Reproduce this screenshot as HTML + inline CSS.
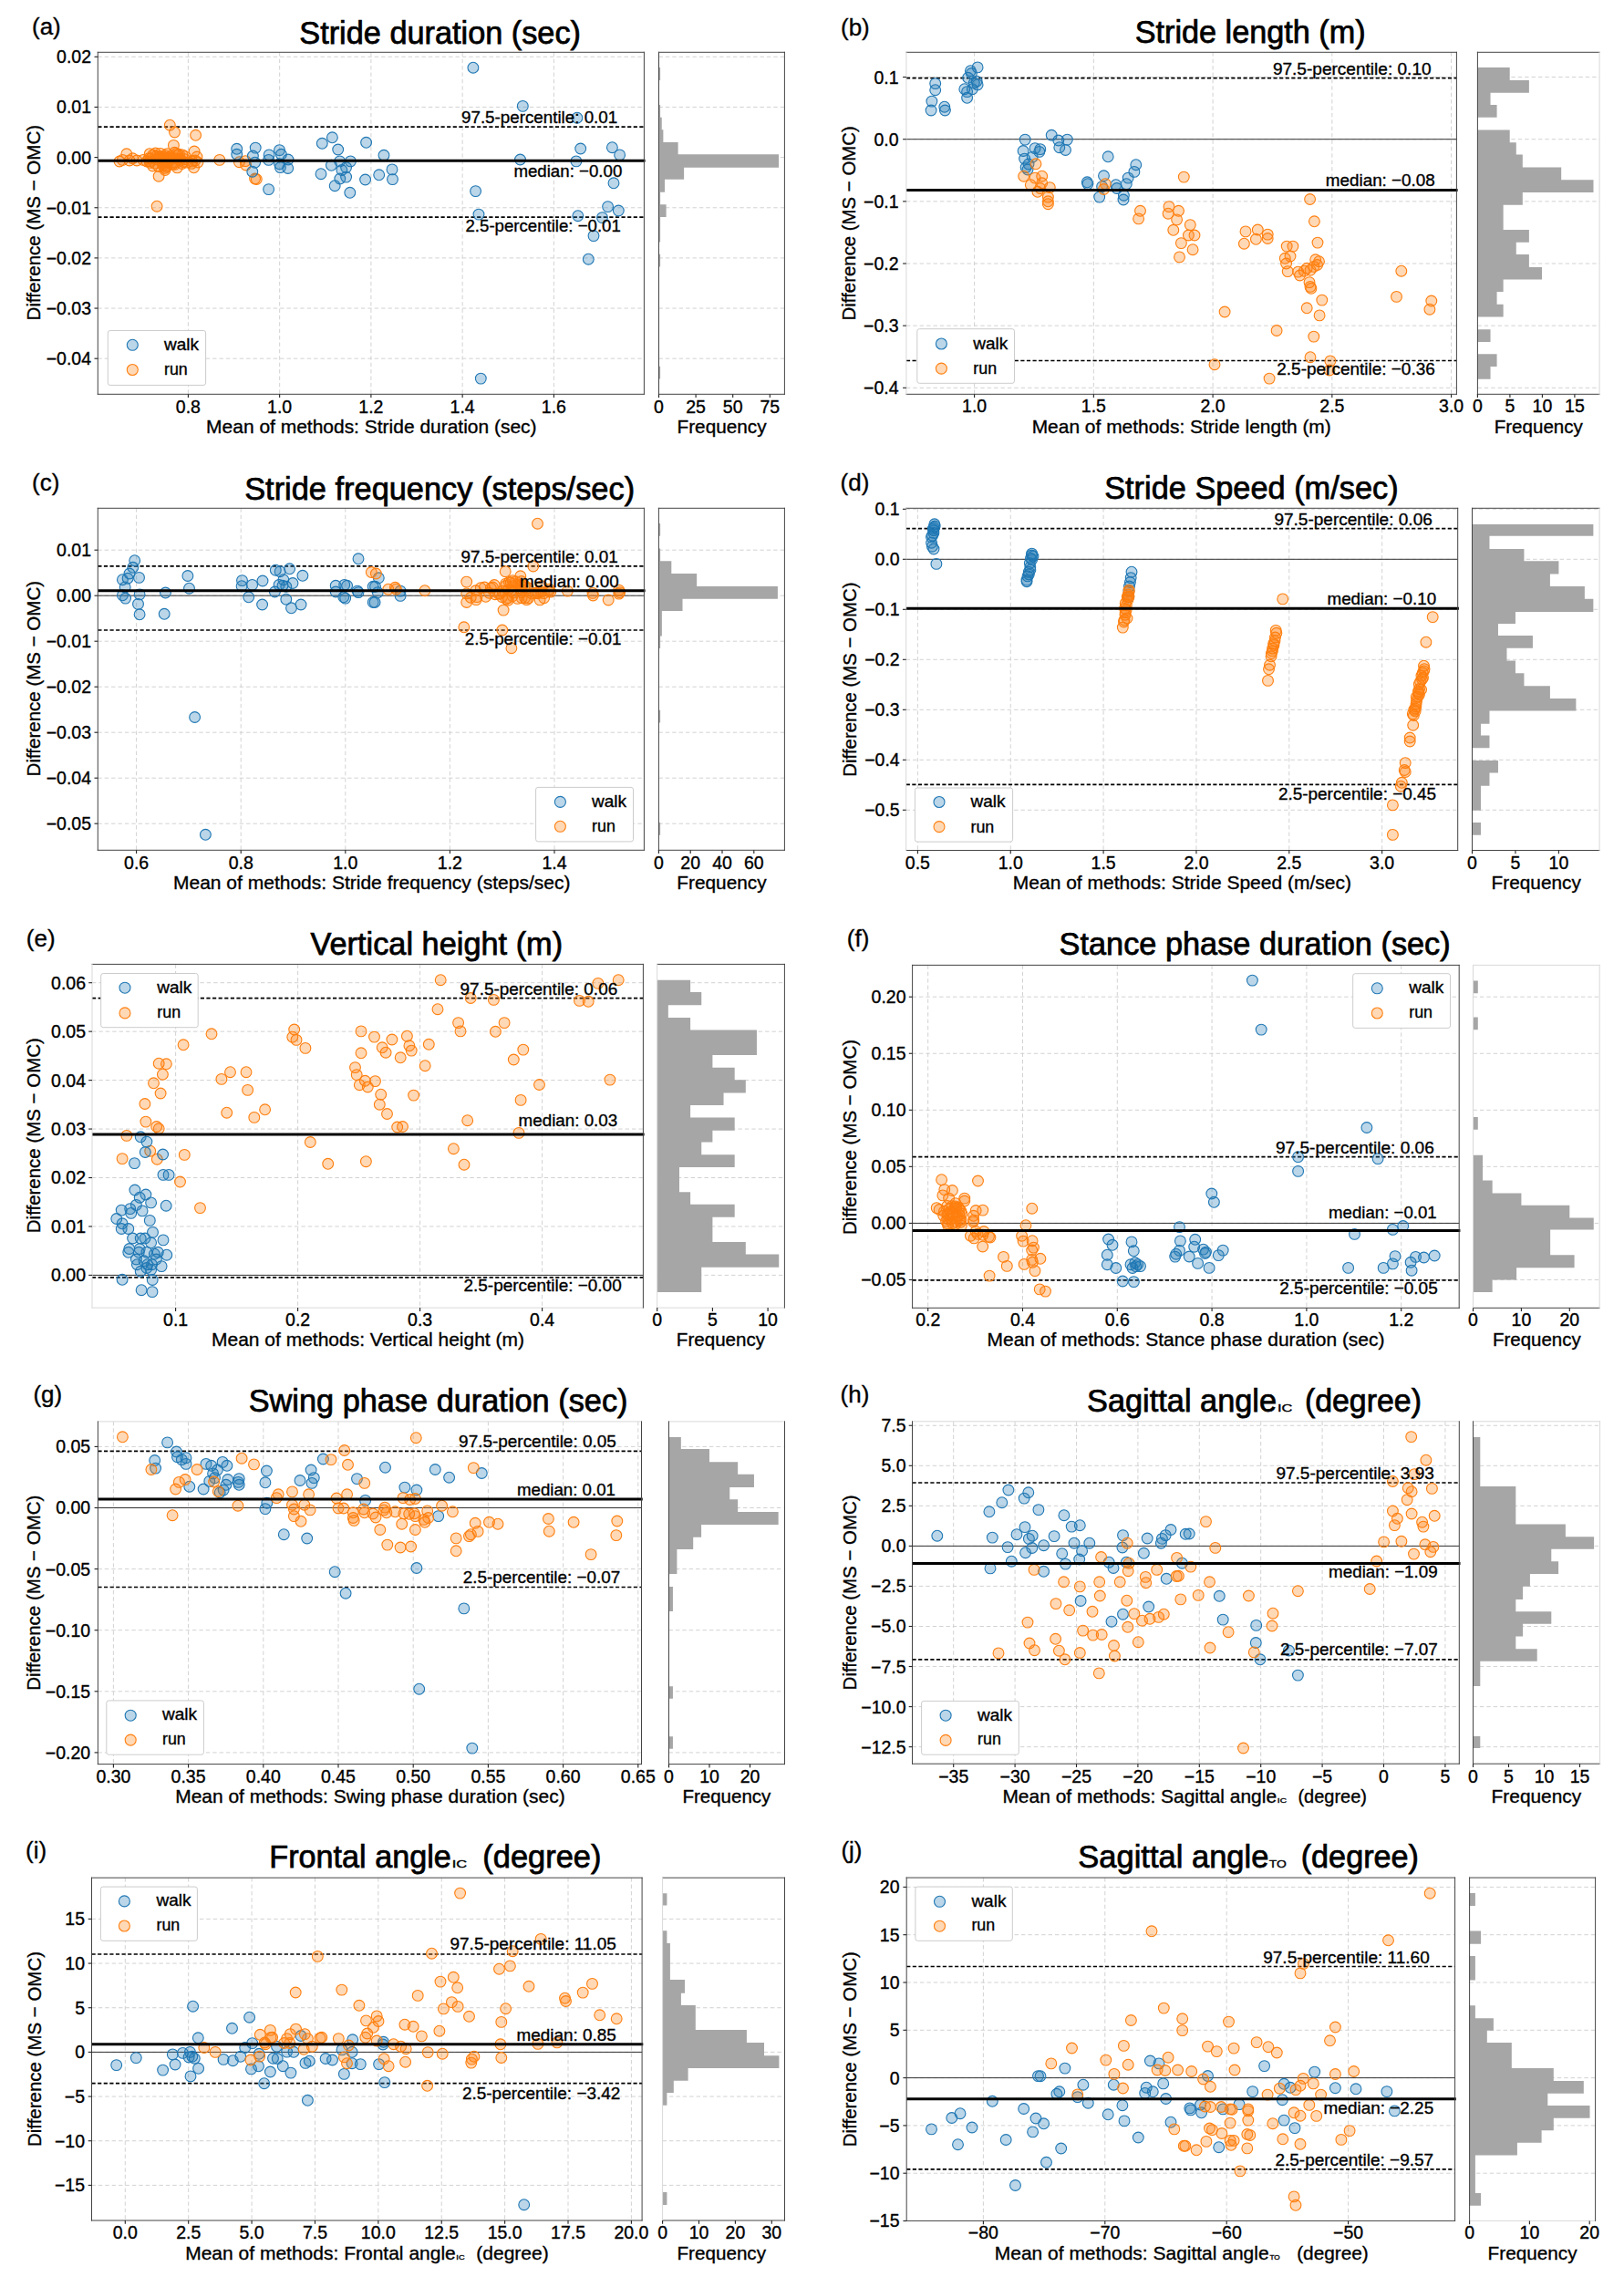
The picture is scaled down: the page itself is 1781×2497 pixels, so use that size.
<!DOCTYPE html>
<html><head><meta charset="utf-8"><title>Bland-Altman plots</title><style>
html,body{margin:0;padding:0;background:#fff;}
svg{display:block;}
text{font-family:'Liberation Sans', Arial, Helvetica, sans-serif;fill:#000;stroke:#000;stroke-width:0.35px;}
.b{fill:#1f77b4;fill-opacity:0.3;stroke:#1f77b4;stroke-width:1.1;}
.o{fill:#ff7f0e;fill-opacity:0.3;stroke:#ff7f0e;stroke-width:1.1;}
</style></head>
<body><svg xmlns="http://www.w3.org/2000/svg" width="1781" height="2497" viewBox="0 0 1781 2497">
<rect width="1781" height="2497" fill="#fff"/>
<line x1="206.4" y1="57.3" x2="206.4" y2="432.3" stroke="#cdcdcd" stroke-width="0.9" stroke-dasharray="4.4,3.0"/>
<line x1="306.65" y1="57.3" x2="306.65" y2="432.3" stroke="#cdcdcd" stroke-width="0.9" stroke-dasharray="4.4,3.0"/>
<line x1="406.9" y1="57.3" x2="406.9" y2="432.3" stroke="#cdcdcd" stroke-width="0.9" stroke-dasharray="4.4,3.0"/>
<line x1="507.15" y1="57.3" x2="507.15" y2="432.3" stroke="#cdcdcd" stroke-width="0.9" stroke-dasharray="4.4,3.0"/>
<line x1="607.4" y1="57.3" x2="607.4" y2="432.3" stroke="#cdcdcd" stroke-width="0.9" stroke-dasharray="4.4,3.0"/>
<line x1="107.3" y1="62.3" x2="706.4" y2="62.3" stroke="#cdcdcd" stroke-width="0.9" stroke-dasharray="4.4,3.0"/>
<line x1="722.5" y1="62.3" x2="860.4" y2="62.3" stroke="#cdcdcd" stroke-width="0.9" stroke-dasharray="4.4,3.0"/>
<line x1="107.3" y1="117.45" x2="706.4" y2="117.45" stroke="#cdcdcd" stroke-width="0.9" stroke-dasharray="4.4,3.0"/>
<line x1="722.5" y1="117.45" x2="860.4" y2="117.45" stroke="#cdcdcd" stroke-width="0.9" stroke-dasharray="4.4,3.0"/>
<line x1="722.5" y1="172.6" x2="860.4" y2="172.6" stroke="#cdcdcd" stroke-width="0.9" stroke-dasharray="4.4,3.0"/>
<line x1="107.3" y1="227.75" x2="706.4" y2="227.75" stroke="#cdcdcd" stroke-width="0.9" stroke-dasharray="4.4,3.0"/>
<line x1="722.5" y1="227.75" x2="860.4" y2="227.75" stroke="#cdcdcd" stroke-width="0.9" stroke-dasharray="4.4,3.0"/>
<line x1="107.3" y1="282.9" x2="706.4" y2="282.9" stroke="#cdcdcd" stroke-width="0.9" stroke-dasharray="4.4,3.0"/>
<line x1="722.5" y1="282.9" x2="860.4" y2="282.9" stroke="#cdcdcd" stroke-width="0.9" stroke-dasharray="4.4,3.0"/>
<line x1="107.3" y1="338.05" x2="706.4" y2="338.05" stroke="#cdcdcd" stroke-width="0.9" stroke-dasharray="4.4,3.0"/>
<line x1="722.5" y1="338.05" x2="860.4" y2="338.05" stroke="#cdcdcd" stroke-width="0.9" stroke-dasharray="4.4,3.0"/>
<line x1="107.3" y1="393.2" x2="706.4" y2="393.2" stroke="#cdcdcd" stroke-width="0.9" stroke-dasharray="4.4,3.0"/>
<line x1="722.5" y1="393.2" x2="860.4" y2="393.2" stroke="#cdcdcd" stroke-width="0.9" stroke-dasharray="4.4,3.0"/>
<path d="M722.5 73.9h1.62V88H722.5ZM722.5 115.1h1.62V128.7H722.5ZM722.5 128.7h3.25V142.2H722.5ZM722.5 142.2h4.87V156H722.5ZM722.5 156h21.11V169.3H722.5ZM722.5 169.3h131.54V183.7H722.5ZM722.5 183.7h27.61V196.8H722.5ZM722.5 196.8h6.5V210.8H722.5ZM722.5 210.8h1.62V224.2H722.5ZM722.5 224.2h8.12V238H722.5ZM722.5 238h1.62V251.8H722.5ZM722.5 251.8h1.62V265.5H722.5ZM722.5 278.8h1.62V292.6H722.5ZM722.5 401.8h1.62V415.6H722.5Z" fill="#a6a6a6"/>
<line x1="107.3" y1="139.2" x2="706.4" y2="139.2" stroke="#000" stroke-width="1.7" stroke-dasharray="4.2,2.4"/>
<line x1="107.3" y1="238.1" x2="706.4" y2="238.1" stroke="#000" stroke-width="1.7" stroke-dasharray="4.2,2.4"/>
<g><circle cx="134.4" cy="175.4" r="5.9" class="o"/><circle cx="138.8" cy="168.8" r="5.9" class="o"/><circle cx="145.5" cy="173.8" r="5.9" class="o"/><circle cx="157.1" cy="175.4" r="5.9" class="o"/><circle cx="167.7" cy="169.9" r="5.9" class="o"/><circle cx="186.3" cy="137.2" r="5.9" class="o"/><circle cx="191.5" cy="145" r="5.9" class="o"/><circle cx="214.6" cy="148.3" r="5.9" class="o"/><circle cx="190.4" cy="159.4" r="5.9" class="o"/><circle cx="213.1" cy="166" r="5.9" class="o"/><circle cx="212.6" cy="183.8" r="5.9" class="o"/><circle cx="174.1" cy="193.2" r="5.9" class="o"/><circle cx="181" cy="186.5" r="5.9" class="o"/><circle cx="172.1" cy="226.2" r="5.9" class="o"/><circle cx="240.8" cy="175.4" r="5.9" class="o"/><circle cx="262.4" cy="177.7" r="5.9" class="o"/><circle cx="269.1" cy="176.6" r="5.9" class="o"/><circle cx="269.6" cy="181" r="5.9" class="o"/><circle cx="279.6" cy="196" r="5.9" class="o"/><circle cx="281.3" cy="196.5" r="5.9" class="o"/><circle cx="131" cy="177" r="5.9" class="o"/><circle cx="142" cy="176" r="5.9" class="o"/><circle cx="150" cy="176" r="5.9" class="o"/><circle cx="161" cy="177" r="5.9" class="o"/><circle cx="165" cy="174" r="5.9" class="o"/><circle cx="216" cy="172" r="5.9" class="o"/><circle cx="217" cy="178" r="5.9" class="o"/><circle cx="214" cy="176" r="5.9" class="o"/><circle cx="169.45" cy="179.12" r="5.9" class="o"/><circle cx="175.24" cy="171.55" r="5.9" class="o"/><circle cx="186.78" cy="171.59" r="5.9" class="o"/><circle cx="200.86" cy="177.45" r="5.9" class="o"/><circle cx="167.51" cy="181.99" r="5.9" class="o"/><circle cx="183.77" cy="177.08" r="5.9" class="o"/><circle cx="199.59" cy="179.47" r="5.9" class="o"/><circle cx="197.63" cy="176.05" r="5.9" class="o"/><circle cx="173.98" cy="182.49" r="5.9" class="o"/><circle cx="164.22" cy="168.68" r="5.9" class="o"/><circle cx="181.3" cy="174.05" r="5.9" class="o"/><circle cx="173.4" cy="175.31" r="5.9" class="o"/><circle cx="184.02" cy="173.67" r="5.9" class="o"/><circle cx="173.5" cy="173.44" r="5.9" class="o"/><circle cx="164.03" cy="176.66" r="5.9" class="o"/><circle cx="203.2" cy="171.7" r="5.9" class="o"/><circle cx="171.92" cy="174.41" r="5.9" class="o"/><circle cx="210.64" cy="177.04" r="5.9" class="o"/><circle cx="178.97" cy="174.75" r="5.9" class="o"/><circle cx="197.63" cy="174.19" r="5.9" class="o"/><circle cx="183.26" cy="168.71" r="5.9" class="o"/><circle cx="202.84" cy="174.69" r="5.9" class="o"/><circle cx="191.2" cy="173.61" r="5.9" class="o"/><circle cx="205.36" cy="178.16" r="5.9" class="o"/><circle cx="182.89" cy="181.71" r="5.9" class="o"/><circle cx="171.3" cy="171.25" r="5.9" class="o"/><circle cx="195.38" cy="174.49" r="5.9" class="o"/><circle cx="180.99" cy="172.46" r="5.9" class="o"/><circle cx="188.01" cy="173.09" r="5.9" class="o"/><circle cx="164.42" cy="178.31" r="5.9" class="o"/><circle cx="191.47" cy="167.24" r="5.9" class="o"/><circle cx="181.89" cy="177.81" r="5.9" class="o"/><circle cx="210.14" cy="179.32" r="5.9" class="o"/><circle cx="199.99" cy="169.85" r="5.9" class="o"/><circle cx="187.66" cy="180.02" r="5.9" class="o"/><circle cx="175.93" cy="168.33" r="5.9" class="o"/><circle cx="163.27" cy="173.61" r="5.9" class="o"/><circle cx="179.61" cy="176.28" r="5.9" class="o"/><circle cx="191.05" cy="177.98" r="5.9" class="o"/><circle cx="178.94" cy="172.21" r="5.9" class="o"/><circle cx="193.56" cy="168.42" r="5.9" class="o"/><circle cx="170.58" cy="168.07" r="5.9" class="o"/><circle cx="196.45" cy="169.25" r="5.9" class="o"/><circle cx="194.91" cy="170.27" r="5.9" class="o"/><circle cx="181.27" cy="170.37" r="5.9" class="o"/><circle cx="178.64" cy="181.32" r="5.9" class="o"/><circle cx="189.36" cy="180.13" r="5.9" class="o"/><circle cx="180.94" cy="184.4" r="5.9" class="o"/><circle cx="191.77" cy="180.25" r="5.9" class="o"/><circle cx="194.35" cy="183.9" r="5.9" class="o"/><circle cx="178.56" cy="179.11" r="5.9" class="o"/><circle cx="182.33" cy="183.23" r="5.9" class="o"/><circle cx="259.7" cy="163.3" r="5.9" class="b"/><circle cx="259.7" cy="169.3" r="5.9" class="b"/><circle cx="280.2" cy="162.1" r="5.9" class="b"/><circle cx="277.4" cy="171" r="5.9" class="b"/><circle cx="279.6" cy="178.2" r="5.9" class="b"/><circle cx="276.8" cy="188.2" r="5.9" class="b"/><circle cx="294.6" cy="207.6" r="5.9" class="b"/><circle cx="295.1" cy="169.9" r="5.9" class="b"/><circle cx="294.6" cy="175.4" r="5.9" class="b"/><circle cx="306.5" cy="164.6" r="5.9" class="b"/><circle cx="308.4" cy="169.3" r="5.9" class="b"/><circle cx="306.5" cy="179.8" r="5.9" class="b"/><circle cx="307.4" cy="183.6" r="5.9" class="b"/><circle cx="316" cy="175" r="5.9" class="b"/><circle cx="315.7" cy="184.5" r="5.9" class="b"/><circle cx="353.3" cy="157.3" r="5.9" class="b"/><circle cx="364.4" cy="150.8" r="5.9" class="b"/><circle cx="370.7" cy="164" r="5.9" class="b"/><circle cx="363.4" cy="181.3" r="5.9" class="b"/><circle cx="372.6" cy="176.9" r="5.9" class="b"/><circle cx="384.4" cy="176.9" r="5.9" class="b"/><circle cx="374.9" cy="186.5" r="5.9" class="b"/><circle cx="379.6" cy="183.6" r="5.9" class="b"/><circle cx="379.6" cy="194.1" r="5.9" class="b"/><circle cx="372.8" cy="196" r="5.9" class="b"/><circle cx="352" cy="190.7" r="5.9" class="b"/><circle cx="367.2" cy="203.7" r="5.9" class="b"/><circle cx="383.8" cy="211.3" r="5.9" class="b"/><circle cx="401.6" cy="156.3" r="5.9" class="b"/><circle cx="400.6" cy="197" r="5.9" class="b"/><circle cx="518.9" cy="74.2" r="5.9" class="b"/><circle cx="573.3" cy="116.4" r="5.9" class="b"/><circle cx="632.9" cy="129.2" r="5.9" class="b"/><circle cx="421" cy="170.3" r="5.9" class="b"/><circle cx="430" cy="185.9" r="5.9" class="b"/><circle cx="415.7" cy="191.8" r="5.9" class="b"/><circle cx="430.5" cy="196.6" r="5.9" class="b"/><circle cx="570.5" cy="175" r="5.9" class="b"/><circle cx="636.7" cy="163" r="5.9" class="b"/><circle cx="631.9" cy="176.9" r="5.9" class="b"/><circle cx="671.4" cy="161.7" r="5.9" class="b"/><circle cx="679.6" cy="169.9" r="5.9" class="b"/><circle cx="673" cy="200.8" r="5.9" class="b"/><circle cx="521.6" cy="209.6" r="5.9" class="b"/><circle cx="525" cy="235.1" r="5.9" class="b"/><circle cx="633.8" cy="236.7" r="5.9" class="b"/><circle cx="660.5" cy="238.6" r="5.9" class="b"/><circle cx="666.6" cy="226.6" r="5.9" class="b"/><circle cx="678.3" cy="231" r="5.9" class="b"/><circle cx="651" cy="258.6" r="5.9" class="b"/><circle cx="645.3" cy="284.2" r="5.9" class="b"/><circle cx="527.3" cy="415.1" r="5.9" class="b"/></g>
<line x1="107.3" y1="176.2" x2="707.6" y2="176.2" stroke="#000" stroke-width="3"/>
<rect x="118.3" y="362.5" width="107.3" height="59.9" rx="2.5" fill="#fff" stroke="#cccccc" stroke-width="1"/>
<circle cx="145.3" cy="378.3" r="6.0" class="b"/>
<text x="180" y="383.8" font-size="18.5" text-anchor="start" textLength="38" lengthAdjust="spacingAndGlyphs">walk</text>
<circle cx="145.3" cy="405.5" r="6.0" class="o"/>
<text x="180" y="411.3" font-size="18.5" text-anchor="start" textLength="25.8" lengthAdjust="spacingAndGlyphs">run</text>
<text x="677.2" y="135.3" font-size="19" text-anchor="end" textLength="171.2" lengthAdjust="spacingAndGlyphs">97.5-percentile: 0.01</text>
<text x="682.3" y="193.8" font-size="19" text-anchor="end" textLength="118.9" lengthAdjust="spacingAndGlyphs">median: −0.00</text>
<text x="680.8" y="254.2" font-size="19" text-anchor="end" textLength="170.3" lengthAdjust="spacingAndGlyphs">2.5-percentile: −0.01</text>
<line x1="107.3" y1="57.3" x2="706.4" y2="57.3" stroke="#444" stroke-width="1" stroke-linecap="square"/>
<line x1="107.3" y1="432.3" x2="706.4" y2="432.3" stroke="#444" stroke-width="1" stroke-linecap="square"/>
<line x1="107.3" y1="57.3" x2="107.3" y2="432.3" stroke="#444" stroke-width="1" stroke-linecap="square"/>
<line x1="706.4" y1="57.3" x2="706.4" y2="432.3" stroke="#444" stroke-width="1" stroke-linecap="square"/>
<line x1="722.5" y1="57.3" x2="860.4" y2="57.3" stroke="#444" stroke-width="1" stroke-linecap="square"/>
<line x1="722.5" y1="432.3" x2="860.4" y2="432.3" stroke="#444" stroke-width="1" stroke-linecap="square"/>
<line x1="722.5" y1="57.3" x2="722.5" y2="432.3" stroke="#444" stroke-width="1" stroke-linecap="square"/>
<line x1="860.4" y1="57.3" x2="860.4" y2="432.3" stroke="#444" stroke-width="1" stroke-linecap="square"/>
<line x1="206.4" y1="432.3" x2="206.4" y2="436.1" stroke="#222" stroke-width="1.1"/>
<text x="206.4" y="452.8" font-size="19.5" text-anchor="middle">0.8</text>
<line x1="306.65" y1="432.3" x2="306.65" y2="436.1" stroke="#222" stroke-width="1.1"/>
<text x="306.65" y="452.8" font-size="19.5" text-anchor="middle">1.0</text>
<line x1="406.9" y1="432.3" x2="406.9" y2="436.1" stroke="#222" stroke-width="1.1"/>
<text x="406.9" y="452.8" font-size="19.5" text-anchor="middle">1.2</text>
<line x1="507.15" y1="432.3" x2="507.15" y2="436.1" stroke="#222" stroke-width="1.1"/>
<text x="507.15" y="452.8" font-size="19.5" text-anchor="middle">1.4</text>
<line x1="607.4" y1="432.3" x2="607.4" y2="436.1" stroke="#222" stroke-width="1.1"/>
<text x="607.4" y="452.8" font-size="19.5" text-anchor="middle">1.6</text>
<line x1="103.5" y1="62.3" x2="107.3" y2="62.3" stroke="#222" stroke-width="1.1"/>
<text x="100" y="69.28" font-size="19.5" text-anchor="end">0.02</text>
<line x1="103.5" y1="117.45" x2="107.3" y2="117.45" stroke="#222" stroke-width="1.1"/>
<text x="100" y="124.43" font-size="19.5" text-anchor="end">0.01</text>
<line x1="103.5" y1="172.6" x2="107.3" y2="172.6" stroke="#222" stroke-width="1.1"/>
<text x="100" y="179.58" font-size="19.5" text-anchor="end">0.00</text>
<line x1="103.5" y1="227.75" x2="107.3" y2="227.75" stroke="#222" stroke-width="1.1"/>
<text x="100" y="234.73" font-size="19.5" text-anchor="end">−0.01</text>
<line x1="103.5" y1="282.9" x2="107.3" y2="282.9" stroke="#222" stroke-width="1.1"/>
<text x="100" y="289.88" font-size="19.5" text-anchor="end">−0.02</text>
<line x1="103.5" y1="338.05" x2="107.3" y2="338.05" stroke="#222" stroke-width="1.1"/>
<text x="100" y="345.03" font-size="19.5" text-anchor="end">−0.03</text>
<line x1="103.5" y1="393.2" x2="107.3" y2="393.2" stroke="#222" stroke-width="1.1"/>
<text x="100" y="400.18" font-size="19.5" text-anchor="end">−0.04</text>
<line x1="722.5" y1="432.3" x2="722.5" y2="436.1" stroke="#222" stroke-width="1.1"/>
<text x="722.5" y="452.8" font-size="19.5" text-anchor="middle">0</text>
<line x1="763.1" y1="432.3" x2="763.1" y2="436.1" stroke="#222" stroke-width="1.1"/>
<text x="763.1" y="452.8" font-size="19.5" text-anchor="middle">25</text>
<line x1="803.7" y1="432.3" x2="803.7" y2="436.1" stroke="#222" stroke-width="1.1"/>
<text x="803.7" y="452.8" font-size="19.5" text-anchor="middle">50</text>
<line x1="844.3" y1="432.3" x2="844.3" y2="436.1" stroke="#222" stroke-width="1.1"/>
<text x="844.3" y="452.8" font-size="19.5" text-anchor="middle">75</text>
<text x="35" y="37.7" font-size="26" text-anchor="start">(a)</text>
<text x="328.3" y="47.6" font-size="34.3" text-anchor="start" textLength="308.7" lengthAdjust="spacingAndGlyphs" style="stroke-width:0.75px">Stride duration (sec)</text>
<text x="226.1" y="474.8" font-size="21" text-anchor="start" textLength="362.5" lengthAdjust="spacingAndGlyphs">Mean of methods: Stride duration (sec)</text>
<text x="742.5" y="474.8" font-size="21" text-anchor="start" textLength="98.1" lengthAdjust="spacingAndGlyphs">Frequency</text>
<text x="0" y="0" font-size="21" text-anchor="middle" transform="translate(43.7,244.2) rotate(-90)" textLength="214.4" lengthAdjust="spacingAndGlyphs">Difference (MS − OMC)</text>
<line x1="1068.6" y1="57.3" x2="1068.6" y2="432.3" stroke="#cdcdcd" stroke-width="0.9" stroke-dasharray="4.4,3.0"/>
<line x1="1199.35" y1="57.3" x2="1199.35" y2="432.3" stroke="#cdcdcd" stroke-width="0.9" stroke-dasharray="4.4,3.0"/>
<line x1="1330.1" y1="57.3" x2="1330.1" y2="432.3" stroke="#cdcdcd" stroke-width="0.9" stroke-dasharray="4.4,3.0"/>
<line x1="1460.85" y1="57.3" x2="1460.85" y2="432.3" stroke="#cdcdcd" stroke-width="0.9" stroke-dasharray="4.4,3.0"/>
<line x1="1591.6" y1="57.3" x2="1591.6" y2="432.3" stroke="#cdcdcd" stroke-width="0.9" stroke-dasharray="4.4,3.0"/>
<line x1="993.9" y1="84.55" x2="1597.4" y2="84.55" stroke="#cdcdcd" stroke-width="0.9" stroke-dasharray="4.4,3.0"/>
<line x1="1620.4" y1="84.55" x2="1754.1" y2="84.55" stroke="#cdcdcd" stroke-width="0.9" stroke-dasharray="4.4,3.0"/>
<line x1="993.9" y1="152.7" x2="1597.4" y2="152.7" stroke="#cdcdcd" stroke-width="0.9" stroke-dasharray="4.4,3.0"/>
<line x1="1620.4" y1="152.7" x2="1754.1" y2="152.7" stroke="#cdcdcd" stroke-width="0.9" stroke-dasharray="4.4,3.0"/>
<line x1="993.9" y1="220.85" x2="1597.4" y2="220.85" stroke="#cdcdcd" stroke-width="0.9" stroke-dasharray="4.4,3.0"/>
<line x1="1620.4" y1="220.85" x2="1754.1" y2="220.85" stroke="#cdcdcd" stroke-width="0.9" stroke-dasharray="4.4,3.0"/>
<line x1="993.9" y1="289" x2="1597.4" y2="289" stroke="#cdcdcd" stroke-width="0.9" stroke-dasharray="4.4,3.0"/>
<line x1="1620.4" y1="289" x2="1754.1" y2="289" stroke="#cdcdcd" stroke-width="0.9" stroke-dasharray="4.4,3.0"/>
<line x1="993.9" y1="357.15" x2="1597.4" y2="357.15" stroke="#cdcdcd" stroke-width="0.9" stroke-dasharray="4.4,3.0"/>
<line x1="1620.4" y1="357.15" x2="1754.1" y2="357.15" stroke="#cdcdcd" stroke-width="0.9" stroke-dasharray="4.4,3.0"/>
<line x1="993.9" y1="425.3" x2="1597.4" y2="425.3" stroke="#cdcdcd" stroke-width="0.9" stroke-dasharray="4.4,3.0"/>
<line x1="1620.4" y1="425.3" x2="1754.1" y2="425.3" stroke="#cdcdcd" stroke-width="0.9" stroke-dasharray="4.4,3.0"/>
<path d="M1620.4 74h35.3V88H1620.4ZM1620.4 88h56.48V101.7H1620.4ZM1620.4 101.7h14.12V115.1H1620.4ZM1620.4 115.1h21.18V128.85H1620.4ZM1620.4 142.5h35.3V156.2H1620.4ZM1620.4 156.2h42.36V169.4H1620.4ZM1620.4 169.4h49.42V183.6H1620.4ZM1620.4 183.6h91.78V197.3H1620.4ZM1620.4 197.3h127.08V211H1620.4ZM1620.4 211h49.42V224.7H1620.4ZM1620.4 224.7h28.24V238.4H1620.4ZM1620.4 238.4h28.24V252.1H1620.4ZM1620.4 252.1h56.48V265.8H1620.4ZM1620.4 265.8h42.36V279H1620.4ZM1620.4 279h56.48V292.9H1620.4ZM1620.4 292.9h70.6V306.6H1620.4ZM1620.4 306.6h28.24V320.1H1620.4ZM1620.4 320.1h21.18V333.8H1620.4ZM1620.4 333.8h28.24V347.55H1620.4ZM1620.4 361.2h14.12V374.95H1620.4ZM1620.4 388.2h21.18V402H1620.4ZM1620.4 402h14.12V415.75H1620.4Z" fill="#a6a6a6"/>
<line x1="993.9" y1="152.7" x2="1597.4" y2="152.7" stroke="#333" stroke-width="1"/>
<line x1="993.9" y1="85.7" x2="1597.4" y2="85.7" stroke="#000" stroke-width="1.7" stroke-dasharray="4.2,2.4"/>
<line x1="993.9" y1="395.5" x2="1597.4" y2="395.5" stroke="#000" stroke-width="1.7" stroke-dasharray="4.2,2.4"/>
<g><circle cx="1025.7" cy="91.6" r="5.9" class="b"/><circle cx="1025.7" cy="98.7" r="5.9" class="b"/><circle cx="1021.9" cy="111.1" r="5.9" class="b"/><circle cx="1021.1" cy="121" r="5.9" class="b"/><circle cx="1035.8" cy="117.2" r="5.9" class="b"/><circle cx="1036.4" cy="121" r="5.9" class="b"/><circle cx="1072.1" cy="73.9" r="5.9" class="b"/><circle cx="1064.4" cy="77.7" r="5.9" class="b"/><circle cx="1061.6" cy="85.3" r="5.9" class="b"/><circle cx="1071.1" cy="89.1" r="5.9" class="b"/><circle cx="1072.1" cy="92.9" r="5.9" class="b"/><circle cx="1057.8" cy="97.7" r="5.9" class="b"/><circle cx="1060.6" cy="100.6" r="5.9" class="b"/><circle cx="1060.6" cy="107.3" r="5.9" class="b"/><circle cx="1066.4" cy="97.7" r="5.9" class="b"/><circle cx="1068.3" cy="91" r="5.9" class="b"/><circle cx="1065.4" cy="80.5" r="5.9" class="b"/><circle cx="1124.2" cy="153.1" r="5.9" class="b"/><circle cx="1122.1" cy="165.5" r="5.9" class="b"/><circle cx="1135.1" cy="162.6" r="5.9" class="b"/><circle cx="1140.8" cy="163.6" r="5.9" class="b"/><circle cx="1139.8" cy="166.4" r="5.9" class="b"/><circle cx="1123.6" cy="174.1" r="5.9" class="b"/><circle cx="1132.2" cy="172.2" r="5.9" class="b"/><circle cx="1125.1" cy="183.6" r="5.9" class="b"/><circle cx="1153.2" cy="148.3" r="5.9" class="b"/><circle cx="1160.8" cy="154" r="5.9" class="b"/><circle cx="1170.4" cy="153.1" r="5.9" class="b"/><circle cx="1161.8" cy="161.7" r="5.9" class="b"/><circle cx="1168.5" cy="164.5" r="5.9" class="b"/><circle cx="1215.2" cy="171.8" r="5.9" class="b"/><circle cx="1245.8" cy="180.7" r="5.9" class="b"/><circle cx="1243.9" cy="188.4" r="5.9" class="b"/><circle cx="1237.2" cy="195.1" r="5.9" class="b"/><circle cx="1235.3" cy="201.7" r="5.9" class="b"/><circle cx="1210.5" cy="192.8" r="5.9" class="b"/><circle cx="1192.3" cy="199.8" r="5.9" class="b"/><circle cx="1192.9" cy="201.7" r="5.9" class="b"/><circle cx="1208.6" cy="204.6" r="5.9" class="b"/><circle cx="1223.8" cy="202.7" r="5.9" class="b"/><circle cx="1224.8" cy="206.5" r="5.9" class="b"/><circle cx="1205.7" cy="216.1" r="5.9" class="b"/><circle cx="1232.4" cy="214.2" r="5.9" class="b"/><circle cx="1232" cy="219" r="5.9" class="b"/><circle cx="1128" cy="180" r="5.9" class="b"/><circle cx="1127" cy="186" r="5.9" class="b"/><circle cx="1136" cy="179.8" r="5.9" class="o"/><circle cx="1122.7" cy="193.2" r="5.9" class="o"/><circle cx="1130.3" cy="202.7" r="5.9" class="o"/><circle cx="1135.1" cy="195.1" r="5.9" class="o"/><circle cx="1142.7" cy="193.2" r="5.9" class="o"/><circle cx="1142.7" cy="200.8" r="5.9" class="o"/><circle cx="1151.3" cy="205.6" r="5.9" class="o"/><circle cx="1137.9" cy="210.3" r="5.9" class="o"/><circle cx="1140.8" cy="206.5" r="5.9" class="o"/><circle cx="1149.4" cy="216.1" r="5.9" class="o"/><circle cx="1149.4" cy="220.8" r="5.9" class="o"/><circle cx="1149.4" cy="223.7" r="5.9" class="o"/><circle cx="1212.4" cy="201.7" r="5.9" class="o"/><circle cx="1210.5" cy="207.5" r="5.9" class="o"/><circle cx="1298.3" cy="194.1" r="5.9" class="o"/><circle cx="1250.5" cy="231.3" r="5.9" class="o"/><circle cx="1248.6" cy="239.9" r="5.9" class="o"/><circle cx="1282" cy="226.6" r="5.9" class="o"/><circle cx="1281.1" cy="234.2" r="5.9" class="o"/><circle cx="1292.5" cy="231.3" r="5.9" class="o"/><circle cx="1290.6" cy="240.9" r="5.9" class="o"/><circle cx="1286.8" cy="252.3" r="5.9" class="o"/><circle cx="1295.4" cy="266.6" r="5.9" class="o"/><circle cx="1293.5" cy="281.9" r="5.9" class="o"/><circle cx="1305.3" cy="246.6" r="5.9" class="o"/><circle cx="1303.4" cy="258" r="5.9" class="o"/><circle cx="1310" cy="258" r="5.9" class="o"/><circle cx="1308.1" cy="273.7" r="5.9" class="o"/><circle cx="1366" cy="253.9" r="5.9" class="o"/><circle cx="1379.3" cy="252" r="5.9" class="o"/><circle cx="1390.2" cy="257.1" r="5.9" class="o"/><circle cx="1390.2" cy="261.5" r="5.9" class="o"/><circle cx="1364.4" cy="267.2" r="5.9" class="o"/><circle cx="1377.4" cy="262.3" r="5.9" class="o"/><circle cx="1436.6" cy="218.5" r="5.9" class="o"/><circle cx="1441.4" cy="242.8" r="5.9" class="o"/><circle cx="1445" cy="266.1" r="5.9" class="o"/><circle cx="1411.2" cy="270.1" r="5.9" class="o"/><circle cx="1417.9" cy="270.1" r="5.9" class="o"/><circle cx="1415" cy="281" r="5.9" class="o"/><circle cx="1409.3" cy="283.3" r="5.9" class="o"/><circle cx="1410.6" cy="289" r="5.9" class="o"/><circle cx="1412.2" cy="297.6" r="5.9" class="o"/><circle cx="1423.6" cy="298.1" r="5.9" class="o"/><circle cx="1425.5" cy="302" r="5.9" class="o"/><circle cx="1430.3" cy="297.2" r="5.9" class="o"/><circle cx="1433.2" cy="294.3" r="5.9" class="o"/><circle cx="1440.8" cy="292.4" r="5.9" class="o"/><circle cx="1442.7" cy="284.8" r="5.9" class="o"/><circle cx="1446.5" cy="286.7" r="5.9" class="o"/><circle cx="1444.6" cy="290.5" r="5.9" class="o"/><circle cx="1437" cy="296.2" r="5.9" class="o"/><circle cx="1436" cy="309.6" r="5.9" class="o"/><circle cx="1437" cy="314.4" r="5.9" class="o"/><circle cx="1437.9" cy="316.3" r="5.9" class="o"/><circle cx="1449.8" cy="329.1" r="5.9" class="o"/><circle cx="1433.2" cy="337.8" r="5.9" class="o"/><circle cx="1447.1" cy="345.9" r="5.9" class="o"/><circle cx="1536.8" cy="297.2" r="5.9" class="o"/><circle cx="1531.5" cy="325.4" r="5.9" class="o"/><circle cx="1569.8" cy="330" r="5.9" class="o"/><circle cx="1567.9" cy="339.2" r="5.9" class="o"/><circle cx="1343.1" cy="342" r="5.9" class="o"/><circle cx="1400.1" cy="362.5" r="5.9" class="o"/><circle cx="1440.8" cy="369.1" r="5.9" class="o"/><circle cx="1437" cy="391.7" r="5.9" class="o"/><circle cx="1458.9" cy="395.9" r="5.9" class="o"/><circle cx="1458" cy="406" r="5.9" class="o"/><circle cx="1332" cy="399.7" r="5.9" class="o"/><circle cx="1392.1" cy="415.1" r="5.9" class="o"/></g>
<line x1="993.9" y1="208.4" x2="1598.6" y2="208.4" stroke="#000" stroke-width="3"/>
<rect x="1005.8" y="360.7" width="106.7" height="59.6" rx="2.5" fill="#fff" stroke="#cccccc" stroke-width="1"/>
<circle cx="1032.4" cy="377" r="6.0" class="b"/>
<text x="1067.3" y="382.6" font-size="18.5" text-anchor="start" textLength="38" lengthAdjust="spacingAndGlyphs">walk</text>
<circle cx="1032.4" cy="404.1" r="6.0" class="o"/>
<text x="1067.3" y="409.7" font-size="18.5" text-anchor="start" textLength="25.8" lengthAdjust="spacingAndGlyphs">run</text>
<text x="1569.6" y="81.5" font-size="19" text-anchor="end" textLength="173.7" lengthAdjust="spacingAndGlyphs">97.5-percentile: 0.10</text>
<text x="1573.8" y="204.2" font-size="19" text-anchor="end" textLength="120" lengthAdjust="spacingAndGlyphs">median: −0.08</text>
<text x="1573.8" y="411.3" font-size="19" text-anchor="end" textLength="173.5" lengthAdjust="spacingAndGlyphs">2.5-percentile: −0.36</text>
<line x1="993.9" y1="57.3" x2="1597.4" y2="57.3" stroke="#444" stroke-width="1" stroke-linecap="square"/>
<line x1="993.9" y1="432.3" x2="1597.4" y2="432.3" stroke="#444" stroke-width="1" stroke-linecap="square"/>
<line x1="993.9" y1="57.3" x2="993.9" y2="432.3" stroke="#d9d9d9" stroke-width="1" stroke-linecap="square"/>
<line x1="1597.4" y1="57.3" x2="1597.4" y2="432.3" stroke="#444" stroke-width="1" stroke-linecap="square"/>
<line x1="1620.4" y1="57.3" x2="1754.1" y2="57.3" stroke="#444" stroke-width="1" stroke-linecap="square"/>
<line x1="1620.4" y1="432.3" x2="1754.1" y2="432.3" stroke="#444" stroke-width="1" stroke-linecap="square"/>
<line x1="1620.4" y1="57.3" x2="1620.4" y2="432.3" stroke="#444" stroke-width="1" stroke-linecap="square"/>
<line x1="1754.1" y1="57.3" x2="1754.1" y2="432.3" stroke="#d9d9d9" stroke-width="1" stroke-linecap="square"/>
<line x1="1068.6" y1="432.3" x2="1068.6" y2="436.1" stroke="#222" stroke-width="1.1"/>
<text x="1068.6" y="452.1" font-size="19.5" text-anchor="middle">1.0</text>
<line x1="1199.35" y1="432.3" x2="1199.35" y2="436.1" stroke="#222" stroke-width="1.1"/>
<text x="1199.35" y="452.1" font-size="19.5" text-anchor="middle">1.5</text>
<line x1="1330.1" y1="432.3" x2="1330.1" y2="436.1" stroke="#222" stroke-width="1.1"/>
<text x="1330.1" y="452.1" font-size="19.5" text-anchor="middle">2.0</text>
<line x1="1460.85" y1="432.3" x2="1460.85" y2="436.1" stroke="#222" stroke-width="1.1"/>
<text x="1460.85" y="452.1" font-size="19.5" text-anchor="middle">2.5</text>
<line x1="1591.6" y1="432.3" x2="1591.6" y2="436.1" stroke="#222" stroke-width="1.1"/>
<text x="1591.6" y="452.1" font-size="19.5" text-anchor="middle">3.0</text>
<line x1="990.1" y1="84.55" x2="993.9" y2="84.55" stroke="#222" stroke-width="1.1"/>
<text x="985.5" y="91.53" font-size="19.5" text-anchor="end">0.1</text>
<line x1="990.1" y1="152.7" x2="993.9" y2="152.7" stroke="#222" stroke-width="1.1"/>
<text x="985.5" y="159.68" font-size="19.5" text-anchor="end">0.0</text>
<line x1="990.1" y1="220.85" x2="993.9" y2="220.85" stroke="#222" stroke-width="1.1"/>
<text x="985.5" y="227.83" font-size="19.5" text-anchor="end">−0.1</text>
<line x1="990.1" y1="289" x2="993.9" y2="289" stroke="#222" stroke-width="1.1"/>
<text x="985.5" y="295.98" font-size="19.5" text-anchor="end">−0.2</text>
<line x1="990.1" y1="357.15" x2="993.9" y2="357.15" stroke="#222" stroke-width="1.1"/>
<text x="985.5" y="364.13" font-size="19.5" text-anchor="end">−0.3</text>
<line x1="990.1" y1="425.3" x2="993.9" y2="425.3" stroke="#222" stroke-width="1.1"/>
<text x="985.5" y="432.28" font-size="19.5" text-anchor="end">−0.4</text>
<line x1="1620.4" y1="432.3" x2="1620.4" y2="436.1" stroke="#222" stroke-width="1.1"/>
<text x="1620.4" y="452.1" font-size="19.5" text-anchor="middle">0</text>
<line x1="1655.9" y1="432.3" x2="1655.9" y2="436.1" stroke="#222" stroke-width="1.1"/>
<text x="1655.9" y="452.1" font-size="19.5" text-anchor="middle">5</text>
<line x1="1691.4" y1="432.3" x2="1691.4" y2="436.1" stroke="#222" stroke-width="1.1"/>
<text x="1691.4" y="452.1" font-size="19.5" text-anchor="middle">10</text>
<line x1="1726.9" y1="432.3" x2="1726.9" y2="436.1" stroke="#222" stroke-width="1.1"/>
<text x="1726.9" y="452.1" font-size="19.5" text-anchor="middle">15</text>
<text x="922" y="38.6" font-size="26" text-anchor="start">(b)</text>
<text x="1244.7" y="47.2" font-size="34.3" text-anchor="start" textLength="253" lengthAdjust="spacingAndGlyphs" style="stroke-width:0.75px">Stride length (m)</text>
<text x="1131.7" y="475.3" font-size="21" text-anchor="start" textLength="328.1" lengthAdjust="spacingAndGlyphs">Mean of methods: Stride length (m)</text>
<text x="1638.7" y="475.3" font-size="21" text-anchor="start" textLength="97.2" lengthAdjust="spacingAndGlyphs">Frequency</text>
<text x="0" y="0" font-size="21" text-anchor="middle" transform="translate(938.4,244.8) rotate(-90)" textLength="213.2" lengthAdjust="spacingAndGlyphs">Difference (MS − OMC)</text>
<line x1="149.6" y1="557.3" x2="149.6" y2="932.3" stroke="#cdcdcd" stroke-width="0.9" stroke-dasharray="4.4,3.0"/>
<line x1="264.2" y1="557.3" x2="264.2" y2="932.3" stroke="#cdcdcd" stroke-width="0.9" stroke-dasharray="4.4,3.0"/>
<line x1="378.8" y1="557.3" x2="378.8" y2="932.3" stroke="#cdcdcd" stroke-width="0.9" stroke-dasharray="4.4,3.0"/>
<line x1="493.4" y1="557.3" x2="493.4" y2="932.3" stroke="#cdcdcd" stroke-width="0.9" stroke-dasharray="4.4,3.0"/>
<line x1="608" y1="557.3" x2="608" y2="932.3" stroke="#cdcdcd" stroke-width="0.9" stroke-dasharray="4.4,3.0"/>
<line x1="107.3" y1="603.2" x2="706.4" y2="603.2" stroke="#cdcdcd" stroke-width="0.9" stroke-dasharray="4.4,3.0"/>
<line x1="722.4" y1="603.2" x2="860.4" y2="603.2" stroke="#cdcdcd" stroke-width="0.9" stroke-dasharray="4.4,3.0"/>
<line x1="107.3" y1="653.2" x2="706.4" y2="653.2" stroke="#cdcdcd" stroke-width="0.9" stroke-dasharray="4.4,3.0"/>
<line x1="722.4" y1="653.2" x2="860.4" y2="653.2" stroke="#cdcdcd" stroke-width="0.9" stroke-dasharray="4.4,3.0"/>
<line x1="107.3" y1="703.2" x2="706.4" y2="703.2" stroke="#cdcdcd" stroke-width="0.9" stroke-dasharray="4.4,3.0"/>
<line x1="722.4" y1="703.2" x2="860.4" y2="703.2" stroke="#cdcdcd" stroke-width="0.9" stroke-dasharray="4.4,3.0"/>
<line x1="107.3" y1="753.2" x2="706.4" y2="753.2" stroke="#cdcdcd" stroke-width="0.9" stroke-dasharray="4.4,3.0"/>
<line x1="722.4" y1="753.2" x2="860.4" y2="753.2" stroke="#cdcdcd" stroke-width="0.9" stroke-dasharray="4.4,3.0"/>
<line x1="107.3" y1="803.2" x2="706.4" y2="803.2" stroke="#cdcdcd" stroke-width="0.9" stroke-dasharray="4.4,3.0"/>
<line x1="722.4" y1="803.2" x2="860.4" y2="803.2" stroke="#cdcdcd" stroke-width="0.9" stroke-dasharray="4.4,3.0"/>
<line x1="107.3" y1="853.2" x2="706.4" y2="853.2" stroke="#cdcdcd" stroke-width="0.9" stroke-dasharray="4.4,3.0"/>
<line x1="722.4" y1="853.2" x2="860.4" y2="853.2" stroke="#cdcdcd" stroke-width="0.9" stroke-dasharray="4.4,3.0"/>
<line x1="107.3" y1="903.2" x2="706.4" y2="903.2" stroke="#cdcdcd" stroke-width="0.9" stroke-dasharray="4.4,3.0"/>
<line x1="722.4" y1="903.2" x2="860.4" y2="903.2" stroke="#cdcdcd" stroke-width="0.9" stroke-dasharray="4.4,3.0"/>
<path d="M722.4 574.1h1.74V587.8H722.4ZM722.4 601.5h1.74V615.2H722.4ZM722.4 615.2h13.92V628.9H722.4ZM722.4 628.9h41.76V643.1H722.4ZM722.4 643.1h130.5V656.8H722.4ZM722.4 656.8h26.1V670H722.4ZM722.4 670h3.48V683.7H722.4ZM722.4 683.7h3.48V697.4H722.4ZM722.4 697.4h1.74V711.1H722.4ZM722.4 778.7h1.74V792.4H722.4ZM722.4 902h1.74V915.7H722.4Z" fill="#a6a6a6"/>
<line x1="107.3" y1="653.2" x2="706.4" y2="653.2" stroke="#333" stroke-width="1"/>
<line x1="107.3" y1="620.8" x2="706.4" y2="620.8" stroke="#000" stroke-width="1.7" stroke-dasharray="4.2,2.4"/>
<line x1="107.3" y1="691" x2="706.4" y2="691" stroke="#000" stroke-width="1.7" stroke-dasharray="4.2,2.4"/>
<g><circle cx="147.7" cy="614.7" r="5.9" class="b"/><circle cx="145.8" cy="622.3" r="5.9" class="b"/><circle cx="142" cy="629" r="5.9" class="b"/><circle cx="140.1" cy="634.3" r="5.9" class="b"/><circle cx="134.4" cy="635.7" r="5.9" class="b"/><circle cx="152.5" cy="633.4" r="5.9" class="b"/><circle cx="137.2" cy="643.9" r="5.9" class="b"/><circle cx="134.4" cy="652.8" r="5.9" class="b"/><circle cx="137.6" cy="656.1" r="5.9" class="b"/><circle cx="153.1" cy="651.9" r="5.9" class="b"/><circle cx="151.5" cy="662.4" r="5.9" class="b"/><circle cx="153.1" cy="673.8" r="5.9" class="b"/><circle cx="181.5" cy="650" r="5.9" class="b"/><circle cx="180.2" cy="673.3" r="5.9" class="b"/><circle cx="205.9" cy="631.5" r="5.9" class="b"/><circle cx="207.5" cy="645.2" r="5.9" class="b"/><circle cx="213.6" cy="786.5" r="5.9" class="b"/><circle cx="225.4" cy="915.3" r="5.9" class="b"/><circle cx="265.5" cy="636.6" r="5.9" class="b"/><circle cx="265.1" cy="642.7" r="5.9" class="b"/><circle cx="276.6" cy="641.4" r="5.9" class="b"/><circle cx="272.7" cy="654.8" r="5.9" class="b"/><circle cx="288" cy="637" r="5.9" class="b"/><circle cx="287.6" cy="663" r="5.9" class="b"/><circle cx="302.3" cy="625.2" r="5.9" class="b"/><circle cx="307.1" cy="626.7" r="5.9" class="b"/><circle cx="317.6" cy="623.8" r="5.9" class="b"/><circle cx="331.9" cy="631.3" r="5.9" class="b"/><circle cx="310.9" cy="635.7" r="5.9" class="b"/><circle cx="306.1" cy="641.4" r="5.9" class="b"/><circle cx="310" cy="642.3" r="5.9" class="b"/><circle cx="313.8" cy="643.3" r="5.9" class="b"/><circle cx="321" cy="639.5" r="5.9" class="b"/><circle cx="301.4" cy="649" r="5.9" class="b"/><circle cx="313.8" cy="657.2" r="5.9" class="b"/><circle cx="319.5" cy="666.8" r="5.9" class="b"/><circle cx="330" cy="663" r="5.9" class="b"/><circle cx="393" cy="612.8" r="5.9" class="b"/><circle cx="368.2" cy="642.3" r="5.9" class="b"/><circle cx="368.2" cy="649" r="5.9" class="b"/><circle cx="377.7" cy="641.4" r="5.9" class="b"/><circle cx="380.6" cy="642.3" r="5.9" class="b"/><circle cx="376.8" cy="654.8" r="5.9" class="b"/><circle cx="378.7" cy="656.1" r="5.9" class="b"/><circle cx="392" cy="648.1" r="5.9" class="b"/><circle cx="393" cy="649.6" r="5.9" class="b"/><circle cx="409.2" cy="643.3" r="5.9" class="b"/><circle cx="409.2" cy="660.5" r="5.9" class="b"/><circle cx="415.3" cy="633.8" r="5.9" class="b"/><circle cx="411.5" cy="643.3" r="5.9" class="b"/><circle cx="414.3" cy="649.6" r="5.9" class="b"/><circle cx="439.1" cy="648.1" r="5.9" class="b"/><circle cx="439.1" cy="653.4" r="5.9" class="b"/><circle cx="411.1" cy="660.5" r="5.9" class="b"/><circle cx="407.3" cy="627.5" r="5.9" class="o"/><circle cx="412.4" cy="629" r="5.9" class="o"/><circle cx="425.8" cy="646.2" r="5.9" class="o"/><circle cx="433.4" cy="644.3" r="5.9" class="o"/><circle cx="434.4" cy="646.2" r="5.9" class="o"/><circle cx="465.9" cy="647.7" r="5.9" class="o"/><circle cx="589.5" cy="574.2" r="5.9" class="o"/><circle cx="584.8" cy="621" r="5.9" class="o"/><circle cx="554.2" cy="626.7" r="5.9" class="o"/><circle cx="511.7" cy="638.1" r="5.9" class="o"/><circle cx="570.8" cy="631.8" r="5.9" class="o"/><circle cx="511.7" cy="650.9" r="5.9" class="o"/><circle cx="511.7" cy="660.5" r="5.9" class="o"/><circle cx="522.2" cy="657.6" r="5.9" class="o"/><circle cx="552.1" cy="669.1" r="5.9" class="o"/><circle cx="508.8" cy="687.8" r="5.9" class="o"/><circle cx="550.8" cy="691" r="5.9" class="o"/><circle cx="560.9" cy="710.7" r="5.9" class="o"/><circle cx="622.4" cy="648.1" r="5.9" class="o"/><circle cx="650" cy="650.4" r="5.9" class="o"/><circle cx="667.2" cy="658" r="5.9" class="o"/><circle cx="678.7" cy="647.1" r="5.9" class="o"/><circle cx="679.6" cy="649.6" r="5.9" class="o"/><circle cx="596.6" cy="655.7" r="5.9" class="o"/><circle cx="575.6" cy="655.7" r="5.9" class="o"/><circle cx="577.5" cy="657.6" r="5.9" class="o"/><circle cx="558.4" cy="638.5" r="5.9" class="o"/><circle cx="562.2" cy="636.6" r="5.9" class="o"/><circle cx="602.3" cy="646.2" r="5.9" class="o"/><circle cx="521.7" cy="647.8" r="5.9" class="o"/><circle cx="531.4" cy="644" r="5.9" class="o"/><circle cx="532.7" cy="654.3" r="5.9" class="o"/><circle cx="540.4" cy="644" r="5.9" class="o"/><circle cx="543" cy="651.7" r="5.9" class="o"/><circle cx="554.7" cy="640.1" r="5.9" class="o"/><circle cx="562.4" cy="642.7" r="5.9" class="o"/><circle cx="557.2" cy="655.6" r="5.9" class="o"/><circle cx="557.2" cy="658.2" r="5.9" class="o"/><circle cx="587" cy="650.4" r="5.9" class="o"/><circle cx="603.8" cy="649.1" r="5.9" class="o"/><circle cx="650.4" cy="653" r="5.9" class="o"/><circle cx="678.8" cy="651.1" r="5.9" class="o"/><circle cx="536.42" cy="650.25" r="5.9" class="o"/><circle cx="548.3" cy="651.27" r="5.9" class="o"/><circle cx="571.31" cy="642.11" r="5.9" class="o"/><circle cx="516.19" cy="655.24" r="5.9" class="o"/><circle cx="538.34" cy="644.98" r="5.9" class="o"/><circle cx="590.28" cy="649.1" r="5.9" class="o"/><circle cx="572.52" cy="643.56" r="5.9" class="o"/><circle cx="572.14" cy="655.76" r="5.9" class="o"/><circle cx="562.09" cy="653.6" r="5.9" class="o"/><circle cx="575.43" cy="642.09" r="5.9" class="o"/><circle cx="583.24" cy="651.05" r="5.9" class="o"/><circle cx="542.11" cy="641.53" r="5.9" class="o"/><circle cx="592.9" cy="649.04" r="5.9" class="o"/><circle cx="579.69" cy="655.94" r="5.9" class="o"/><circle cx="550.55" cy="654.62" r="5.9" class="o"/><circle cx="555.02" cy="656.9" r="5.9" class="o"/><circle cx="594.1" cy="642.66" r="5.9" class="o"/><circle cx="527.24" cy="644.69" r="5.9" class="o"/><circle cx="601.89" cy="648.41" r="5.9" class="o"/><circle cx="571.4" cy="646.12" r="5.9" class="o"/><circle cx="560.65" cy="647.56" r="5.9" class="o"/><circle cx="546.58" cy="650.95" r="5.9" class="o"/><circle cx="567.58" cy="656.37" r="5.9" class="o"/><circle cx="592.08" cy="657.85" r="5.9" class="o"/><circle cx="575.41" cy="643.77" r="5.9" class="o"/><circle cx="596.42" cy="650.67" r="5.9" class="o"/><circle cx="579.24" cy="644.59" r="5.9" class="o"/><circle cx="589.84" cy="650.75" r="5.9" class="o"/><circle cx="522.97" cy="654.61" r="5.9" class="o"/><circle cx="560.26" cy="638.96" r="5.9" class="o"/><circle cx="557.35" cy="646.99" r="5.9" class="o"/><circle cx="571.82" cy="637.57" r="5.9" class="o"/><circle cx="565.36" cy="637.58" r="5.9" class="o"/><circle cx="567.96" cy="641.3" r="5.9" class="o"/><circle cx="572.02" cy="649.75" r="5.9" class="o"/><circle cx="562.64" cy="649.98" r="5.9" class="o"/><circle cx="554.93" cy="642.3" r="5.9" class="o"/><circle cx="551.06" cy="648.28" r="5.9" class="o"/></g>
<line x1="107.3" y1="647.7" x2="707.6" y2="647.7" stroke="#000" stroke-width="3"/>
<rect x="587.6" y="863.4" width="106.9" height="59.5" rx="2.5" fill="#fff" stroke="#cccccc" stroke-width="1"/>
<circle cx="614.4" cy="879.4" r="6.0" class="b"/>
<text x="649.1" y="885.3" font-size="18.5" text-anchor="start" textLength="38" lengthAdjust="spacingAndGlyphs">walk</text>
<circle cx="614.4" cy="906.3" r="6.0" class="o"/>
<text x="649.1" y="912" font-size="18.5" text-anchor="start" textLength="25.8" lengthAdjust="spacingAndGlyphs">run</text>
<text x="677.7" y="617.2" font-size="19" text-anchor="end" textLength="172.1" lengthAdjust="spacingAndGlyphs">97.5-percentile: 0.01</text>
<text x="678.7" y="643.9" font-size="19" text-anchor="end" textLength="108.8" lengthAdjust="spacingAndGlyphs">median: 0.00</text>
<text x="681.5" y="706.9" font-size="19" text-anchor="end" textLength="171.7" lengthAdjust="spacingAndGlyphs">2.5-percentile: −0.01</text>
<line x1="107.3" y1="557.3" x2="706.4" y2="557.3" stroke="#444" stroke-width="1" stroke-linecap="square"/>
<line x1="107.3" y1="932.3" x2="706.4" y2="932.3" stroke="#444" stroke-width="1" stroke-linecap="square"/>
<line x1="107.3" y1="557.3" x2="107.3" y2="932.3" stroke="#444" stroke-width="1" stroke-linecap="square"/>
<line x1="706.4" y1="557.3" x2="706.4" y2="932.3" stroke="#444" stroke-width="1" stroke-linecap="square"/>
<line x1="722.4" y1="557.3" x2="860.4" y2="557.3" stroke="#444" stroke-width="1" stroke-linecap="square"/>
<line x1="722.4" y1="932.3" x2="860.4" y2="932.3" stroke="#444" stroke-width="1" stroke-linecap="square"/>
<line x1="722.4" y1="557.3" x2="722.4" y2="932.3" stroke="#444" stroke-width="1" stroke-linecap="square"/>
<line x1="860.4" y1="557.3" x2="860.4" y2="932.3" stroke="#444" stroke-width="1" stroke-linecap="square"/>
<line x1="149.6" y1="932.3" x2="149.6" y2="936.1" stroke="#222" stroke-width="1.1"/>
<text x="149.6" y="952.8" font-size="19.5" text-anchor="middle">0.6</text>
<line x1="264.2" y1="932.3" x2="264.2" y2="936.1" stroke="#222" stroke-width="1.1"/>
<text x="264.2" y="952.8" font-size="19.5" text-anchor="middle">0.8</text>
<line x1="378.8" y1="932.3" x2="378.8" y2="936.1" stroke="#222" stroke-width="1.1"/>
<text x="378.8" y="952.8" font-size="19.5" text-anchor="middle">1.0</text>
<line x1="493.4" y1="932.3" x2="493.4" y2="936.1" stroke="#222" stroke-width="1.1"/>
<text x="493.4" y="952.8" font-size="19.5" text-anchor="middle">1.2</text>
<line x1="608" y1="932.3" x2="608" y2="936.1" stroke="#222" stroke-width="1.1"/>
<text x="608" y="952.8" font-size="19.5" text-anchor="middle">1.4</text>
<line x1="103.5" y1="603.2" x2="107.3" y2="603.2" stroke="#222" stroke-width="1.1"/>
<text x="100" y="610.18" font-size="19.5" text-anchor="end">0.01</text>
<line x1="103.5" y1="653.2" x2="107.3" y2="653.2" stroke="#222" stroke-width="1.1"/>
<text x="100" y="660.18" font-size="19.5" text-anchor="end">0.00</text>
<line x1="103.5" y1="703.2" x2="107.3" y2="703.2" stroke="#222" stroke-width="1.1"/>
<text x="100" y="710.18" font-size="19.5" text-anchor="end">−0.01</text>
<line x1="103.5" y1="753.2" x2="107.3" y2="753.2" stroke="#222" stroke-width="1.1"/>
<text x="100" y="760.18" font-size="19.5" text-anchor="end">−0.02</text>
<line x1="103.5" y1="803.2" x2="107.3" y2="803.2" stroke="#222" stroke-width="1.1"/>
<text x="100" y="810.18" font-size="19.5" text-anchor="end">−0.03</text>
<line x1="103.5" y1="853.2" x2="107.3" y2="853.2" stroke="#222" stroke-width="1.1"/>
<text x="100" y="860.18" font-size="19.5" text-anchor="end">−0.04</text>
<line x1="103.5" y1="903.2" x2="107.3" y2="903.2" stroke="#222" stroke-width="1.1"/>
<text x="100" y="910.18" font-size="19.5" text-anchor="end">−0.05</text>
<line x1="722.4" y1="932.3" x2="722.4" y2="936.1" stroke="#222" stroke-width="1.1"/>
<text x="722.4" y="952.8" font-size="19.5" text-anchor="middle">0</text>
<line x1="757.2" y1="932.3" x2="757.2" y2="936.1" stroke="#222" stroke-width="1.1"/>
<text x="757.2" y="952.8" font-size="19.5" text-anchor="middle">20</text>
<line x1="792" y1="932.3" x2="792" y2="936.1" stroke="#222" stroke-width="1.1"/>
<text x="792" y="952.8" font-size="19.5" text-anchor="middle">40</text>
<line x1="826.8" y1="932.3" x2="826.8" y2="936.1" stroke="#222" stroke-width="1.1"/>
<text x="826.8" y="952.8" font-size="19.5" text-anchor="middle">60</text>
<text x="35" y="537.7" font-size="26" text-anchor="start">(c)</text>
<text x="268.2" y="547.5" font-size="34.3" text-anchor="start" textLength="427.9" lengthAdjust="spacingAndGlyphs" style="stroke-width:0.75px">Stride frequency (steps/sec)</text>
<text x="190" y="975" font-size="21" text-anchor="start" textLength="435.4" lengthAdjust="spacingAndGlyphs">Mean of methods: Stride frequency (steps/sec)</text>
<text x="742.3" y="975" font-size="21" text-anchor="start" textLength="98.3" lengthAdjust="spacingAndGlyphs">Frequency</text>
<text x="0" y="0" font-size="21" text-anchor="middle" transform="translate(43.7,744.2) rotate(-90)" textLength="214.4" lengthAdjust="spacingAndGlyphs">Difference (MS − OMC)</text>
<line x1="1006.4" y1="557.3" x2="1006.4" y2="932.5" stroke="#cdcdcd" stroke-width="0.9" stroke-dasharray="4.4,3.0"/>
<line x1="1108.25" y1="557.3" x2="1108.25" y2="932.5" stroke="#cdcdcd" stroke-width="0.9" stroke-dasharray="4.4,3.0"/>
<line x1="1210.1" y1="557.3" x2="1210.1" y2="932.5" stroke="#cdcdcd" stroke-width="0.9" stroke-dasharray="4.4,3.0"/>
<line x1="1311.95" y1="557.3" x2="1311.95" y2="932.5" stroke="#cdcdcd" stroke-width="0.9" stroke-dasharray="4.4,3.0"/>
<line x1="1413.8" y1="557.3" x2="1413.8" y2="932.5" stroke="#cdcdcd" stroke-width="0.9" stroke-dasharray="4.4,3.0"/>
<line x1="1515.65" y1="557.3" x2="1515.65" y2="932.5" stroke="#cdcdcd" stroke-width="0.9" stroke-dasharray="4.4,3.0"/>
<line x1="993.7" y1="558.3" x2="1598.7" y2="558.3" stroke="#cdcdcd" stroke-width="0.9" stroke-dasharray="4.4,3.0"/>
<line x1="1614.5" y1="558.3" x2="1754.1" y2="558.3" stroke="#cdcdcd" stroke-width="0.9" stroke-dasharray="4.4,3.0"/>
<line x1="993.7" y1="613.3" x2="1598.7" y2="613.3" stroke="#cdcdcd" stroke-width="0.9" stroke-dasharray="4.4,3.0"/>
<line x1="1614.5" y1="613.3" x2="1754.1" y2="613.3" stroke="#cdcdcd" stroke-width="0.9" stroke-dasharray="4.4,3.0"/>
<line x1="993.7" y1="668.3" x2="1598.7" y2="668.3" stroke="#cdcdcd" stroke-width="0.9" stroke-dasharray="4.4,3.0"/>
<line x1="1614.5" y1="668.3" x2="1754.1" y2="668.3" stroke="#cdcdcd" stroke-width="0.9" stroke-dasharray="4.4,3.0"/>
<line x1="993.7" y1="723.3" x2="1598.7" y2="723.3" stroke="#cdcdcd" stroke-width="0.9" stroke-dasharray="4.4,3.0"/>
<line x1="1614.5" y1="723.3" x2="1754.1" y2="723.3" stroke="#cdcdcd" stroke-width="0.9" stroke-dasharray="4.4,3.0"/>
<line x1="993.7" y1="778.3" x2="1598.7" y2="778.3" stroke="#cdcdcd" stroke-width="0.9" stroke-dasharray="4.4,3.0"/>
<line x1="1614.5" y1="778.3" x2="1754.1" y2="778.3" stroke="#cdcdcd" stroke-width="0.9" stroke-dasharray="4.4,3.0"/>
<line x1="993.7" y1="833.3" x2="1598.7" y2="833.3" stroke="#cdcdcd" stroke-width="0.9" stroke-dasharray="4.4,3.0"/>
<line x1="1614.5" y1="833.3" x2="1754.1" y2="833.3" stroke="#cdcdcd" stroke-width="0.9" stroke-dasharray="4.4,3.0"/>
<line x1="993.7" y1="888.3" x2="1598.7" y2="888.3" stroke="#cdcdcd" stroke-width="0.9" stroke-dasharray="4.4,3.0"/>
<line x1="1614.5" y1="888.3" x2="1754.1" y2="888.3" stroke="#cdcdcd" stroke-width="0.9" stroke-dasharray="4.4,3.0"/>
<path d="M1614.5 575h132.86V587.8H1614.5ZM1614.5 587.8h18.98V602H1614.5ZM1614.5 602h56.94V615.2H1614.5ZM1614.5 615.2h94.9V629.4H1614.5ZM1614.5 629.4h85.41V643.1H1614.5ZM1614.5 643.1h123.37V656.7H1614.5ZM1614.5 656.7h132.86V670.9H1614.5ZM1614.5 670.9h47.45V684.1H1614.5ZM1614.5 684.1h28.47V697.1H1614.5ZM1614.5 697.1h66.43V710.8H1614.5ZM1614.5 710.8h37.96V724.5H1614.5ZM1614.5 724.5h47.45V738.2H1614.5ZM1614.5 738.2h56.94V752.2H1614.5ZM1614.5 752.2h85.41V765.9H1614.5ZM1614.5 765.9h113.88V779.6H1614.5ZM1614.5 779.6h18.98V793.7H1614.5ZM1614.5 793.7h9.49V806.5H1614.5ZM1614.5 806.5h18.98V820.2H1614.5ZM1614.5 834.1h28.47V847.6H1614.5ZM1614.5 847.6h18.98V861.8H1614.5ZM1614.5 861.8h9.49V875.1H1614.5ZM1614.5 875.1h9.49V888.8H1614.5ZM1614.5 902.1h9.49V915.8H1614.5Z" fill="#a6a6a6"/>
<line x1="993.7" y1="613.3" x2="1598.7" y2="613.3" stroke="#333" stroke-width="1"/>
<line x1="993.7" y1="579.7" x2="1598.7" y2="579.7" stroke="#000" stroke-width="1.7" stroke-dasharray="4.2,2.4"/>
<line x1="993.7" y1="860.3" x2="1598.7" y2="860.3" stroke="#000" stroke-width="1.7" stroke-dasharray="4.2,2.4"/>
<g><circle cx="1024.83" cy="574.77" r="5.9" class="b"/><circle cx="1025.17" cy="577.07" r="5.9" class="b"/><circle cx="1024.12" cy="578.51" r="5.9" class="b"/><circle cx="1023.25" cy="580.1" r="5.9" class="b"/><circle cx="1023.87" cy="581.75" r="5.9" class="b"/><circle cx="1023.91" cy="584.37" r="5.9" class="b"/><circle cx="1022.54" cy="587.14" r="5.9" class="b"/><circle cx="1021.46" cy="588.86" r="5.9" class="b"/><circle cx="1021.6" cy="595.2" r="5.9" class="b"/><circle cx="1022.4" cy="599.2" r="5.9" class="b"/><circle cx="1024" cy="602" r="5.9" class="b"/><circle cx="1026.9" cy="618.4" r="5.9" class="b"/><circle cx="1131.6" cy="607.18" r="5.9" class="b"/><circle cx="1131.43" cy="609" r="5.9" class="b"/><circle cx="1132.91" cy="610.04" r="5.9" class="b"/><circle cx="1130.47" cy="612.22" r="5.9" class="b"/><circle cx="1131.66" cy="613.6" r="5.9" class="b"/><circle cx="1129.3" cy="617.6" r="5.9" class="b"/><circle cx="1129.83" cy="621.71" r="5.9" class="b"/><circle cx="1129.88" cy="624.93" r="5.9" class="b"/><circle cx="1128.29" cy="627.32" r="5.9" class="b"/><circle cx="1128.35" cy="629.83" r="5.9" class="b"/><circle cx="1127.03" cy="631.86" r="5.9" class="b"/><circle cx="1126.01" cy="636.1" r="5.9" class="b"/><circle cx="1126.06" cy="637.72" r="5.9" class="b"/><circle cx="1241" cy="627.2" r="5.9" class="b"/><circle cx="1240.2" cy="633.6" r="5.9" class="b"/><circle cx="1239.4" cy="638.5" r="5.9" class="b"/><circle cx="1238.5" cy="643" r="5.9" class="b"/><circle cx="1238" cy="648" r="5.9" class="b"/><circle cx="1237.5" cy="655" r="5.9" class="b"/><circle cx="1238.1" cy="647.09" r="5.9" class="o"/><circle cx="1238.14" cy="648.85" r="5.9" class="o"/><circle cx="1237.27" cy="652.02" r="5.9" class="o"/><circle cx="1238.02" cy="654.3" r="5.9" class="o"/><circle cx="1236.24" cy="654.61" r="5.9" class="o"/><circle cx="1236.89" cy="658.04" r="5.9" class="o"/><circle cx="1234.23" cy="661.66" r="5.9" class="o"/><circle cx="1235.32" cy="663.8" r="5.9" class="o"/><circle cx="1233.56" cy="667.35" r="5.9" class="o"/><circle cx="1235.14" cy="668.77" r="5.9" class="o"/><circle cx="1234.2" cy="671.65" r="5.9" class="o"/><circle cx="1233.97" cy="674.24" r="5.9" class="o"/><circle cx="1231.3" cy="688.1" r="5.9" class="o"/><circle cx="1232.5" cy="682" r="5.9" class="o"/><circle cx="1236" cy="678" r="5.9" class="o"/><circle cx="1233" cy="680" r="5.9" class="o"/><circle cx="1406.7" cy="656.9" r="5.9" class="o"/><circle cx="1399.2" cy="691.39" r="5.9" class="o"/><circle cx="1399.84" cy="694.24" r="5.9" class="o"/><circle cx="1398.49" cy="698.98" r="5.9" class="o"/><circle cx="1398" cy="702.73" r="5.9" class="o"/><circle cx="1396.67" cy="705.82" r="5.9" class="o"/><circle cx="1396.98" cy="707.39" r="5.9" class="o"/><circle cx="1395.72" cy="711.08" r="5.9" class="o"/><circle cx="1395.39" cy="713.92" r="5.9" class="o"/><circle cx="1394.35" cy="716.55" r="5.9" class="o"/><circle cx="1394.05" cy="719.8" r="5.9" class="o"/><circle cx="1392.5" cy="729.2" r="5.9" class="o"/><circle cx="1391.5" cy="733.8" r="5.9" class="o"/><circle cx="1390.5" cy="746.4" r="5.9" class="o"/><circle cx="1571.2" cy="676.6" r="5.9" class="o"/><circle cx="1563.9" cy="704.2" r="5.9" class="o"/><circle cx="1561.5" cy="730.2" r="5.9" class="o"/><circle cx="1562.06" cy="733.64" r="5.9" class="o"/><circle cx="1561.54" cy="735.87" r="5.9" class="o"/><circle cx="1560.2" cy="737.79" r="5.9" class="o"/><circle cx="1558.97" cy="741.14" r="5.9" class="o"/><circle cx="1559.53" cy="744.83" r="5.9" class="o"/><circle cx="1560.5" cy="743.25" r="5.9" class="o"/><circle cx="1557.54" cy="747.57" r="5.9" class="o"/><circle cx="1556.32" cy="750.25" r="5.9" class="o"/><circle cx="1556.54" cy="755.49" r="5.9" class="o"/><circle cx="1558.57" cy="756.24" r="5.9" class="o"/><circle cx="1555.54" cy="758.17" r="5.9" class="o"/><circle cx="1555.73" cy="759.86" r="5.9" class="o"/><circle cx="1556.4" cy="761.61" r="5.9" class="o"/><circle cx="1555.13" cy="763.85" r="5.9" class="o"/><circle cx="1553.34" cy="764.38" r="5.9" class="o"/><circle cx="1553.47" cy="768.9" r="5.9" class="o"/><circle cx="1553.06" cy="771.93" r="5.9" class="o"/><circle cx="1552.87" cy="774.87" r="5.9" class="o"/><circle cx="1552.08" cy="777.01" r="5.9" class="o"/><circle cx="1550.79" cy="778.42" r="5.9" class="o"/><circle cx="1552.18" cy="779.85" r="5.9" class="o"/><circle cx="1549.27" cy="782.89" r="5.9" class="o"/><circle cx="1550.36" cy="784.44" r="5.9" class="o"/><circle cx="1549.7" cy="795.2" r="5.9" class="o"/><circle cx="1546.2" cy="809" r="5.9" class="o"/><circle cx="1546.2" cy="813" r="5.9" class="o"/><circle cx="1541.2" cy="836.6" r="5.9" class="o"/><circle cx="1540.2" cy="844.5" r="5.9" class="o"/><circle cx="1541.2" cy="846.5" r="5.9" class="o"/><circle cx="1537.3" cy="858.3" r="5.9" class="o"/><circle cx="1536.3" cy="862.2" r="5.9" class="o"/><circle cx="1527.4" cy="882.9" r="5.9" class="o"/><circle cx="1527.4" cy="915.4" r="5.9" class="o"/></g>
<line x1="993.7" y1="667.3" x2="1599.9" y2="667.3" stroke="#000" stroke-width="3"/>
<rect x="1003.4" y="864" width="107.2" height="59.1" rx="2.5" fill="#fff" stroke="#cccccc" stroke-width="1"/>
<circle cx="1030" cy="879.5" r="6.0" class="b"/>
<text x="1064.5" y="885.4" font-size="18.5" text-anchor="start" textLength="38" lengthAdjust="spacingAndGlyphs">walk</text>
<circle cx="1030" cy="906.6" r="6.0" class="o"/>
<text x="1064.5" y="912.5" font-size="18.5" text-anchor="start" textLength="25.8" lengthAdjust="spacingAndGlyphs">run</text>
<text x="1570.8" y="575.5" font-size="19" text-anchor="end" textLength="173.4" lengthAdjust="spacingAndGlyphs">97.5-percentile: 0.06</text>
<text x="1575.1" y="663.2" font-size="19" text-anchor="end" textLength="119.6" lengthAdjust="spacingAndGlyphs">median: −0.10</text>
<text x="1575.1" y="877" font-size="19" text-anchor="end" textLength="173.2" lengthAdjust="spacingAndGlyphs">2.5-percentile: −0.45</text>
<line x1="993.7" y1="557.3" x2="1598.7" y2="557.3" stroke="#444" stroke-width="1" stroke-linecap="square"/>
<line x1="993.7" y1="932.5" x2="1598.7" y2="932.5" stroke="#444" stroke-width="1" stroke-linecap="square"/>
<line x1="993.7" y1="557.3" x2="993.7" y2="932.5" stroke="#d9d9d9" stroke-width="1" stroke-linecap="square"/>
<line x1="1598.7" y1="557.3" x2="1598.7" y2="932.5" stroke="#444" stroke-width="1" stroke-linecap="square"/>
<line x1="1614.5" y1="557.3" x2="1754.1" y2="557.3" stroke="#444" stroke-width="1" stroke-linecap="square"/>
<line x1="1614.5" y1="932.5" x2="1754.1" y2="932.5" stroke="#444" stroke-width="1" stroke-linecap="square"/>
<line x1="1614.5" y1="557.3" x2="1614.5" y2="932.5" stroke="#444" stroke-width="1" stroke-linecap="square"/>
<line x1="1754.1" y1="557.3" x2="1754.1" y2="932.5" stroke="#d9d9d9" stroke-width="1" stroke-linecap="square"/>
<line x1="1006.4" y1="932.5" x2="1006.4" y2="936.3" stroke="#222" stroke-width="1.1"/>
<text x="1006.4" y="952.6" font-size="19.5" text-anchor="middle">0.5</text>
<line x1="1108.25" y1="932.5" x2="1108.25" y2="936.3" stroke="#222" stroke-width="1.1"/>
<text x="1108.25" y="952.6" font-size="19.5" text-anchor="middle">1.0</text>
<line x1="1210.1" y1="932.5" x2="1210.1" y2="936.3" stroke="#222" stroke-width="1.1"/>
<text x="1210.1" y="952.6" font-size="19.5" text-anchor="middle">1.5</text>
<line x1="1311.95" y1="932.5" x2="1311.95" y2="936.3" stroke="#222" stroke-width="1.1"/>
<text x="1311.95" y="952.6" font-size="19.5" text-anchor="middle">2.0</text>
<line x1="1413.8" y1="932.5" x2="1413.8" y2="936.3" stroke="#222" stroke-width="1.1"/>
<text x="1413.8" y="952.6" font-size="19.5" text-anchor="middle">2.5</text>
<line x1="1515.65" y1="932.5" x2="1515.65" y2="936.3" stroke="#222" stroke-width="1.1"/>
<text x="1515.65" y="952.6" font-size="19.5" text-anchor="middle">3.0</text>
<line x1="989.9" y1="558.3" x2="993.7" y2="558.3" stroke="#222" stroke-width="1.1"/>
<text x="986.7" y="565.28" font-size="19.5" text-anchor="end">0.1</text>
<line x1="989.9" y1="613.3" x2="993.7" y2="613.3" stroke="#222" stroke-width="1.1"/>
<text x="986.7" y="620.28" font-size="19.5" text-anchor="end">0.0</text>
<line x1="989.9" y1="668.3" x2="993.7" y2="668.3" stroke="#222" stroke-width="1.1"/>
<text x="986.7" y="675.28" font-size="19.5" text-anchor="end">−0.1</text>
<line x1="989.9" y1="723.3" x2="993.7" y2="723.3" stroke="#222" stroke-width="1.1"/>
<text x="986.7" y="730.28" font-size="19.5" text-anchor="end">−0.2</text>
<line x1="989.9" y1="778.3" x2="993.7" y2="778.3" stroke="#222" stroke-width="1.1"/>
<text x="986.7" y="785.28" font-size="19.5" text-anchor="end">−0.3</text>
<line x1="989.9" y1="833.3" x2="993.7" y2="833.3" stroke="#222" stroke-width="1.1"/>
<text x="986.7" y="840.28" font-size="19.5" text-anchor="end">−0.4</text>
<line x1="989.9" y1="888.3" x2="993.7" y2="888.3" stroke="#222" stroke-width="1.1"/>
<text x="986.7" y="895.28" font-size="19.5" text-anchor="end">−0.5</text>
<line x1="1614.5" y1="932.5" x2="1614.5" y2="936.3" stroke="#222" stroke-width="1.1"/>
<text x="1614.5" y="952.6" font-size="19.5" text-anchor="middle">0</text>
<line x1="1661.95" y1="932.5" x2="1661.95" y2="936.3" stroke="#222" stroke-width="1.1"/>
<text x="1661.95" y="952.6" font-size="19.5" text-anchor="middle">5</text>
<line x1="1709.4" y1="932.5" x2="1709.4" y2="936.3" stroke="#222" stroke-width="1.1"/>
<text x="1709.4" y="952.6" font-size="19.5" text-anchor="middle">10</text>
<text x="921.6" y="537.9" font-size="26" text-anchor="start">(d)</text>
<text x="1211.2" y="547.4" font-size="34.3" text-anchor="start" textLength="322.4" lengthAdjust="spacingAndGlyphs" style="stroke-width:0.75px">Stride Speed (m/sec)</text>
<text x="1110.8" y="975.2" font-size="21" text-anchor="start" textLength="371.2" lengthAdjust="spacingAndGlyphs">Mean of methods: Stride Speed (m/sec)</text>
<text x="1635.6" y="975.2" font-size="21" text-anchor="start" textLength="98.2" lengthAdjust="spacingAndGlyphs">Frequency</text>
<text x="0" y="0" font-size="21" text-anchor="middle" transform="translate(938.7,745.1) rotate(-90)" textLength="213.1" lengthAdjust="spacingAndGlyphs">Difference (MS − OMC)</text>
<line x1="192.6" y1="1057.4" x2="192.6" y2="1434.1" stroke="#cdcdcd" stroke-width="0.9" stroke-dasharray="4.4,3.0"/>
<line x1="326.6" y1="1057.4" x2="326.6" y2="1434.1" stroke="#cdcdcd" stroke-width="0.9" stroke-dasharray="4.4,3.0"/>
<line x1="460.6" y1="1057.4" x2="460.6" y2="1434.1" stroke="#cdcdcd" stroke-width="0.9" stroke-dasharray="4.4,3.0"/>
<line x1="594.6" y1="1057.4" x2="594.6" y2="1434.1" stroke="#cdcdcd" stroke-width="0.9" stroke-dasharray="4.4,3.0"/>
<line x1="101" y1="1077.7" x2="705.4" y2="1077.7" stroke="#cdcdcd" stroke-width="0.9" stroke-dasharray="4.4,3.0"/>
<line x1="720.7" y1="1077.7" x2="860.4" y2="1077.7" stroke="#cdcdcd" stroke-width="0.9" stroke-dasharray="4.4,3.0"/>
<line x1="101" y1="1131.15" x2="705.4" y2="1131.15" stroke="#cdcdcd" stroke-width="0.9" stroke-dasharray="4.4,3.0"/>
<line x1="720.7" y1="1131.15" x2="860.4" y2="1131.15" stroke="#cdcdcd" stroke-width="0.9" stroke-dasharray="4.4,3.0"/>
<line x1="101" y1="1184.6" x2="705.4" y2="1184.6" stroke="#cdcdcd" stroke-width="0.9" stroke-dasharray="4.4,3.0"/>
<line x1="720.7" y1="1184.6" x2="860.4" y2="1184.6" stroke="#cdcdcd" stroke-width="0.9" stroke-dasharray="4.4,3.0"/>
<line x1="101" y1="1238.05" x2="705.4" y2="1238.05" stroke="#cdcdcd" stroke-width="0.9" stroke-dasharray="4.4,3.0"/>
<line x1="720.7" y1="1238.05" x2="860.4" y2="1238.05" stroke="#cdcdcd" stroke-width="0.9" stroke-dasharray="4.4,3.0"/>
<line x1="101" y1="1291.5" x2="705.4" y2="1291.5" stroke="#cdcdcd" stroke-width="0.9" stroke-dasharray="4.4,3.0"/>
<line x1="720.7" y1="1291.5" x2="860.4" y2="1291.5" stroke="#cdcdcd" stroke-width="0.9" stroke-dasharray="4.4,3.0"/>
<line x1="101" y1="1344.95" x2="705.4" y2="1344.95" stroke="#cdcdcd" stroke-width="0.9" stroke-dasharray="4.4,3.0"/>
<line x1="720.7" y1="1344.95" x2="860.4" y2="1344.95" stroke="#cdcdcd" stroke-width="0.9" stroke-dasharray="4.4,3.0"/>
<line x1="101" y1="1398.4" x2="705.4" y2="1398.4" stroke="#cdcdcd" stroke-width="0.9" stroke-dasharray="4.4,3.0"/>
<line x1="720.7" y1="1398.4" x2="860.4" y2="1398.4" stroke="#cdcdcd" stroke-width="0.9" stroke-dasharray="4.4,3.0"/>
<path d="M720.7 1074.8h36.42V1088H720.7ZM720.7 1088h48.56V1102.2H720.7ZM720.7 1102.2h12.14V1116.1H720.7ZM720.7 1116.1h36.42V1129.5H720.7ZM720.7 1129.5h109.26V1143.2H720.7ZM720.7 1143.2h109.26V1156.9H720.7ZM720.7 1156.9h60.7V1170.8H720.7ZM720.7 1170.8h84.98V1184.3H720.7ZM720.7 1184.3h97.12V1198.5H720.7ZM720.7 1198.5h72.84V1211.9H720.7ZM720.7 1211.9h36.42V1225.4H720.7ZM720.7 1225.4h84.98V1239.8H720.7ZM720.7 1239.8h60.7V1252.6H720.7ZM720.7 1252.6h48.56V1266.2H720.7ZM720.7 1266.2h84.98V1280H720.7ZM720.7 1280h24.28V1293.6H720.7ZM720.7 1293.6h24.28V1307.3H720.7ZM720.7 1307.3h36.42V1320.8H720.7ZM720.7 1320.8h84.98V1334.7H720.7ZM720.7 1334.7h60.7V1348.4H720.7ZM720.7 1348.4h60.7V1362.1H720.7ZM720.7 1362.1h97.12V1375.4H720.7ZM720.7 1375.4h133.54V1389.8H720.7ZM720.7 1389.8h48.56V1403.2H720.7ZM720.7 1403.2h48.56V1416.9H720.7Z" fill="#a6a6a6"/>
<line x1="101" y1="1398.4" x2="705.4" y2="1398.4" stroke="#333" stroke-width="1"/>
<line x1="101" y1="1094.6" x2="705.4" y2="1094.6" stroke="#000" stroke-width="1.7" stroke-dasharray="4.2,2.4"/>
<line x1="101" y1="1400.9" x2="705.4" y2="1400.9" stroke="#000" stroke-width="1.7" stroke-dasharray="4.2,2.4"/>
<g><circle cx="232" cy="1133.8" r="5.9" class="o"/><circle cx="201.1" cy="1145.8" r="5.9" class="o"/><circle cx="174.2" cy="1166.2" r="5.9" class="o"/><circle cx="182.4" cy="1166.8" r="5.9" class="o"/><circle cx="178.4" cy="1178.2" r="5.9" class="o"/><circle cx="168.5" cy="1187.8" r="5.9" class="o"/><circle cx="176.1" cy="1199" r="5.9" class="o"/><circle cx="158.9" cy="1210.5" r="5.9" class="o"/><circle cx="159.9" cy="1230.1" r="5.9" class="o"/><circle cx="171.7" cy="1235.5" r="5.9" class="o"/><circle cx="174.2" cy="1237.8" r="5.9" class="o"/><circle cx="138.9" cy="1245.4" r="5.9" class="o"/><circle cx="164.7" cy="1262.2" r="5.9" class="o"/><circle cx="134.1" cy="1270.6" r="5.9" class="o"/><circle cx="172.3" cy="1271.2" r="5.9" class="o"/><circle cx="202.3" cy="1266.4" r="5.9" class="o"/><circle cx="197.5" cy="1296" r="5.9" class="o"/><circle cx="219.5" cy="1324.6" r="5.9" class="o"/><circle cx="242.9" cy="1183.4" r="5.9" class="o"/><circle cx="252.5" cy="1175.7" r="5.9" class="o"/><circle cx="270" cy="1175.7" r="5.9" class="o"/><circle cx="271.6" cy="1195.4" r="5.9" class="o"/><circle cx="248.7" cy="1220.2" r="5.9" class="o"/><circle cx="278.8" cy="1225.4" r="5.9" class="o"/><circle cx="290.6" cy="1216.8" r="5.9" class="o"/><circle cx="322.7" cy="1129" r="5.9" class="o"/><circle cx="320.8" cy="1137.2" r="5.9" class="o"/><circle cx="325" cy="1140.4" r="5.9" class="o"/><circle cx="334.9" cy="1149.4" r="5.9" class="o"/><circle cx="340.3" cy="1252.5" r="5.9" class="o"/><circle cx="359.7" cy="1276.3" r="5.9" class="o"/><circle cx="396" cy="1130.9" r="5.9" class="o"/><circle cx="396" cy="1154.8" r="5.9" class="o"/><circle cx="389.5" cy="1170.6" r="5.9" class="o"/><circle cx="391.2" cy="1178.6" r="5.9" class="o"/><circle cx="394.3" cy="1189.7" r="5.9" class="o"/><circle cx="400.4" cy="1185.3" r="5.9" class="o"/><circle cx="403.3" cy="1192" r="5.9" class="o"/><circle cx="401.4" cy="1273.7" r="5.9" class="o"/><circle cx="483.2" cy="1074.7" r="5.9" class="o"/><circle cx="655.9" cy="1078.4" r="5.9" class="o"/><circle cx="678.2" cy="1074.7" r="5.9" class="o"/><circle cx="516.2" cy="1094.5" r="5.9" class="o"/><circle cx="541.4" cy="1096.4" r="5.9" class="o"/><circle cx="635.5" cy="1097.4" r="5.9" class="o"/><circle cx="645.2" cy="1098.3" r="5.9" class="o"/><circle cx="480" cy="1106.7" r="5.9" class="o"/><circle cx="502.6" cy="1121.6" r="5.9" class="o"/><circle cx="505" cy="1130.9" r="5.9" class="o"/><circle cx="553.1" cy="1121.6" r="5.9" class="o"/><circle cx="543.4" cy="1131.3" r="5.9" class="o"/><circle cx="410.5" cy="1137.1" r="5.9" class="o"/><circle cx="429.9" cy="1140" r="5.9" class="o"/><circle cx="446.4" cy="1136.2" r="5.9" class="o"/><circle cx="419.2" cy="1148.8" r="5.9" class="o"/><circle cx="423.1" cy="1154.2" r="5.9" class="o"/><circle cx="448.9" cy="1146.8" r="5.9" class="o"/><circle cx="451.2" cy="1152.1" r="5.9" class="o"/><circle cx="439.2" cy="1159.8" r="5.9" class="o"/><circle cx="470.3" cy="1145.3" r="5.9" class="o"/><circle cx="466.2" cy="1168.7" r="5.9" class="o"/><circle cx="573.8" cy="1151.1" r="5.9" class="o"/><circle cx="563.3" cy="1162" r="5.9" class="o"/><circle cx="411.5" cy="1185.6" r="5.9" class="o"/><circle cx="417.7" cy="1200.2" r="5.9" class="o"/><circle cx="416.3" cy="1211.2" r="5.9" class="o"/><circle cx="424.5" cy="1221.5" r="5.9" class="o"/><circle cx="435.7" cy="1236" r="5.9" class="o"/><circle cx="441.5" cy="1235.5" r="5.9" class="o"/><circle cx="453.6" cy="1201.1" r="5.9" class="o"/><circle cx="591.5" cy="1189.5" r="5.9" class="o"/><circle cx="668.9" cy="1184.1" r="5.9" class="o"/><circle cx="571.1" cy="1206.4" r="5.9" class="o"/><circle cx="512.7" cy="1228.7" r="5.9" class="o"/><circle cx="569" cy="1242.4" r="5.9" class="o"/><circle cx="497.4" cy="1259.7" r="5.9" class="o"/><circle cx="509" cy="1277.2" r="5.9" class="o"/><circle cx="154.2" cy="1246.8" r="5.9" class="b"/><circle cx="160.9" cy="1252.1" r="5.9" class="b"/><circle cx="159.3" cy="1263.5" r="5.9" class="b"/><circle cx="178.6" cy="1266" r="5.9" class="b"/><circle cx="147.5" cy="1275.6" r="5.9" class="b"/><circle cx="179" cy="1288.4" r="5.9" class="b"/><circle cx="185.1" cy="1288.4" r="5.9" class="b"/><circle cx="147.9" cy="1305" r="5.9" class="b"/><circle cx="159.9" cy="1310" r="5.9" class="b"/><circle cx="153.2" cy="1313.2" r="5.9" class="b"/><circle cx="165.6" cy="1318.9" r="5.9" class="b"/><circle cx="182.2" cy="1322.2" r="5.9" class="b"/><circle cx="149.4" cy="1321.4" r="5.9" class="b"/><circle cx="133.2" cy="1327.1" r="5.9" class="b"/><circle cx="142.7" cy="1325.6" r="5.9" class="b"/><circle cx="143.7" cy="1330.4" r="5.9" class="b"/><circle cx="156.1" cy="1327.9" r="5.9" class="b"/><circle cx="127.8" cy="1336.5" r="5.9" class="b"/><circle cx="134.1" cy="1341.8" r="5.9" class="b"/><circle cx="133.2" cy="1347.5" r="5.9" class="b"/><circle cx="140.8" cy="1347.5" r="5.9" class="b"/><circle cx="164.3" cy="1338.4" r="5.9" class="b"/><circle cx="167.5" cy="1351.4" r="5.9" class="b"/><circle cx="179" cy="1359.9" r="5.9" class="b"/><circle cx="145.6" cy="1358" r="5.9" class="b"/><circle cx="154.2" cy="1358" r="5.9" class="b"/><circle cx="159" cy="1358" r="5.9" class="b"/><circle cx="165.6" cy="1362.8" r="5.9" class="b"/><circle cx="141.8" cy="1369.5" r="5.9" class="b"/><circle cx="140.8" cy="1373.3" r="5.9" class="b"/><circle cx="153.2" cy="1369.5" r="5.9" class="b"/><circle cx="152.3" cy="1373.3" r="5.9" class="b"/><circle cx="160.9" cy="1373.3" r="5.9" class="b"/><circle cx="169.4" cy="1375.2" r="5.9" class="b"/><circle cx="173.3" cy="1373.3" r="5.9" class="b"/><circle cx="182.8" cy="1376.2" r="5.9" class="b"/><circle cx="149.4" cy="1381" r="5.9" class="b"/><circle cx="150.4" cy="1386.7" r="5.9" class="b"/><circle cx="158" cy="1382.8" r="5.9" class="b"/><circle cx="161.8" cy="1386.7" r="5.9" class="b"/><circle cx="166.6" cy="1386.7" r="5.9" class="b"/><circle cx="171.4" cy="1381" r="5.9" class="b"/><circle cx="177.1" cy="1388.6" r="5.9" class="b"/><circle cx="154.2" cy="1394.3" r="5.9" class="b"/><circle cx="160.9" cy="1390.5" r="5.9" class="b"/><circle cx="165.6" cy="1392.4" r="5.9" class="b"/><circle cx="134.1" cy="1403.3" r="5.9" class="b"/><circle cx="167.2" cy="1403.5" r="5.9" class="b"/><circle cx="155.1" cy="1414.7" r="5.9" class="b"/><circle cx="167" cy="1416.6" r="5.9" class="b"/></g>
<line x1="101" y1="1243.9" x2="706.6" y2="1243.9" stroke="#000" stroke-width="3"/>
<rect x="110.7" y="1067.5" width="106.5" height="59.2" rx="2.5" fill="#fff" stroke="#cccccc" stroke-width="1"/>
<circle cx="137" cy="1083.2" r="6.0" class="b"/>
<text x="172.3" y="1089" font-size="18.5" text-anchor="start" textLength="38" lengthAdjust="spacingAndGlyphs">walk</text>
<circle cx="137" cy="1110.9" r="6.0" class="o"/>
<text x="172.3" y="1116.1" font-size="18.5" text-anchor="start" textLength="25.8" lengthAdjust="spacingAndGlyphs">run</text>
<text x="677.2" y="1090.6" font-size="19" text-anchor="end" textLength="172.6" lengthAdjust="spacingAndGlyphs">97.5-percentile: 0.06</text>
<text x="677.2" y="1235.1" font-size="19" text-anchor="end" textLength="108.6" lengthAdjust="spacingAndGlyphs">median: 0.03</text>
<text x="681.7" y="1416.4" font-size="19" text-anchor="end" textLength="173.2" lengthAdjust="spacingAndGlyphs">2.5-percentile: −0.00</text>
<line x1="101" y1="1057.4" x2="705.4" y2="1057.4" stroke="#444" stroke-width="1" stroke-linecap="square"/>
<line x1="101" y1="1434.1" x2="705.4" y2="1434.1" stroke="#d9d9d9" stroke-width="1" stroke-linecap="square"/>
<line x1="101" y1="1057.4" x2="101" y2="1434.1" stroke="#d9d9d9" stroke-width="1" stroke-linecap="square"/>
<line x1="705.4" y1="1057.4" x2="705.4" y2="1434.1" stroke="#444" stroke-width="1" stroke-linecap="square"/>
<line x1="720.7" y1="1057.4" x2="860.4" y2="1057.4" stroke="#444" stroke-width="1" stroke-linecap="square"/>
<line x1="720.7" y1="1434.1" x2="860.4" y2="1434.1" stroke="#d9d9d9" stroke-width="1" stroke-linecap="square"/>
<line x1="720.7" y1="1057.4" x2="720.7" y2="1434.1" stroke="#d9d9d9" stroke-width="1" stroke-linecap="square"/>
<line x1="860.4" y1="1057.4" x2="860.4" y2="1434.1" stroke="#444" stroke-width="1" stroke-linecap="square"/>
<line x1="192.6" y1="1434.1" x2="192.6" y2="1437.9" stroke="#222" stroke-width="1.1"/>
<text x="192.6" y="1454.1" font-size="19.5" text-anchor="middle">0.1</text>
<line x1="326.6" y1="1434.1" x2="326.6" y2="1437.9" stroke="#222" stroke-width="1.1"/>
<text x="326.6" y="1454.1" font-size="19.5" text-anchor="middle">0.2</text>
<line x1="460.6" y1="1434.1" x2="460.6" y2="1437.9" stroke="#222" stroke-width="1.1"/>
<text x="460.6" y="1454.1" font-size="19.5" text-anchor="middle">0.3</text>
<line x1="594.6" y1="1434.1" x2="594.6" y2="1437.9" stroke="#222" stroke-width="1.1"/>
<text x="594.6" y="1454.1" font-size="19.5" text-anchor="middle">0.4</text>
<line x1="97.2" y1="1077.7" x2="101" y2="1077.7" stroke="#222" stroke-width="1.1"/>
<text x="94" y="1084.68" font-size="19.5" text-anchor="end">0.06</text>
<line x1="97.2" y1="1131.15" x2="101" y2="1131.15" stroke="#222" stroke-width="1.1"/>
<text x="94" y="1138.13" font-size="19.5" text-anchor="end">0.05</text>
<line x1="97.2" y1="1184.6" x2="101" y2="1184.6" stroke="#222" stroke-width="1.1"/>
<text x="94" y="1191.58" font-size="19.5" text-anchor="end">0.04</text>
<line x1="97.2" y1="1238.05" x2="101" y2="1238.05" stroke="#222" stroke-width="1.1"/>
<text x="94" y="1245.03" font-size="19.5" text-anchor="end">0.03</text>
<line x1="97.2" y1="1291.5" x2="101" y2="1291.5" stroke="#222" stroke-width="1.1"/>
<text x="94" y="1298.48" font-size="19.5" text-anchor="end">0.02</text>
<line x1="97.2" y1="1344.95" x2="101" y2="1344.95" stroke="#222" stroke-width="1.1"/>
<text x="94" y="1351.93" font-size="19.5" text-anchor="end">0.01</text>
<line x1="97.2" y1="1398.4" x2="101" y2="1398.4" stroke="#222" stroke-width="1.1"/>
<text x="94" y="1405.38" font-size="19.5" text-anchor="end">0.00</text>
<line x1="720.7" y1="1434.1" x2="720.7" y2="1437.9" stroke="#222" stroke-width="1.1"/>
<text x="720.7" y="1454.1" font-size="19.5" text-anchor="middle">0</text>
<line x1="781.4" y1="1434.1" x2="781.4" y2="1437.9" stroke="#222" stroke-width="1.1"/>
<text x="781.4" y="1454.1" font-size="19.5" text-anchor="middle">5</text>
<line x1="842.1" y1="1434.1" x2="842.1" y2="1437.9" stroke="#222" stroke-width="1.1"/>
<text x="842.1" y="1454.1" font-size="19.5" text-anchor="middle">10</text>
<text x="28.8" y="1037.6" font-size="26" text-anchor="start">(e)</text>
<text x="340.5" y="1047.4" font-size="34.3" text-anchor="start" textLength="276.6" lengthAdjust="spacingAndGlyphs" style="stroke-width:0.75px">Vertical height (m)</text>
<text x="232" y="1476.2" font-size="21" text-anchor="start" textLength="343" lengthAdjust="spacingAndGlyphs">Mean of methods: Vertical height (m)</text>
<text x="741.8" y="1476.2" font-size="21" text-anchor="start" textLength="97.3" lengthAdjust="spacingAndGlyphs">Frequency</text>
<text x="0" y="0" font-size="21" text-anchor="middle" transform="translate(44.2,1245.2) rotate(-90)" textLength="214" lengthAdjust="spacingAndGlyphs">Difference (MS − OMC)</text>
<line x1="1017.7" y1="1058.4" x2="1017.7" y2="1434.3" stroke="#cdcdcd" stroke-width="0.9" stroke-dasharray="4.4,3.0"/>
<line x1="1121.5" y1="1058.4" x2="1121.5" y2="1434.3" stroke="#cdcdcd" stroke-width="0.9" stroke-dasharray="4.4,3.0"/>
<line x1="1225.3" y1="1058.4" x2="1225.3" y2="1434.3" stroke="#cdcdcd" stroke-width="0.9" stroke-dasharray="4.4,3.0"/>
<line x1="1329.1" y1="1058.4" x2="1329.1" y2="1434.3" stroke="#cdcdcd" stroke-width="0.9" stroke-dasharray="4.4,3.0"/>
<line x1="1432.9" y1="1058.4" x2="1432.9" y2="1434.3" stroke="#cdcdcd" stroke-width="0.9" stroke-dasharray="4.4,3.0"/>
<line x1="1536.7" y1="1058.4" x2="1536.7" y2="1434.3" stroke="#cdcdcd" stroke-width="0.9" stroke-dasharray="4.4,3.0"/>
<line x1="1000.6" y1="1093.2" x2="1600.2" y2="1093.2" stroke="#cdcdcd" stroke-width="0.9" stroke-dasharray="4.4,3.0"/>
<line x1="1615.5" y1="1093.2" x2="1754.2" y2="1093.2" stroke="#cdcdcd" stroke-width="0.9" stroke-dasharray="4.4,3.0"/>
<line x1="1000.6" y1="1155.25" x2="1600.2" y2="1155.25" stroke="#cdcdcd" stroke-width="0.9" stroke-dasharray="4.4,3.0"/>
<line x1="1615.5" y1="1155.25" x2="1754.2" y2="1155.25" stroke="#cdcdcd" stroke-width="0.9" stroke-dasharray="4.4,3.0"/>
<line x1="1000.6" y1="1217.3" x2="1600.2" y2="1217.3" stroke="#cdcdcd" stroke-width="0.9" stroke-dasharray="4.4,3.0"/>
<line x1="1615.5" y1="1217.3" x2="1754.2" y2="1217.3" stroke="#cdcdcd" stroke-width="0.9" stroke-dasharray="4.4,3.0"/>
<line x1="1000.6" y1="1279.35" x2="1600.2" y2="1279.35" stroke="#cdcdcd" stroke-width="0.9" stroke-dasharray="4.4,3.0"/>
<line x1="1615.5" y1="1279.35" x2="1754.2" y2="1279.35" stroke="#cdcdcd" stroke-width="0.9" stroke-dasharray="4.4,3.0"/>
<line x1="1000.6" y1="1341.4" x2="1600.2" y2="1341.4" stroke="#cdcdcd" stroke-width="0.9" stroke-dasharray="4.4,3.0"/>
<line x1="1615.5" y1="1341.4" x2="1754.2" y2="1341.4" stroke="#cdcdcd" stroke-width="0.9" stroke-dasharray="4.4,3.0"/>
<line x1="1000.6" y1="1403.45" x2="1600.2" y2="1403.45" stroke="#cdcdcd" stroke-width="0.9" stroke-dasharray="4.4,3.0"/>
<line x1="1615.5" y1="1403.45" x2="1754.2" y2="1403.45" stroke="#cdcdcd" stroke-width="0.9" stroke-dasharray="4.4,3.0"/>
<path d="M1615.5 1075.5h5.29V1089.2H1615.5ZM1615.5 1115.6h5.29V1129.3H1615.5ZM1615.5 1225.1h5.29V1238.8H1615.5ZM1615.5 1266.7h10.58V1280.6H1615.5ZM1615.5 1280.6h10.58V1294.5H1615.5ZM1615.5 1294.5h21.16V1308.4H1615.5ZM1615.5 1308.4h52.9V1321.7H1615.5ZM1615.5 1321.7h105.8V1335.5H1615.5ZM1615.5 1335.5h132.25V1348.5H1615.5ZM1615.5 1348.5h84.64V1362.4H1615.5ZM1615.5 1362.4h84.64V1376.3H1615.5ZM1615.5 1376.3h111.09V1390.2H1615.5ZM1615.5 1390.2h47.61V1403.4H1615.5ZM1615.5 1403.4h21.16V1417.1H1615.5Z" fill="#a6a6a6"/>
<line x1="1000.6" y1="1341.4" x2="1600.2" y2="1341.4" stroke="#333" stroke-width="1"/>
<line x1="1000.6" y1="1268.7" x2="1600.2" y2="1268.7" stroke="#000" stroke-width="1.7" stroke-dasharray="4.2,2.4"/>
<line x1="1000.6" y1="1403.8" x2="1600.2" y2="1403.8" stroke="#000" stroke-width="1.7" stroke-dasharray="4.2,2.4"/>
<g><circle cx="1032.6" cy="1293.7" r="5.9" class="o"/><circle cx="1072.5" cy="1295" r="5.9" class="o"/><circle cx="1035.8" cy="1304.6" r="5.9" class="o"/><circle cx="1044.4" cy="1305.5" r="5.9" class="o"/><circle cx="1033.9" cy="1310.9" r="5.9" class="o"/><circle cx="1040.6" cy="1314.1" r="5.9" class="o"/><circle cx="1057.8" cy="1314.1" r="5.9" class="o"/><circle cx="1057.8" cy="1317" r="5.9" class="o"/><circle cx="1027.2" cy="1324.6" r="5.9" class="o"/><circle cx="1030.1" cy="1326.5" r="5.9" class="o"/><circle cx="1077.8" cy="1327.1" r="5.9" class="o"/><circle cx="1070.2" cy="1327.5" r="5.9" class="o"/><circle cx="1067.3" cy="1339.9" r="5.9" class="o"/><circle cx="1070.2" cy="1350.4" r="5.9" class="o"/><circle cx="1064.4" cy="1355.2" r="5.9" class="o"/><circle cx="1072.1" cy="1353.3" r="5.9" class="o"/><circle cx="1077.8" cy="1354.2" r="5.9" class="o"/><circle cx="1084.5" cy="1356.1" r="5.9" class="o"/><circle cx="1125" cy="1343.7" r="5.9" class="o"/><circle cx="1120.6" cy="1355.2" r="5.9" class="o"/><circle cx="1122.1" cy="1361.1" r="5.9" class="o"/><circle cx="1132.1" cy="1360.7" r="5.9" class="o"/><circle cx="1133.5" cy="1368.1" r="5.9" class="o"/><circle cx="1131.7" cy="1371" r="5.9" class="o"/><circle cx="1140.9" cy="1380.3" r="5.9" class="o"/><circle cx="1131.7" cy="1381.4" r="5.9" class="o"/><circle cx="1132.4" cy="1384.3" r="5.9" class="o"/><circle cx="1123.2" cy="1386.4" r="5.9" class="o"/><circle cx="1135" cy="1393.6" r="5.9" class="o"/><circle cx="1100.5" cy="1378.4" r="5.9" class="o"/><circle cx="1104.3" cy="1388.4" r="5.9" class="o"/><circle cx="1085.1" cy="1399.1" r="5.9" class="o"/><circle cx="1077.7" cy="1367" r="5.9" class="o"/><circle cx="1085.9" cy="1357" r="5.9" class="o"/><circle cx="1140.2" cy="1413.9" r="5.9" class="o"/><circle cx="1146.5" cy="1416.1" r="5.9" class="o"/><circle cx="1131.8" cy="1325.2" r="5.9" class="o"/><circle cx="1067.7" cy="1333.3" r="5.9" class="o"/><circle cx="1067.7" cy="1338.2" r="5.9" class="o"/><circle cx="1079" cy="1350.5" r="5.9" class="o"/><circle cx="1068.2" cy="1357.9" r="5.9" class="o"/><circle cx="1044.6" cy="1341.7" r="5.9" class="o"/><circle cx="1039.6" cy="1344.1" r="5.9" class="o"/><circle cx="1054.4" cy="1344.1" r="5.9" class="o"/><circle cx="1047.93" cy="1319.65" r="5.9" class="o"/><circle cx="1038.89" cy="1331.62" r="5.9" class="o"/><circle cx="1054.77" cy="1331.03" r="5.9" class="o"/><circle cx="1034.72" cy="1333.11" r="5.9" class="o"/><circle cx="1037.64" cy="1339.16" r="5.9" class="o"/><circle cx="1044.02" cy="1322.7" r="5.9" class="o"/><circle cx="1035.38" cy="1328.44" r="5.9" class="o"/><circle cx="1048.13" cy="1340.06" r="5.9" class="o"/><circle cx="1047.1" cy="1324.7" r="5.9" class="o"/><circle cx="1048.88" cy="1324.75" r="5.9" class="o"/><circle cx="1053.95" cy="1337.42" r="5.9" class="o"/><circle cx="1047.7" cy="1322.83" r="5.9" class="o"/><circle cx="1049.43" cy="1334.21" r="5.9" class="o"/><circle cx="1040.72" cy="1325.74" r="5.9" class="o"/><circle cx="1053.78" cy="1328" r="5.9" class="o"/><circle cx="1052.25" cy="1325.98" r="5.9" class="o"/><circle cx="1038.83" cy="1322.44" r="5.9" class="o"/><circle cx="1052.1" cy="1332.39" r="5.9" class="o"/><circle cx="1041.96" cy="1328.93" r="5.9" class="o"/><circle cx="1051.34" cy="1324.55" r="5.9" class="o"/><circle cx="1052.25" cy="1338.09" r="5.9" class="o"/><circle cx="1042.97" cy="1336.32" r="5.9" class="o"/><circle cx="1040.56" cy="1331.49" r="5.9" class="o"/><circle cx="1047.78" cy="1342.71" r="5.9" class="o"/><circle cx="1044.57" cy="1329.62" r="5.9" class="o"/><circle cx="1039.32" cy="1341.72" r="5.9" class="o"/><circle cx="1039.63" cy="1336.65" r="5.9" class="o"/><circle cx="1053.39" cy="1340.3" r="5.9" class="o"/><circle cx="1215.6" cy="1359" r="5.9" class="b"/><circle cx="1220" cy="1365.3" r="5.9" class="b"/><circle cx="1241" cy="1361.9" r="5.9" class="b"/><circle cx="1243.3" cy="1371.8" r="5.9" class="b"/><circle cx="1214.3" cy="1376.2" r="5.9" class="b"/><circle cx="1214.3" cy="1386.7" r="5.9" class="b"/><circle cx="1223.8" cy="1390.5" r="5.9" class="b"/><circle cx="1240" cy="1386.7" r="5.9" class="b"/><circle cx="1244.8" cy="1384.8" r="5.9" class="b"/><circle cx="1247.7" cy="1386.7" r="5.9" class="b"/><circle cx="1242" cy="1390.5" r="5.9" class="b"/><circle cx="1245.8" cy="1388.6" r="5.9" class="b"/><circle cx="1250.5" cy="1388.6" r="5.9" class="b"/><circle cx="1231.2" cy="1405" r="5.9" class="b"/><circle cx="1243.4" cy="1405.6" r="5.9" class="b"/><circle cx="1293.5" cy="1345.6" r="5.9" class="b"/><circle cx="1294.4" cy="1360.9" r="5.9" class="b"/><circle cx="1289.7" cy="1375.2" r="5.9" class="b"/><circle cx="1293.5" cy="1371.4" r="5.9" class="b"/><circle cx="1288.7" cy="1378.1" r="5.9" class="b"/><circle cx="1373.4" cy="1075.1" r="5.9" class="b"/><circle cx="1383.2" cy="1129.1" r="5.9" class="b"/><circle cx="1498.9" cy="1236.5" r="5.9" class="b"/><circle cx="1423.6" cy="1268.6" r="5.9" class="b"/><circle cx="1511.1" cy="1270.6" r="5.9" class="b"/><circle cx="1423.6" cy="1284.4" r="5.9" class="b"/><circle cx="1328.8" cy="1309" r="5.9" class="b"/><circle cx="1331.4" cy="1318.3" r="5.9" class="b"/><circle cx="1538.7" cy="1344.5" r="5.9" class="b"/><circle cx="1527.4" cy="1348.4" r="5.9" class="b"/><circle cx="1485.5" cy="1353.4" r="5.9" class="b"/><circle cx="1310.7" cy="1359.3" r="5.9" class="b"/><circle cx="1309.7" cy="1367.2" r="5.9" class="b"/><circle cx="1319.6" cy="1370.1" r="5.9" class="b"/><circle cx="1322.5" cy="1373.1" r="5.9" class="b"/><circle cx="1321.5" cy="1374.5" r="5.9" class="b"/><circle cx="1304.2" cy="1378" r="5.9" class="b"/><circle cx="1313.6" cy="1385.4" r="5.9" class="b"/><circle cx="1326.1" cy="1390.4" r="5.9" class="b"/><circle cx="1336.3" cy="1376.6" r="5.9" class="b"/><circle cx="1341.2" cy="1371.1" r="5.9" class="b"/><circle cx="1478.6" cy="1390.4" r="5.9" class="b"/><circle cx="1517.2" cy="1390.4" r="5.9" class="b"/><circle cx="1527.4" cy="1385.9" r="5.9" class="b"/><circle cx="1530" cy="1377.6" r="5.9" class="b"/><circle cx="1547.1" cy="1384.3" r="5.9" class="b"/><circle cx="1552.5" cy="1378.4" r="5.9" class="b"/><circle cx="1548.1" cy="1393.2" r="5.9" class="b"/><circle cx="1561.5" cy="1379" r="5.9" class="b"/><circle cx="1573.2" cy="1377" r="5.9" class="b"/></g>
<line x1="1000.6" y1="1349.4" x2="1601.4" y2="1349.4" stroke="#000" stroke-width="3"/>
<rect x="1483.7" y="1067.7" width="106.8" height="59.7" rx="2.5" fill="#fff" stroke="#cccccc" stroke-width="1"/>
<circle cx="1510.3" cy="1083.8" r="6.0" class="b"/>
<text x="1545.2" y="1089.2" font-size="18.5" text-anchor="start" textLength="38" lengthAdjust="spacingAndGlyphs">walk</text>
<circle cx="1510.3" cy="1111" r="6.0" class="o"/>
<text x="1545.2" y="1116" font-size="18.5" text-anchor="start" textLength="25.8" lengthAdjust="spacingAndGlyphs">run</text>
<text x="1572.8" y="1264.7" font-size="19" text-anchor="end" textLength="173.8" lengthAdjust="spacingAndGlyphs">97.5-percentile: 0.06</text>
<text x="1575.7" y="1336.2" font-size="19" text-anchor="end" textLength="118.6" lengthAdjust="spacingAndGlyphs">median: −0.01</text>
<text x="1576.7" y="1418.8" font-size="19" text-anchor="end" textLength="173.4" lengthAdjust="spacingAndGlyphs">2.5-percentile: −0.05</text>
<line x1="1000.6" y1="1058.4" x2="1600.2" y2="1058.4" stroke="#444" stroke-width="1" stroke-linecap="square"/>
<line x1="1000.6" y1="1434.3" x2="1600.2" y2="1434.3" stroke="#444" stroke-width="1" stroke-linecap="square"/>
<line x1="1000.6" y1="1058.4" x2="1000.6" y2="1434.3" stroke="#444" stroke-width="1" stroke-linecap="square"/>
<line x1="1600.2" y1="1058.4" x2="1600.2" y2="1434.3" stroke="#444" stroke-width="1" stroke-linecap="square"/>
<line x1="1615.5" y1="1058.4" x2="1754.2" y2="1058.4" stroke="#d9d9d9" stroke-width="1" stroke-linecap="square"/>
<line x1="1615.5" y1="1434.3" x2="1754.2" y2="1434.3" stroke="#444" stroke-width="1" stroke-linecap="square"/>
<line x1="1615.5" y1="1058.4" x2="1615.5" y2="1434.3" stroke="#d9d9d9" stroke-width="1" stroke-linecap="square"/>
<line x1="1754.2" y1="1058.4" x2="1754.2" y2="1434.3" stroke="#d9d9d9" stroke-width="1" stroke-linecap="square"/>
<line x1="1017.7" y1="1434.3" x2="1017.7" y2="1438.1" stroke="#222" stroke-width="1.1"/>
<text x="1017.7" y="1454.3" font-size="19.5" text-anchor="middle">0.2</text>
<line x1="1121.5" y1="1434.3" x2="1121.5" y2="1438.1" stroke="#222" stroke-width="1.1"/>
<text x="1121.5" y="1454.3" font-size="19.5" text-anchor="middle">0.4</text>
<line x1="1225.3" y1="1434.3" x2="1225.3" y2="1438.1" stroke="#222" stroke-width="1.1"/>
<text x="1225.3" y="1454.3" font-size="19.5" text-anchor="middle">0.6</text>
<line x1="1329.1" y1="1434.3" x2="1329.1" y2="1438.1" stroke="#222" stroke-width="1.1"/>
<text x="1329.1" y="1454.3" font-size="19.5" text-anchor="middle">0.8</text>
<line x1="1432.9" y1="1434.3" x2="1432.9" y2="1438.1" stroke="#222" stroke-width="1.1"/>
<text x="1432.9" y="1454.3" font-size="19.5" text-anchor="middle">1.0</text>
<line x1="1536.7" y1="1434.3" x2="1536.7" y2="1438.1" stroke="#222" stroke-width="1.1"/>
<text x="1536.7" y="1454.3" font-size="19.5" text-anchor="middle">1.2</text>
<line x1="996.8" y1="1093.2" x2="1000.6" y2="1093.2" stroke="#222" stroke-width="1.1"/>
<text x="993.5" y="1100.18" font-size="19.5" text-anchor="end">0.20</text>
<line x1="996.8" y1="1155.25" x2="1000.6" y2="1155.25" stroke="#222" stroke-width="1.1"/>
<text x="993.5" y="1162.23" font-size="19.5" text-anchor="end">0.15</text>
<line x1="996.8" y1="1217.3" x2="1000.6" y2="1217.3" stroke="#222" stroke-width="1.1"/>
<text x="993.5" y="1224.28" font-size="19.5" text-anchor="end">0.10</text>
<line x1="996.8" y1="1279.35" x2="1000.6" y2="1279.35" stroke="#222" stroke-width="1.1"/>
<text x="993.5" y="1286.33" font-size="19.5" text-anchor="end">0.05</text>
<line x1="996.8" y1="1341.4" x2="1000.6" y2="1341.4" stroke="#222" stroke-width="1.1"/>
<text x="993.5" y="1348.38" font-size="19.5" text-anchor="end">0.00</text>
<line x1="996.8" y1="1403.45" x2="1000.6" y2="1403.45" stroke="#222" stroke-width="1.1"/>
<text x="993.5" y="1410.43" font-size="19.5" text-anchor="end">−0.05</text>
<line x1="1615.5" y1="1434.3" x2="1615.5" y2="1438.1" stroke="#222" stroke-width="1.1"/>
<text x="1615.5" y="1454.3" font-size="19.5" text-anchor="middle">0</text>
<line x1="1668.4" y1="1434.3" x2="1668.4" y2="1438.1" stroke="#222" stroke-width="1.1"/>
<text x="1668.4" y="1454.3" font-size="19.5" text-anchor="middle">10</text>
<line x1="1721.3" y1="1434.3" x2="1721.3" y2="1438.1" stroke="#222" stroke-width="1.1"/>
<text x="1721.3" y="1454.3" font-size="19.5" text-anchor="middle">20</text>
<text x="928.8" y="1037.6" font-size="26" text-anchor="start">(f)</text>
<text x="1161.6" y="1047.4" font-size="34.3" text-anchor="start" textLength="429.1" lengthAdjust="spacingAndGlyphs" style="stroke-width:0.75px">Stance phase duration (sec)</text>
<text x="1082.5" y="1476.2" font-size="21" text-anchor="start" textLength="436" lengthAdjust="spacingAndGlyphs">Mean of methods: Stance phase duration (sec)</text>
<text x="1636.9" y="1476.2" font-size="21" text-anchor="start" textLength="96.9" lengthAdjust="spacingAndGlyphs">Frequency</text>
<text x="0" y="0" font-size="21" text-anchor="middle" transform="translate(939,1247) rotate(-90)" textLength="214" lengthAdjust="spacingAndGlyphs">Difference (MS − OMC)</text>
<line x1="124.4" y1="1558.9" x2="124.4" y2="1934.6" stroke="#cdcdcd" stroke-width="0.9" stroke-dasharray="4.4,3.0"/>
<line x1="206.6" y1="1558.9" x2="206.6" y2="1934.6" stroke="#cdcdcd" stroke-width="0.9" stroke-dasharray="4.4,3.0"/>
<line x1="288.8" y1="1558.9" x2="288.8" y2="1934.6" stroke="#cdcdcd" stroke-width="0.9" stroke-dasharray="4.4,3.0"/>
<line x1="371" y1="1558.9" x2="371" y2="1934.6" stroke="#cdcdcd" stroke-width="0.9" stroke-dasharray="4.4,3.0"/>
<line x1="453.2" y1="1558.9" x2="453.2" y2="1934.6" stroke="#cdcdcd" stroke-width="0.9" stroke-dasharray="4.4,3.0"/>
<line x1="535.4" y1="1558.9" x2="535.4" y2="1934.6" stroke="#cdcdcd" stroke-width="0.9" stroke-dasharray="4.4,3.0"/>
<line x1="617.6" y1="1558.9" x2="617.6" y2="1934.6" stroke="#cdcdcd" stroke-width="0.9" stroke-dasharray="4.4,3.0"/>
<line x1="699.8" y1="1558.9" x2="699.8" y2="1934.6" stroke="#cdcdcd" stroke-width="0.9" stroke-dasharray="4.4,3.0"/>
<line x1="107.4" y1="1586.4" x2="703.5" y2="1586.4" stroke="#cdcdcd" stroke-width="0.9" stroke-dasharray="4.4,3.0"/>
<line x1="733.5" y1="1586.4" x2="860.5" y2="1586.4" stroke="#cdcdcd" stroke-width="0.9" stroke-dasharray="4.4,3.0"/>
<line x1="107.4" y1="1653.5" x2="703.5" y2="1653.5" stroke="#cdcdcd" stroke-width="0.9" stroke-dasharray="4.4,3.0"/>
<line x1="733.5" y1="1653.5" x2="860.5" y2="1653.5" stroke="#cdcdcd" stroke-width="0.9" stroke-dasharray="4.4,3.0"/>
<line x1="107.4" y1="1720.6" x2="703.5" y2="1720.6" stroke="#cdcdcd" stroke-width="0.9" stroke-dasharray="4.4,3.0"/>
<line x1="733.5" y1="1720.6" x2="860.5" y2="1720.6" stroke="#cdcdcd" stroke-width="0.9" stroke-dasharray="4.4,3.0"/>
<line x1="107.4" y1="1787.7" x2="703.5" y2="1787.7" stroke="#cdcdcd" stroke-width="0.9" stroke-dasharray="4.4,3.0"/>
<line x1="733.5" y1="1787.7" x2="860.5" y2="1787.7" stroke="#cdcdcd" stroke-width="0.9" stroke-dasharray="4.4,3.0"/>
<line x1="107.4" y1="1854.8" x2="703.5" y2="1854.8" stroke="#cdcdcd" stroke-width="0.9" stroke-dasharray="4.4,3.0"/>
<line x1="733.5" y1="1854.8" x2="860.5" y2="1854.8" stroke="#cdcdcd" stroke-width="0.9" stroke-dasharray="4.4,3.0"/>
<line x1="107.4" y1="1921.9" x2="703.5" y2="1921.9" stroke="#cdcdcd" stroke-width="0.9" stroke-dasharray="4.4,3.0"/>
<line x1="733.5" y1="1921.9" x2="860.5" y2="1921.9" stroke="#cdcdcd" stroke-width="0.9" stroke-dasharray="4.4,3.0"/>
<path d="M733.5 1576h13.35V1589.1H733.5ZM733.5 1589.1h44.5V1603.2H733.5ZM733.5 1603.2h75.65V1616.8H733.5ZM733.5 1616.8h93.45V1630.9H733.5ZM733.5 1630.9h66.75V1644.2H733.5ZM733.5 1644.2h75.65V1658.1H733.5ZM733.5 1658.1h120.15V1671.9H733.5ZM733.5 1671.9h35.6V1685.8H733.5ZM733.5 1685.8h26.7V1698.9H733.5ZM733.5 1698.9h8.9V1712.4H733.5ZM733.5 1712.4h8.9V1725.9H733.5ZM733.5 1740.1h4.45V1753.4H733.5ZM733.5 1753.4h4.45V1766.9H733.5ZM733.5 1849.2h4.45V1862.7H733.5ZM733.5 1904.3h4.45V1917.8H733.5Z" fill="#a6a6a6"/>
<line x1="107.4" y1="1653.5" x2="703.5" y2="1653.5" stroke="#333" stroke-width="1"/>
<line x1="107.4" y1="1591.4" x2="703.5" y2="1591.4" stroke="#000" stroke-width="1.7" stroke-dasharray="4.2,2.4"/>
<line x1="107.4" y1="1740.5" x2="703.5" y2="1740.5" stroke="#000" stroke-width="1.7" stroke-dasharray="4.2,2.4"/>
<g><circle cx="183.6" cy="1581.9" r="5.9" class="b"/><circle cx="169.7" cy="1601.5" r="5.9" class="b"/><circle cx="170.6" cy="1610.1" r="5.9" class="b"/><circle cx="193.5" cy="1592" r="5.9" class="b"/><circle cx="194.5" cy="1597.7" r="5.9" class="b"/><circle cx="199.3" cy="1600.6" r="5.9" class="b"/><circle cx="204" cy="1598.7" r="5.9" class="b"/><circle cx="204" cy="1605.4" r="5.9" class="b"/><circle cx="207.8" cy="1630.2" r="5.9" class="b"/><circle cx="223.1" cy="1633" r="5.9" class="b"/><circle cx="226" cy="1605.4" r="5.9" class="b"/><circle cx="231.7" cy="1607.3" r="5.9" class="b"/><circle cx="238.4" cy="1612" r="5.9" class="b"/><circle cx="233.6" cy="1615.9" r="5.9" class="b"/><circle cx="229.8" cy="1624.4" r="5.9" class="b"/><circle cx="235.5" cy="1620.6" r="5.9" class="b"/><circle cx="244.1" cy="1603.4" r="5.9" class="b"/><circle cx="248.9" cy="1607.3" r="5.9" class="b"/><circle cx="249.8" cy="1622.5" r="5.9" class="b"/><circle cx="247.9" cy="1628.3" r="5.9" class="b"/><circle cx="245.1" cy="1634" r="5.9" class="b"/><circle cx="241.2" cy="1636.8" r="5.9" class="b"/><circle cx="262.2" cy="1621.6" r="5.9" class="b"/><circle cx="261.3" cy="1625.4" r="5.9" class="b"/><circle cx="262.2" cy="1628.3" r="5.9" class="b"/><circle cx="292.4" cy="1613" r="5.9" class="b"/><circle cx="290.9" cy="1625.8" r="5.9" class="b"/><circle cx="292.8" cy="1648.3" r="5.9" class="b"/><circle cx="290.9" cy="1654.6" r="5.9" class="b"/><circle cx="311.3" cy="1682.7" r="5.9" class="b"/><circle cx="336.7" cy="1687" r="5.9" class="b"/><circle cx="329" cy="1623.5" r="5.9" class="b"/><circle cx="341.1" cy="1612" r="5.9" class="b"/><circle cx="344.3" cy="1620.6" r="5.9" class="b"/><circle cx="342" cy="1626.4" r="5.9" class="b"/><circle cx="354.4" cy="1600" r="5.9" class="b"/><circle cx="391.5" cy="1621.6" r="5.9" class="b"/><circle cx="400.6" cy="1645.4" r="5.9" class="b"/><circle cx="367.2" cy="1723.7" r="5.9" class="b"/><circle cx="379.1" cy="1747.2" r="5.9" class="b"/><circle cx="422.5" cy="1609.2" r="5.9" class="b"/><circle cx="477.3" cy="1611.5" r="5.9" class="b"/><circle cx="492.6" cy="1620.2" r="5.9" class="b"/><circle cx="528.3" cy="1615.5" r="5.9" class="b"/><circle cx="443.9" cy="1631.1" r="5.9" class="b"/><circle cx="456.9" cy="1634" r="5.9" class="b"/><circle cx="480.7" cy="1662.6" r="5.9" class="b"/><circle cx="456.9" cy="1719.5" r="5.9" class="b"/><circle cx="508.8" cy="1763.9" r="5.9" class="b"/><circle cx="459.7" cy="1852.2" r="5.9" class="b"/><circle cx="517.8" cy="1917.1" r="5.9" class="b"/><circle cx="134.4" cy="1575.8" r="5.9" class="o"/><circle cx="165.9" cy="1611.5" r="5.9" class="o"/><circle cx="192.6" cy="1633" r="5.9" class="o"/><circle cx="196.4" cy="1625.4" r="5.9" class="o"/><circle cx="203.1" cy="1622.5" r="5.9" class="o"/><circle cx="189.1" cy="1661.7" r="5.9" class="o"/><circle cx="216.1" cy="1611.5" r="5.9" class="o"/><circle cx="234.6" cy="1625" r="5.9" class="o"/><circle cx="239.3" cy="1635.5" r="5.9" class="o"/><circle cx="265.1" cy="1599.2" r="5.9" class="o"/><circle cx="278.5" cy="1605.9" r="5.9" class="o"/><circle cx="260.9" cy="1651.2" r="5.9" class="o"/><circle cx="303.3" cy="1642.6" r="5.9" class="o"/><circle cx="305.2" cy="1638.8" r="5.9" class="o"/><circle cx="320.5" cy="1635.9" r="5.9" class="o"/><circle cx="320.5" cy="1650.2" r="5.9" class="o"/><circle cx="322.4" cy="1655" r="5.9" class="o"/><circle cx="322.4" cy="1662.6" r="5.9" class="o"/><circle cx="330" cy="1668.3" r="5.9" class="o"/><circle cx="333.8" cy="1650.2" r="5.9" class="o"/><circle cx="338.6" cy="1638.8" r="5.9" class="o"/><circle cx="340.1" cy="1655.9" r="5.9" class="o"/><circle cx="363" cy="1600.6" r="5.9" class="o"/><circle cx="377.7" cy="1590.5" r="5.9" class="o"/><circle cx="381.5" cy="1606.3" r="5.9" class="o"/><circle cx="399.7" cy="1626.4" r="5.9" class="o"/><circle cx="369.1" cy="1643" r="5.9" class="o"/><circle cx="380.6" cy="1638.8" r="5.9" class="o"/><circle cx="371" cy="1654" r="5.9" class="o"/><circle cx="376.8" cy="1654" r="5.9" class="o"/><circle cx="387.3" cy="1658.8" r="5.9" class="o"/><circle cx="387.3" cy="1664.5" r="5.9" class="o"/><circle cx="388.2" cy="1667.4" r="5.9" class="o"/><circle cx="398.7" cy="1655" r="5.9" class="o"/><circle cx="399.7" cy="1658.8" r="5.9" class="o"/><circle cx="456.3" cy="1576.7" r="5.9" class="o"/><circle cx="519.3" cy="1609.6" r="5.9" class="o"/><circle cx="442" cy="1642.6" r="5.9" class="o"/><circle cx="449.6" cy="1644.5" r="5.9" class="o"/><circle cx="455.4" cy="1643.5" r="5.9" class="o"/><circle cx="484.6" cy="1651.2" r="5.9" class="o"/><circle cx="496.4" cy="1657.8" r="5.9" class="o"/><circle cx="422" cy="1653.1" r="5.9" class="o"/><circle cx="421" cy="1655.9" r="5.9" class="o"/><circle cx="423.9" cy="1658.8" r="5.9" class="o"/><circle cx="433.4" cy="1657.8" r="5.9" class="o"/><circle cx="442.9" cy="1659.8" r="5.9" class="o"/><circle cx="448.7" cy="1660.3" r="5.9" class="o"/><circle cx="454.4" cy="1659.8" r="5.9" class="o"/><circle cx="455.4" cy="1662.6" r="5.9" class="o"/><circle cx="464.9" cy="1666.4" r="5.9" class="o"/><circle cx="465.9" cy="1669.3" r="5.9" class="o"/><circle cx="468.7" cy="1656.9" r="5.9" class="o"/><circle cx="469.7" cy="1664.5" r="5.9" class="o"/><circle cx="440.7" cy="1671.2" r="5.9" class="o"/><circle cx="416.8" cy="1677.5" r="5.9" class="o"/><circle cx="455.4" cy="1677.5" r="5.9" class="o"/><circle cx="424.8" cy="1694.1" r="5.9" class="o"/><circle cx="439.1" cy="1697" r="5.9" class="o"/><circle cx="450.6" cy="1696" r="5.9" class="o"/><circle cx="500.2" cy="1686.9" r="5.9" class="o"/><circle cx="500.2" cy="1700.8" r="5.9" class="o"/><circle cx="521.2" cy="1670.3" r="5.9" class="o"/><circle cx="524.1" cy="1679.4" r="5.9" class="o"/><circle cx="514.5" cy="1684.6" r="5.9" class="o"/><circle cx="516.4" cy="1682.7" r="5.9" class="o"/><circle cx="536.5" cy="1669.3" r="5.9" class="o"/><circle cx="546" cy="1671.2" r="5.9" class="o"/><circle cx="601.4" cy="1665.5" r="5.9" class="o"/><circle cx="602.3" cy="1679.2" r="5.9" class="o"/><circle cx="629.1" cy="1669.3" r="5.9" class="o"/><circle cx="676.8" cy="1668" r="5.9" class="o"/><circle cx="675.8" cy="1683.6" r="5.9" class="o"/><circle cx="648.1" cy="1704.6" r="5.9" class="o"/><circle cx="409" cy="1660" r="5.9" class="o"/><circle cx="412" cy="1664" r="5.9" class="o"/></g>
<line x1="107.4" y1="1644.1" x2="704.7" y2="1644.1" stroke="#000" stroke-width="3"/>
<rect x="116.8" y="1864.9" width="106.6" height="59.3" rx="2.5" fill="#fff" stroke="#cccccc" stroke-width="1"/>
<circle cx="143.2" cy="1881.2" r="6.0" class="b"/>
<text x="178" y="1886.3" font-size="18.5" text-anchor="start" textLength="38" lengthAdjust="spacingAndGlyphs">walk</text>
<circle cx="143.2" cy="1908.1" r="6.0" class="o"/>
<text x="178" y="1913.4" font-size="18.5" text-anchor="start" textLength="25.8" lengthAdjust="spacingAndGlyphs">run</text>
<text x="675.8" y="1586.8" font-size="19" text-anchor="end" textLength="172.7" lengthAdjust="spacingAndGlyphs">97.5-percentile: 0.05</text>
<text x="674.9" y="1639.7" font-size="19" text-anchor="end" textLength="107.9" lengthAdjust="spacingAndGlyphs">median: 0.01</text>
<text x="680.2" y="1736.1" font-size="19" text-anchor="end" textLength="172.4" lengthAdjust="spacingAndGlyphs">2.5-percentile: −0.07</text>
<line x1="107.4" y1="1558.9" x2="703.5" y2="1558.9" stroke="#d9d9d9" stroke-width="1" stroke-linecap="square"/>
<line x1="107.4" y1="1934.6" x2="703.5" y2="1934.6" stroke="#444" stroke-width="1" stroke-linecap="square"/>
<line x1="107.4" y1="1558.9" x2="107.4" y2="1934.6" stroke="#444" stroke-width="1" stroke-linecap="square"/>
<line x1="703.5" y1="1558.9" x2="703.5" y2="1934.6" stroke="#444" stroke-width="1" stroke-linecap="square"/>
<line x1="733.5" y1="1558.9" x2="860.5" y2="1558.9" stroke="#d9d9d9" stroke-width="1" stroke-linecap="square"/>
<line x1="733.5" y1="1934.6" x2="860.5" y2="1934.6" stroke="#444" stroke-width="1" stroke-linecap="square"/>
<line x1="733.5" y1="1558.9" x2="733.5" y2="1934.6" stroke="#444" stroke-width="1" stroke-linecap="square"/>
<line x1="860.5" y1="1558.9" x2="860.5" y2="1934.6" stroke="#444" stroke-width="1" stroke-linecap="square"/>
<line x1="124.4" y1="1934.6" x2="124.4" y2="1938.4" stroke="#222" stroke-width="1.1"/>
<text x="124.4" y="1954.9" font-size="19.5" text-anchor="middle">0.30</text>
<line x1="206.6" y1="1934.6" x2="206.6" y2="1938.4" stroke="#222" stroke-width="1.1"/>
<text x="206.6" y="1954.9" font-size="19.5" text-anchor="middle">0.35</text>
<line x1="288.8" y1="1934.6" x2="288.8" y2="1938.4" stroke="#222" stroke-width="1.1"/>
<text x="288.8" y="1954.9" font-size="19.5" text-anchor="middle">0.40</text>
<line x1="371" y1="1934.6" x2="371" y2="1938.4" stroke="#222" stroke-width="1.1"/>
<text x="371" y="1954.9" font-size="19.5" text-anchor="middle">0.45</text>
<line x1="453.2" y1="1934.6" x2="453.2" y2="1938.4" stroke="#222" stroke-width="1.1"/>
<text x="453.2" y="1954.9" font-size="19.5" text-anchor="middle">0.50</text>
<line x1="535.4" y1="1934.6" x2="535.4" y2="1938.4" stroke="#222" stroke-width="1.1"/>
<text x="535.4" y="1954.9" font-size="19.5" text-anchor="middle">0.55</text>
<line x1="617.6" y1="1934.6" x2="617.6" y2="1938.4" stroke="#222" stroke-width="1.1"/>
<text x="617.6" y="1954.9" font-size="19.5" text-anchor="middle">0.60</text>
<line x1="699.8" y1="1934.6" x2="699.8" y2="1938.4" stroke="#222" stroke-width="1.1"/>
<text x="699.8" y="1954.9" font-size="19.5" text-anchor="middle">0.65</text>
<line x1="103.6" y1="1586.4" x2="107.4" y2="1586.4" stroke="#222" stroke-width="1.1"/>
<text x="99.2" y="1593.38" font-size="19.5" text-anchor="end">0.05</text>
<line x1="103.6" y1="1653.5" x2="107.4" y2="1653.5" stroke="#222" stroke-width="1.1"/>
<text x="99.2" y="1660.48" font-size="19.5" text-anchor="end">0.00</text>
<line x1="103.6" y1="1720.6" x2="107.4" y2="1720.6" stroke="#222" stroke-width="1.1"/>
<text x="99.2" y="1727.58" font-size="19.5" text-anchor="end">−0.05</text>
<line x1="103.6" y1="1787.7" x2="107.4" y2="1787.7" stroke="#222" stroke-width="1.1"/>
<text x="99.2" y="1794.68" font-size="19.5" text-anchor="end">−0.10</text>
<line x1="103.6" y1="1854.8" x2="107.4" y2="1854.8" stroke="#222" stroke-width="1.1"/>
<text x="99.2" y="1861.78" font-size="19.5" text-anchor="end">−0.15</text>
<line x1="103.6" y1="1921.9" x2="107.4" y2="1921.9" stroke="#222" stroke-width="1.1"/>
<text x="99.2" y="1928.88" font-size="19.5" text-anchor="end">−0.20</text>
<line x1="733.5" y1="1934.6" x2="733.5" y2="1938.4" stroke="#222" stroke-width="1.1"/>
<text x="733.5" y="1954.9" font-size="19.5" text-anchor="middle">0</text>
<line x1="778" y1="1934.6" x2="778" y2="1938.4" stroke="#222" stroke-width="1.1"/>
<text x="778" y="1954.9" font-size="19.5" text-anchor="middle">10</text>
<line x1="822.5" y1="1934.6" x2="822.5" y2="1938.4" stroke="#222" stroke-width="1.1"/>
<text x="822.5" y="1954.9" font-size="19.5" text-anchor="middle">20</text>
<text x="36.4" y="1537.7" font-size="26" text-anchor="start">(g)</text>
<text x="272.7" y="1547.5" font-size="34.3" text-anchor="start" textLength="415.8" lengthAdjust="spacingAndGlyphs" style="stroke-width:0.75px">Swing phase duration (sec)</text>
<text x="192.2" y="1977" font-size="21" text-anchor="start" textLength="427.5" lengthAdjust="spacingAndGlyphs">Mean of methods: Swing phase duration (sec)</text>
<text x="748.4" y="1977" font-size="21" text-anchor="start" textLength="97" lengthAdjust="spacingAndGlyphs">Frequency</text>
<text x="0" y="0" font-size="21" text-anchor="middle" transform="translate(44,1746.7) rotate(-90)" textLength="214" lengthAdjust="spacingAndGlyphs">Difference (MS − OMC)</text>
<line x1="1045.7" y1="1558.8" x2="1045.7" y2="1934.2" stroke="#cdcdcd" stroke-width="0.9" stroke-dasharray="4.4,3.0"/>
<line x1="1113.1" y1="1558.8" x2="1113.1" y2="1934.2" stroke="#cdcdcd" stroke-width="0.9" stroke-dasharray="4.4,3.0"/>
<line x1="1180.5" y1="1558.8" x2="1180.5" y2="1934.2" stroke="#cdcdcd" stroke-width="0.9" stroke-dasharray="4.4,3.0"/>
<line x1="1247.9" y1="1558.8" x2="1247.9" y2="1934.2" stroke="#cdcdcd" stroke-width="0.9" stroke-dasharray="4.4,3.0"/>
<line x1="1315.3" y1="1558.8" x2="1315.3" y2="1934.2" stroke="#cdcdcd" stroke-width="0.9" stroke-dasharray="4.4,3.0"/>
<line x1="1382.7" y1="1558.8" x2="1382.7" y2="1934.2" stroke="#cdcdcd" stroke-width="0.9" stroke-dasharray="4.4,3.0"/>
<line x1="1450.1" y1="1558.8" x2="1450.1" y2="1934.2" stroke="#cdcdcd" stroke-width="0.9" stroke-dasharray="4.4,3.0"/>
<line x1="1517.5" y1="1558.8" x2="1517.5" y2="1934.2" stroke="#cdcdcd" stroke-width="0.9" stroke-dasharray="4.4,3.0"/>
<line x1="1584.9" y1="1558.8" x2="1584.9" y2="1934.2" stroke="#cdcdcd" stroke-width="0.9" stroke-dasharray="4.4,3.0"/>
<line x1="1000.5" y1="1563.25" x2="1600.3" y2="1563.25" stroke="#cdcdcd" stroke-width="0.9" stroke-dasharray="4.4,3.0"/>
<line x1="1615.5" y1="1563.25" x2="1754.6" y2="1563.25" stroke="#cdcdcd" stroke-width="0.9" stroke-dasharray="4.4,3.0"/>
<line x1="1000.5" y1="1607.3" x2="1600.3" y2="1607.3" stroke="#cdcdcd" stroke-width="0.9" stroke-dasharray="4.4,3.0"/>
<line x1="1615.5" y1="1607.3" x2="1754.6" y2="1607.3" stroke="#cdcdcd" stroke-width="0.9" stroke-dasharray="4.4,3.0"/>
<line x1="1000.5" y1="1651.35" x2="1600.3" y2="1651.35" stroke="#cdcdcd" stroke-width="0.9" stroke-dasharray="4.4,3.0"/>
<line x1="1615.5" y1="1651.35" x2="1754.6" y2="1651.35" stroke="#cdcdcd" stroke-width="0.9" stroke-dasharray="4.4,3.0"/>
<line x1="1000.5" y1="1695.4" x2="1600.3" y2="1695.4" stroke="#cdcdcd" stroke-width="0.9" stroke-dasharray="4.4,3.0"/>
<line x1="1615.5" y1="1695.4" x2="1754.6" y2="1695.4" stroke="#cdcdcd" stroke-width="0.9" stroke-dasharray="4.4,3.0"/>
<line x1="1000.5" y1="1739.45" x2="1600.3" y2="1739.45" stroke="#cdcdcd" stroke-width="0.9" stroke-dasharray="4.4,3.0"/>
<line x1="1615.5" y1="1739.45" x2="1754.6" y2="1739.45" stroke="#cdcdcd" stroke-width="0.9" stroke-dasharray="4.4,3.0"/>
<line x1="1000.5" y1="1783.5" x2="1600.3" y2="1783.5" stroke="#cdcdcd" stroke-width="0.9" stroke-dasharray="4.4,3.0"/>
<line x1="1615.5" y1="1783.5" x2="1754.6" y2="1783.5" stroke="#cdcdcd" stroke-width="0.9" stroke-dasharray="4.4,3.0"/>
<line x1="1000.5" y1="1827.55" x2="1600.3" y2="1827.55" stroke="#cdcdcd" stroke-width="0.9" stroke-dasharray="4.4,3.0"/>
<line x1="1615.5" y1="1827.55" x2="1754.6" y2="1827.55" stroke="#cdcdcd" stroke-width="0.9" stroke-dasharray="4.4,3.0"/>
<line x1="1000.5" y1="1871.6" x2="1600.3" y2="1871.6" stroke="#cdcdcd" stroke-width="0.9" stroke-dasharray="4.4,3.0"/>
<line x1="1615.5" y1="1871.6" x2="1754.6" y2="1871.6" stroke="#cdcdcd" stroke-width="0.9" stroke-dasharray="4.4,3.0"/>
<line x1="1000.5" y1="1915.65" x2="1600.3" y2="1915.65" stroke="#cdcdcd" stroke-width="0.9" stroke-dasharray="4.4,3.0"/>
<line x1="1615.5" y1="1915.65" x2="1754.6" y2="1915.65" stroke="#cdcdcd" stroke-width="0.9" stroke-dasharray="4.4,3.0"/>
<path d="M1615.5 1576h7.8V1630H1615.5ZM1615.5 1630h46.8V1671.6H1615.5ZM1615.5 1671.6h101.4V1685.2H1615.5ZM1615.5 1685.2h132.6V1698.7H1615.5ZM1615.5 1698.7h85.8V1712.2H1615.5ZM1615.5 1712.2h93.6V1725.9H1615.5ZM1615.5 1725.9h62.4V1739.8H1615.5ZM1615.5 1739.8h54.6V1753.9H1615.5ZM1615.5 1753.9h46.8V1767.2H1615.5ZM1615.5 1767.2h85.8V1780.8H1615.5ZM1615.5 1780.8h54.6V1794.6H1615.5ZM1615.5 1794.6h46.8V1808.2H1615.5ZM1615.5 1808.2h70.2V1821.8H1615.5ZM1615.5 1821.8h7.8V1849H1615.5ZM1615.5 1904h7.8V1917.1H1615.5Z" fill="#a6a6a6"/>
<line x1="1000.5" y1="1695.4" x2="1600.3" y2="1695.4" stroke="#333" stroke-width="1"/>
<line x1="1000.5" y1="1626" x2="1600.3" y2="1626" stroke="#000" stroke-width="1.7" stroke-dasharray="4.2,2.4"/>
<line x1="1000.5" y1="1819.8" x2="1600.3" y2="1819.8" stroke="#000" stroke-width="1.7" stroke-dasharray="4.2,2.4"/>
<g><circle cx="1027.8" cy="1684.2" r="5.9" class="b"/><circle cx="1084.9" cy="1657.8" r="5.9" class="b"/><circle cx="1088.3" cy="1686.1" r="5.9" class="b"/><circle cx="1098.8" cy="1647.7" r="5.9" class="b"/><circle cx="1105.9" cy="1634" r="5.9" class="b"/><circle cx="1105.1" cy="1696.6" r="5.9" class="b"/><circle cx="1109.3" cy="1712.2" r="5.9" class="b"/><circle cx="1086" cy="1719.9" r="5.9" class="b"/><circle cx="1115" cy="1682.7" r="5.9" class="b"/><circle cx="1123.2" cy="1643.1" r="5.9" class="b"/><circle cx="1127.8" cy="1636.8" r="5.9" class="b"/><circle cx="1138.9" cy="1655.6" r="5.9" class="b"/><circle cx="1124" cy="1674.6" r="5.9" class="b"/><circle cx="1128.4" cy="1687.4" r="5.9" class="b"/><circle cx="1132.2" cy="1684.2" r="5.9" class="b"/><circle cx="1131.8" cy="1697.5" r="5.9" class="b"/><circle cx="1124.6" cy="1702.7" r="5.9" class="b"/><circle cx="1144.6" cy="1694.7" r="5.9" class="b"/><circle cx="1144.6" cy="1723.3" r="5.9" class="b"/><circle cx="1156.1" cy="1684.6" r="5.9" class="b"/><circle cx="1166.9" cy="1661.7" r="5.9" class="b"/><circle cx="1175.2" cy="1674.1" r="5.9" class="b"/><circle cx="1184.3" cy="1672.7" r="5.9" class="b"/><circle cx="1178" cy="1692.2" r="5.9" class="b"/><circle cx="1186.6" cy="1700.8" r="5.9" class="b"/><circle cx="1194.8" cy="1692.2" r="5.9" class="b"/><circle cx="1164.7" cy="1703.7" r="5.9" class="b"/><circle cx="1168.5" cy="1715.1" r="5.9" class="b"/><circle cx="1183.7" cy="1710" r="5.9" class="b"/><circle cx="1216.2" cy="1713.2" r="5.9" class="b"/><circle cx="1221" cy="1719.5" r="5.9" class="b"/><circle cx="1231.5" cy="1683.6" r="5.9" class="b"/><circle cx="1230.9" cy="1697" r="5.9" class="b"/><circle cx="1235.3" cy="1713.2" r="5.9" class="b"/><circle cx="1254.4" cy="1703.3" r="5.9" class="b"/><circle cx="1258.2" cy="1687" r="5.9" class="b"/><circle cx="1274.4" cy="1687.4" r="5.9" class="b"/><circle cx="1278.2" cy="1683.6" r="5.9" class="b"/><circle cx="1284" cy="1677.5" r="5.9" class="b"/><circle cx="1273.4" cy="1692.2" r="5.9" class="b"/><circle cx="1279.2" cy="1731.3" r="5.9" class="b"/><circle cx="1296.4" cy="1714.2" r="5.9" class="b"/><circle cx="1300.2" cy="1682.3" r="5.9" class="b"/><circle cx="1185.1" cy="1755.5" r="5.9" class="b"/><circle cx="1219" cy="1778.2" r="5.9" class="b"/><circle cx="1231.5" cy="1770.2" r="5.9" class="b"/><circle cx="1259.7" cy="1762" r="5.9" class="b"/><circle cx="1304.2" cy="1682" r="5.9" class="b"/><circle cx="1337.3" cy="1750.3" r="5.9" class="b"/><circle cx="1341.2" cy="1776.1" r="5.9" class="b"/><circle cx="1377.7" cy="1782.4" r="5.9" class="b"/><circle cx="1377.3" cy="1801.5" r="5.9" class="b"/><circle cx="1413.5" cy="1810" r="5.9" class="b"/><circle cx="1382" cy="1819.8" r="5.9" class="b"/><circle cx="1423.4" cy="1837.1" r="5.9" class="b"/><circle cx="1134.1" cy="1721.4" r="5.9" class="o"/><circle cx="1236.2" cy="1692.2" r="5.9" class="o"/><circle cx="1207.6" cy="1707.5" r="5.9" class="o"/><circle cx="1238.1" cy="1714.2" r="5.9" class="o"/><circle cx="1237.2" cy="1722.7" r="5.9" class="o"/><circle cx="1268.7" cy="1721.4" r="5.9" class="o"/><circle cx="1256.3" cy="1729.4" r="5.9" class="o"/><circle cx="1290.6" cy="1708.4" r="5.9" class="o"/><circle cx="1290.2" cy="1728.5" r="5.9" class="o"/><circle cx="1166.6" cy="1734.8" r="5.9" class="o"/><circle cx="1184.3" cy="1739.9" r="5.9" class="o"/><circle cx="1205.7" cy="1734.8" r="5.9" class="o"/><circle cx="1228.2" cy="1734.8" r="5.9" class="o"/><circle cx="1256.7" cy="1735.7" r="5.9" class="o"/><circle cx="1206.3" cy="1750" r="5.9" class="o"/><circle cx="1235.8" cy="1755.2" r="5.9" class="o"/><circle cx="1294.8" cy="1753.9" r="5.9" class="o"/><circle cx="1158" cy="1758.6" r="5.9" class="o"/><circle cx="1172.7" cy="1765.8" r="5.9" class="o"/><circle cx="1198" cy="1767.3" r="5.9" class="o"/><circle cx="1243.9" cy="1769.6" r="5.9" class="o"/><circle cx="1127" cy="1779.1" r="5.9" class="o"/><circle cx="1187.6" cy="1788.1" r="5.9" class="o"/><circle cx="1198.6" cy="1793.1" r="5.9" class="o"/><circle cx="1208.2" cy="1792.5" r="5.9" class="o"/><circle cx="1236.8" cy="1784.3" r="5.9" class="o"/><circle cx="1252.5" cy="1777.2" r="5.9" class="o"/><circle cx="1261" cy="1775.3" r="5.9" class="o"/><circle cx="1270.6" cy="1773.4" r="5.9" class="o"/><circle cx="1276.3" cy="1770.2" r="5.9" class="o"/><circle cx="1157.6" cy="1797.3" r="5.9" class="o"/><circle cx="1129" cy="1802" r="5.9" class="o"/><circle cx="1134.5" cy="1809.7" r="5.9" class="o"/><circle cx="1248.3" cy="1800.7" r="5.9" class="o"/><circle cx="1221.5" cy="1804.5" r="5.9" class="o"/><circle cx="1161.4" cy="1810.2" r="5.9" class="o"/><circle cx="1184.3" cy="1812.5" r="5.9" class="o"/><circle cx="1095" cy="1812.9" r="5.9" class="o"/><circle cx="1167.9" cy="1819.8" r="5.9" class="o"/><circle cx="1222.4" cy="1816" r="5.9" class="o"/><circle cx="1205.3" cy="1834.9" r="5.9" class="o"/><circle cx="1547.7" cy="1575.6" r="5.9" class="o"/><circle cx="1563.9" cy="1601.2" r="5.9" class="o"/><circle cx="1551.1" cy="1616.6" r="5.9" class="o"/><circle cx="1527.4" cy="1624.5" r="5.9" class="o"/><circle cx="1544.2" cy="1631.8" r="5.9" class="o"/><circle cx="1548.1" cy="1635.7" r="5.9" class="o"/><circle cx="1570.4" cy="1632.4" r="5.9" class="o"/><circle cx="1543.2" cy="1644.6" r="5.9" class="o"/><circle cx="1527.4" cy="1657" r="5.9" class="o"/><circle cx="1532.4" cy="1665.3" r="5.9" class="o"/><circle cx="1529.4" cy="1672.6" r="5.9" class="o"/><circle cx="1548.1" cy="1660" r="5.9" class="o"/><circle cx="1573.2" cy="1662.3" r="5.9" class="o"/><circle cx="1559.6" cy="1669.2" r="5.9" class="o"/><circle cx="1560.9" cy="1674.1" r="5.9" class="o"/><circle cx="1517.6" cy="1690.9" r="5.9" class="o"/><circle cx="1536.9" cy="1690.3" r="5.9" class="o"/><circle cx="1562.9" cy="1693.8" r="5.9" class="o"/><circle cx="1571.8" cy="1696.4" r="5.9" class="o"/><circle cx="1568.8" cy="1701.7" r="5.9" class="o"/><circle cx="1550.5" cy="1704.1" r="5.9" class="o"/><circle cx="1509.7" cy="1712" r="5.9" class="o"/><circle cx="1502.2" cy="1742.5" r="5.9" class="o"/><circle cx="1322.5" cy="1668.6" r="5.9" class="o"/><circle cx="1332.8" cy="1697.4" r="5.9" class="o"/><circle cx="1305.8" cy="1718.1" r="5.9" class="o"/><circle cx="1292.4" cy="1728.3" r="5.9" class="o"/><circle cx="1326.5" cy="1734.8" r="5.9" class="o"/><circle cx="1314.2" cy="1749.4" r="5.9" class="o"/><circle cx="1369.4" cy="1750" r="5.9" class="o"/><circle cx="1423.4" cy="1744.7" r="5.9" class="o"/><circle cx="1396" cy="1769.2" r="5.9" class="o"/><circle cx="1395" cy="1783" r="5.9" class="o"/><circle cx="1347.1" cy="1789.7" r="5.9" class="o"/><circle cx="1327" cy="1807" r="5.9" class="o"/><circle cx="1375.3" cy="1811.9" r="5.9" class="o"/><circle cx="1363.5" cy="1917" r="5.9" class="o"/></g>
<line x1="1000.5" y1="1714.5" x2="1601.5" y2="1714.5" stroke="#000" stroke-width="3"/>
<rect x="1010.6" y="1865.4" width="106.7" height="58.8" rx="2.5" fill="#fff" stroke="#cccccc" stroke-width="1"/>
<circle cx="1037.1" cy="1881.2" r="6.0" class="b"/>
<text x="1072.1" y="1886.5" font-size="18.5" text-anchor="start" textLength="38" lengthAdjust="spacingAndGlyphs">walk</text>
<circle cx="1037.1" cy="1908.4" r="6.0" class="o"/>
<text x="1072.1" y="1913.2" font-size="18.5" text-anchor="start" textLength="25.8" lengthAdjust="spacingAndGlyphs">run</text>
<text x="1572.8" y="1621.9" font-size="19" text-anchor="end" textLength="173.4" lengthAdjust="spacingAndGlyphs">97.5-percentile: 3.93</text>
<text x="1576.7" y="1729.7" font-size="19" text-anchor="end" textLength="119.6" lengthAdjust="spacingAndGlyphs">median: −1.09</text>
<text x="1576.7" y="1814.9" font-size="19" text-anchor="end" textLength="172.8" lengthAdjust="spacingAndGlyphs">2.5-percentile: −7.07</text>
<line x1="1000.5" y1="1558.8" x2="1600.3" y2="1558.8" stroke="#d9d9d9" stroke-width="1" stroke-linecap="square"/>
<line x1="1000.5" y1="1934.2" x2="1600.3" y2="1934.2" stroke="#444" stroke-width="1" stroke-linecap="square"/>
<line x1="1000.5" y1="1558.8" x2="1000.5" y2="1934.2" stroke="#444" stroke-width="1" stroke-linecap="square"/>
<line x1="1600.3" y1="1558.8" x2="1600.3" y2="1934.2" stroke="#444" stroke-width="1" stroke-linecap="square"/>
<line x1="1615.5" y1="1558.8" x2="1754.6" y2="1558.8" stroke="#d9d9d9" stroke-width="1" stroke-linecap="square"/>
<line x1="1615.5" y1="1934.2" x2="1754.6" y2="1934.2" stroke="#444" stroke-width="1" stroke-linecap="square"/>
<line x1="1615.5" y1="1558.8" x2="1615.5" y2="1934.2" stroke="#444" stroke-width="1" stroke-linecap="square"/>
<line x1="1754.6" y1="1558.8" x2="1754.6" y2="1934.2" stroke="#d9d9d9" stroke-width="1" stroke-linecap="square"/>
<line x1="1045.7" y1="1934.2" x2="1045.7" y2="1938" stroke="#222" stroke-width="1.1"/>
<text x="1045.7" y="1954.7" font-size="19.5" text-anchor="middle">−35</text>
<line x1="1113.1" y1="1934.2" x2="1113.1" y2="1938" stroke="#222" stroke-width="1.1"/>
<text x="1113.1" y="1954.7" font-size="19.5" text-anchor="middle">−30</text>
<line x1="1180.5" y1="1934.2" x2="1180.5" y2="1938" stroke="#222" stroke-width="1.1"/>
<text x="1180.5" y="1954.7" font-size="19.5" text-anchor="middle">−25</text>
<line x1="1247.9" y1="1934.2" x2="1247.9" y2="1938" stroke="#222" stroke-width="1.1"/>
<text x="1247.9" y="1954.7" font-size="19.5" text-anchor="middle">−20</text>
<line x1="1315.3" y1="1934.2" x2="1315.3" y2="1938" stroke="#222" stroke-width="1.1"/>
<text x="1315.3" y="1954.7" font-size="19.5" text-anchor="middle">−15</text>
<line x1="1382.7" y1="1934.2" x2="1382.7" y2="1938" stroke="#222" stroke-width="1.1"/>
<text x="1382.7" y="1954.7" font-size="19.5" text-anchor="middle">−10</text>
<line x1="1450.1" y1="1934.2" x2="1450.1" y2="1938" stroke="#222" stroke-width="1.1"/>
<text x="1450.1" y="1954.7" font-size="19.5" text-anchor="middle">−5</text>
<line x1="1517.5" y1="1934.2" x2="1517.5" y2="1938" stroke="#222" stroke-width="1.1"/>
<text x="1517.5" y="1954.7" font-size="19.5" text-anchor="middle">0</text>
<line x1="1584.9" y1="1934.2" x2="1584.9" y2="1938" stroke="#222" stroke-width="1.1"/>
<text x="1584.9" y="1954.7" font-size="19.5" text-anchor="middle">5</text>
<line x1="996.7" y1="1563.25" x2="1000.5" y2="1563.25" stroke="#222" stroke-width="1.1"/>
<text x="993.6" y="1570.23" font-size="19.5" text-anchor="end">7.5</text>
<line x1="996.7" y1="1607.3" x2="1000.5" y2="1607.3" stroke="#222" stroke-width="1.1"/>
<text x="993.6" y="1614.28" font-size="19.5" text-anchor="end">5.0</text>
<line x1="996.7" y1="1651.35" x2="1000.5" y2="1651.35" stroke="#222" stroke-width="1.1"/>
<text x="993.6" y="1658.33" font-size="19.5" text-anchor="end">2.5</text>
<line x1="996.7" y1="1695.4" x2="1000.5" y2="1695.4" stroke="#222" stroke-width="1.1"/>
<text x="993.6" y="1702.38" font-size="19.5" text-anchor="end">0.0</text>
<line x1="996.7" y1="1739.45" x2="1000.5" y2="1739.45" stroke="#222" stroke-width="1.1"/>
<text x="993.6" y="1746.43" font-size="19.5" text-anchor="end">−2.5</text>
<line x1="996.7" y1="1783.5" x2="1000.5" y2="1783.5" stroke="#222" stroke-width="1.1"/>
<text x="993.6" y="1790.48" font-size="19.5" text-anchor="end">−5.0</text>
<line x1="996.7" y1="1827.55" x2="1000.5" y2="1827.55" stroke="#222" stroke-width="1.1"/>
<text x="993.6" y="1834.53" font-size="19.5" text-anchor="end">−7.5</text>
<line x1="996.7" y1="1871.6" x2="1000.5" y2="1871.6" stroke="#222" stroke-width="1.1"/>
<text x="993.6" y="1878.58" font-size="19.5" text-anchor="end">−10.0</text>
<line x1="996.7" y1="1915.65" x2="1000.5" y2="1915.65" stroke="#222" stroke-width="1.1"/>
<text x="993.6" y="1922.63" font-size="19.5" text-anchor="end">−12.5</text>
<line x1="1615.5" y1="1934.2" x2="1615.5" y2="1938" stroke="#222" stroke-width="1.1"/>
<text x="1615.5" y="1954.7" font-size="19.5" text-anchor="middle">0</text>
<line x1="1654.5" y1="1934.2" x2="1654.5" y2="1938" stroke="#222" stroke-width="1.1"/>
<text x="1654.5" y="1954.7" font-size="19.5" text-anchor="middle">5</text>
<line x1="1693.5" y1="1934.2" x2="1693.5" y2="1938" stroke="#222" stroke-width="1.1"/>
<text x="1693.5" y="1954.7" font-size="19.5" text-anchor="middle">10</text>
<line x1="1732.5" y1="1934.2" x2="1732.5" y2="1938" stroke="#222" stroke-width="1.1"/>
<text x="1732.5" y="1954.7" font-size="19.5" text-anchor="middle">15</text>
<text x="921.6" y="1537.9" font-size="26" text-anchor="start">(h)</text>
<text x="1192" y="1548.3" font-size="34.3" text-anchor="start" textLength="208.1" lengthAdjust="spacingAndGlyphs" style="stroke-width:0.75px">Sagittal angle</text>
<text x="1401" y="1548.3" font-size="11" text-anchor="start" textLength="16.4" lengthAdjust="spacingAndGlyphs">IC</text>
<text x="1430.9" y="1548.3" font-size="34.3" text-anchor="start" textLength="128.1" lengthAdjust="spacingAndGlyphs" style="stroke-width:0.75px">(degree)</text>
<text x="1099.4" y="1976.6" font-size="21" text-anchor="start" textLength="300.7" lengthAdjust="spacingAndGlyphs">Mean of methods: Sagittal angle</text>
<text x="1400.8" y="1976.6" font-size="8" text-anchor="start" textLength="10.2" lengthAdjust="spacingAndGlyphs">IC</text>
<text x="1423.4" y="1976.6" font-size="21" text-anchor="start" textLength="75.6" lengthAdjust="spacingAndGlyphs">(degree)</text>
<text x="1635.6" y="1976.6" font-size="21" text-anchor="start" textLength="98.6" lengthAdjust="spacingAndGlyphs">Frequency</text>
<text x="0" y="0" font-size="21" text-anchor="middle" transform="translate(939,1746.4) rotate(-90)" textLength="214" lengthAdjust="spacingAndGlyphs">Difference (MS − OMC)</text>
<line x1="137.3" y1="2059.2" x2="137.3" y2="2435" stroke="#cdcdcd" stroke-width="0.9" stroke-dasharray="4.4,3.0"/>
<line x1="206.69" y1="2059.2" x2="206.69" y2="2435" stroke="#cdcdcd" stroke-width="0.9" stroke-dasharray="4.4,3.0"/>
<line x1="276.08" y1="2059.2" x2="276.08" y2="2435" stroke="#cdcdcd" stroke-width="0.9" stroke-dasharray="4.4,3.0"/>
<line x1="345.46" y1="2059.2" x2="345.46" y2="2435" stroke="#cdcdcd" stroke-width="0.9" stroke-dasharray="4.4,3.0"/>
<line x1="414.85" y1="2059.2" x2="414.85" y2="2435" stroke="#cdcdcd" stroke-width="0.9" stroke-dasharray="4.4,3.0"/>
<line x1="484.24" y1="2059.2" x2="484.24" y2="2435" stroke="#cdcdcd" stroke-width="0.9" stroke-dasharray="4.4,3.0"/>
<line x1="553.62" y1="2059.2" x2="553.62" y2="2435" stroke="#cdcdcd" stroke-width="0.9" stroke-dasharray="4.4,3.0"/>
<line x1="623.01" y1="2059.2" x2="623.01" y2="2435" stroke="#cdcdcd" stroke-width="0.9" stroke-dasharray="4.4,3.0"/>
<line x1="692.4" y1="2059.2" x2="692.4" y2="2435" stroke="#cdcdcd" stroke-width="0.9" stroke-dasharray="4.4,3.0"/>
<line x1="100.5" y1="2104.41" x2="704.1" y2="2104.41" stroke="#cdcdcd" stroke-width="0.9" stroke-dasharray="4.4,3.0"/>
<line x1="726.6" y1="2104.41" x2="860.5" y2="2104.41" stroke="#cdcdcd" stroke-width="0.9" stroke-dasharray="4.4,3.0"/>
<line x1="100.5" y1="2153.07" x2="704.1" y2="2153.07" stroke="#cdcdcd" stroke-width="0.9" stroke-dasharray="4.4,3.0"/>
<line x1="726.6" y1="2153.07" x2="860.5" y2="2153.07" stroke="#cdcdcd" stroke-width="0.9" stroke-dasharray="4.4,3.0"/>
<line x1="100.5" y1="2201.74" x2="704.1" y2="2201.74" stroke="#cdcdcd" stroke-width="0.9" stroke-dasharray="4.4,3.0"/>
<line x1="726.6" y1="2201.74" x2="860.5" y2="2201.74" stroke="#cdcdcd" stroke-width="0.9" stroke-dasharray="4.4,3.0"/>
<line x1="100.5" y1="2250.4" x2="704.1" y2="2250.4" stroke="#cdcdcd" stroke-width="0.9" stroke-dasharray="4.4,3.0"/>
<line x1="726.6" y1="2250.4" x2="860.5" y2="2250.4" stroke="#cdcdcd" stroke-width="0.9" stroke-dasharray="4.4,3.0"/>
<line x1="100.5" y1="2299.07" x2="704.1" y2="2299.07" stroke="#cdcdcd" stroke-width="0.9" stroke-dasharray="4.4,3.0"/>
<line x1="726.6" y1="2299.07" x2="860.5" y2="2299.07" stroke="#cdcdcd" stroke-width="0.9" stroke-dasharray="4.4,3.0"/>
<line x1="100.5" y1="2347.73" x2="704.1" y2="2347.73" stroke="#cdcdcd" stroke-width="0.9" stroke-dasharray="4.4,3.0"/>
<line x1="726.6" y1="2347.73" x2="860.5" y2="2347.73" stroke="#cdcdcd" stroke-width="0.9" stroke-dasharray="4.4,3.0"/>
<line x1="100.5" y1="2396.39" x2="704.1" y2="2396.39" stroke="#cdcdcd" stroke-width="0.9" stroke-dasharray="4.4,3.0"/>
<line x1="726.6" y1="2396.39" x2="860.5" y2="2396.39" stroke="#cdcdcd" stroke-width="0.9" stroke-dasharray="4.4,3.0"/>
<path d="M726.6 2076.3h4.8V2089.6H726.6ZM726.6 2117.3h4.8V2131.1H726.6ZM726.6 2131.1h8.3V2171.1H726.6ZM726.6 2171.1h24.4V2185.8H726.6ZM726.6 2185.8h20.3V2199.1H726.6ZM726.6 2199.1h36.2V2226H726.6ZM726.6 2226h92.3V2240.1H726.6ZM726.6 2240.1h111.4V2254.2H726.6ZM726.6 2254.2h127.8V2267.9H726.6ZM726.6 2267.9h28V2281.8H726.6ZM726.6 2281.8h12.2V2294.9H726.6ZM726.6 2294.9h4.8V2308.7H726.6ZM726.6 2404h4.8V2417.9H726.6Z" fill="#a6a6a6"/>
<line x1="100.5" y1="2250.4" x2="704.1" y2="2250.4" stroke="#333" stroke-width="1"/>
<line x1="100.5" y1="2143" x2="704.1" y2="2143" stroke="#000" stroke-width="1.7" stroke-dasharray="4.2,2.4"/>
<line x1="100.5" y1="2284.6" x2="704.1" y2="2284.6" stroke="#000" stroke-width="1.7" stroke-dasharray="4.2,2.4"/>
<g><circle cx="211.6" cy="2200.2" r="5.9" class="b"/><circle cx="273.6" cy="2212.2" r="5.9" class="b"/><circle cx="254.5" cy="2224.3" r="5.9" class="b"/><circle cx="217.3" cy="2234.8" r="5.9" class="b"/><circle cx="127.7" cy="2264.6" r="5.9" class="b"/><circle cx="149.3" cy="2256.6" r="5.9" class="b"/><circle cx="178.6" cy="2270.1" r="5.9" class="b"/><circle cx="189.3" cy="2252.9" r="5.9" class="b"/><circle cx="192.1" cy="2264" r="5.9" class="b"/><circle cx="200.4" cy="2251.4" r="5.9" class="b"/><circle cx="208.4" cy="2250.4" r="5.9" class="b"/><circle cx="207.1" cy="2256" r="5.9" class="b"/><circle cx="210.8" cy="2255.3" r="5.9" class="b"/><circle cx="213.3" cy="2257.2" r="5.9" class="b"/><circle cx="217.6" cy="2268.3" r="5.9" class="b"/><circle cx="209" cy="2276.9" r="5.9" class="b"/><circle cx="245.1" cy="2258.4" r="5.9" class="b"/><circle cx="255.4" cy="2259.7" r="5.9" class="b"/><circle cx="263.8" cy="2255.3" r="5.9" class="b"/><circle cx="268.7" cy="2245.5" r="5.9" class="b"/><circle cx="276.7" cy="2240.6" r="5.9" class="b"/><circle cx="275.5" cy="2268.9" r="5.9" class="b"/><circle cx="283.5" cy="2265.8" r="5.9" class="b"/><circle cx="284.1" cy="2252.3" r="5.9" class="b"/><circle cx="289.7" cy="2284.7" r="5.9" class="b"/><circle cx="296.4" cy="2272" r="5.9" class="b"/><circle cx="299.5" cy="2257.2" r="5.9" class="b"/><circle cx="303.5" cy="2244.2" r="5.9" class="b"/><circle cx="304.2" cy="2257.5" r="5.9" class="b"/><circle cx="310.3" cy="2265.7" r="5.9" class="b"/><circle cx="318.9" cy="2273.1" r="5.9" class="b"/><circle cx="314.6" cy="2250.1" r="5.9" class="b"/><circle cx="322" cy="2250.3" r="5.9" class="b"/><circle cx="330" cy="2232.5" r="5.9" class="b"/><circle cx="335" cy="2262.4" r="5.9" class="b"/><circle cx="339.3" cy="2260.2" r="5.9" class="b"/><circle cx="357.1" cy="2257.5" r="5.9" class="b"/><circle cx="364.5" cy="2259" r="5.9" class="b"/><circle cx="386.7" cy="2236.8" r="5.9" class="b"/><circle cx="375" cy="2247.9" r="5.9" class="b"/><circle cx="386.1" cy="2250.3" r="5.9" class="b"/><circle cx="386.1" cy="2262.7" r="5.9" class="b"/><circle cx="395.3" cy="2263.6" r="5.9" class="b"/><circle cx="377.4" cy="2274.4" r="5.9" class="b"/><circle cx="420.5" cy="2239.3" r="5.9" class="b"/><circle cx="415.6" cy="2263.6" r="5.9" class="b"/><circle cx="421.8" cy="2283.6" r="5.9" class="b"/><circle cx="337.4" cy="2303.3" r="5.9" class="b"/><circle cx="574.7" cy="2417.7" r="5.9" class="b"/><circle cx="420" cy="2242" r="5.9" class="b"/><circle cx="348.3" cy="2145.4" r="5.9" class="o"/><circle cx="324.2" cy="2185" r="5.9" class="o"/><circle cx="374.8" cy="2182.1" r="5.9" class="o"/><circle cx="393.9" cy="2199.3" r="5.9" class="o"/><circle cx="223.8" cy="2245.5" r="5.9" class="o"/><circle cx="236.1" cy="2250.4" r="5.9" class="o"/><circle cx="274.9" cy="2259" r="5.9" class="o"/><circle cx="284.7" cy="2255.1" r="5.9" class="o"/><circle cx="285.3" cy="2231.3" r="5.9" class="o"/><circle cx="296.4" cy="2226.4" r="5.9" class="o"/><circle cx="297" cy="2234.4" r="5.9" class="o"/><circle cx="290.3" cy="2240" r="5.9" class="o"/><circle cx="298.6" cy="2234.3" r="5.9" class="o"/><circle cx="291.2" cy="2241.7" r="5.9" class="o"/><circle cx="318.3" cy="2230.6" r="5.9" class="o"/><circle cx="324.5" cy="2225.1" r="5.9" class="o"/><circle cx="314.6" cy="2235.6" r="5.9" class="o"/><circle cx="311.6" cy="2240.5" r="5.9" class="o"/><circle cx="317.7" cy="2240.5" r="5.9" class="o"/><circle cx="334.3" cy="2230.6" r="5.9" class="o"/><circle cx="337.4" cy="2235.6" r="5.9" class="o"/><circle cx="333.1" cy="2247.3" r="5.9" class="o"/><circle cx="342.3" cy="2244.2" r="5.9" class="o"/><circle cx="351" cy="2235" r="5.9" class="o"/><circle cx="352.8" cy="2234.3" r="5.9" class="o"/><circle cx="371.3" cy="2235.6" r="5.9" class="o"/><circle cx="382.4" cy="2243" r="5.9" class="o"/><circle cx="377.4" cy="2255.9" r="5.9" class="o"/><circle cx="380.5" cy="2262.7" r="5.9" class="o"/><circle cx="401.5" cy="2215.9" r="5.9" class="o"/><circle cx="413.2" cy="2210.9" r="5.9" class="o"/><circle cx="415" cy="2216.5" r="5.9" class="o"/><circle cx="409.5" cy="2223.3" r="5.9" class="o"/><circle cx="402.7" cy="2230" r="5.9" class="o"/><circle cx="400.8" cy="2234.3" r="5.9" class="o"/><circle cx="413.2" cy="2238" r="5.9" class="o"/><circle cx="431.6" cy="2241.7" r="5.9" class="o"/><circle cx="439.6" cy="2244.2" r="5.9" class="o"/><circle cx="445.2" cy="2246.7" r="5.9" class="o"/><circle cx="421.2" cy="2257.7" r="5.9" class="o"/><circle cx="426.1" cy="2265.7" r="5.9" class="o"/><circle cx="443.9" cy="2220.2" r="5.9" class="o"/><circle cx="453.2" cy="2222.3" r="5.9" class="o"/><circle cx="462.4" cy="2232.9" r="5.9" class="o"/><circle cx="444.6" cy="2261.2" r="5.9" class="o"/><circle cx="469.2" cy="2250.6" r="5.9" class="o"/><circle cx="481.9" cy="2227.2" r="5.9" class="o"/><circle cx="485.2" cy="2252.2" r="5.9" class="o"/><circle cx="486.4" cy="2202.9" r="5.9" class="o"/><circle cx="468.6" cy="2287.3" r="5.9" class="o"/><circle cx="504.6" cy="2076.1" r="5.9" class="o"/><circle cx="593.2" cy="2126.4" r="5.9" class="o"/><circle cx="562.2" cy="2139.7" r="5.9" class="o"/><circle cx="473.5" cy="2142.2" r="5.9" class="o"/><circle cx="547.5" cy="2159.2" r="5.9" class="o"/><circle cx="559.4" cy="2155.9" r="5.9" class="o"/><circle cx="483" cy="2173.1" r="5.9" class="o"/><circle cx="497.3" cy="2168.3" r="5.9" class="o"/><circle cx="501.7" cy="2179.8" r="5.9" class="o"/><circle cx="458.2" cy="2188.4" r="5.9" class="o"/><circle cx="580" cy="2178.3" r="5.9" class="o"/><circle cx="619.5" cy="2191.2" r="5.9" class="o"/><circle cx="620.5" cy="2194.5" r="5.9" class="o"/><circle cx="639.2" cy="2185.1" r="5.9" class="o"/><circle cx="649.5" cy="2175.4" r="5.9" class="o"/><circle cx="495.4" cy="2195.6" r="5.9" class="o"/><circle cx="502.1" cy="2200.4" r="5.9" class="o"/><circle cx="514.5" cy="2211.3" r="5.9" class="o"/><circle cx="554.6" cy="2202.7" r="5.9" class="o"/><circle cx="549.8" cy="2217.4" r="5.9" class="o"/><circle cx="657.7" cy="2209.8" r="5.9" class="o"/><circle cx="676.2" cy="2213.8" r="5.9" class="o"/><circle cx="548.9" cy="2241.8" r="5.9" class="o"/><circle cx="589.9" cy="2241.4" r="5.9" class="o"/><circle cx="610.9" cy="2239.9" r="5.9" class="o"/><circle cx="519.9" cy="2255.2" r="5.9" class="o"/><circle cx="517.4" cy="2258.1" r="5.9" class="o"/><circle cx="549.8" cy="2256.5" r="5.9" class="o"/><circle cx="516.8" cy="2262.1" r="5.9" class="o"/></g>
<line x1="100.5" y1="2241.8" x2="705.3" y2="2241.8" stroke="#000" stroke-width="3"/>
<rect x="110.4" y="2069.1" width="106" height="59.2" rx="2.5" fill="#fff" stroke="#cccccc" stroke-width="1"/>
<circle cx="136.4" cy="2084.9" r="6.0" class="b"/>
<text x="171.5" y="2090.2" font-size="18.5" text-anchor="start" textLength="38" lengthAdjust="spacingAndGlyphs">walk</text>
<circle cx="136.4" cy="2112" r="6.0" class="o"/>
<text x="171.5" y="2117.3" font-size="18.5" text-anchor="start" textLength="25.8" lengthAdjust="spacingAndGlyphs">run</text>
<text x="675.8" y="2138.2" font-size="19" text-anchor="end" textLength="182.3" lengthAdjust="spacingAndGlyphs">97.5-percentile: 11.05</text>
<text x="675.8" y="2238" font-size="19" text-anchor="end" textLength="109.2" lengthAdjust="spacingAndGlyphs">median: 0.85</text>
<text x="680.4" y="2301.5" font-size="19" text-anchor="end" textLength="173.5" lengthAdjust="spacingAndGlyphs">2.5-percentile: −3.42</text>
<line x1="100.5" y1="2059.2" x2="704.1" y2="2059.2" stroke="#444" stroke-width="1" stroke-linecap="square"/>
<line x1="100.5" y1="2435" x2="704.1" y2="2435" stroke="#444" stroke-width="1" stroke-linecap="square"/>
<line x1="100.5" y1="2059.2" x2="100.5" y2="2435" stroke="#444" stroke-width="1" stroke-linecap="square"/>
<line x1="704.1" y1="2059.2" x2="704.1" y2="2435" stroke="#444" stroke-width="1" stroke-linecap="square"/>
<line x1="726.6" y1="2059.2" x2="860.5" y2="2059.2" stroke="#444" stroke-width="1" stroke-linecap="square"/>
<line x1="726.6" y1="2435" x2="860.5" y2="2435" stroke="#444" stroke-width="1" stroke-linecap="square"/>
<line x1="726.6" y1="2059.2" x2="726.6" y2="2435" stroke="#d9d9d9" stroke-width="1" stroke-linecap="square"/>
<line x1="860.5" y1="2059.2" x2="860.5" y2="2435" stroke="#444" stroke-width="1" stroke-linecap="square"/>
<line x1="137.3" y1="2435" x2="137.3" y2="2438.8" stroke="#222" stroke-width="1.1"/>
<text x="137.3" y="2454.9" font-size="19.5" text-anchor="middle">0.0</text>
<line x1="206.69" y1="2435" x2="206.69" y2="2438.8" stroke="#222" stroke-width="1.1"/>
<text x="206.69" y="2454.9" font-size="19.5" text-anchor="middle">2.5</text>
<line x1="276.08" y1="2435" x2="276.08" y2="2438.8" stroke="#222" stroke-width="1.1"/>
<text x="276.08" y="2454.9" font-size="19.5" text-anchor="middle">5.0</text>
<line x1="345.46" y1="2435" x2="345.46" y2="2438.8" stroke="#222" stroke-width="1.1"/>
<text x="345.46" y="2454.9" font-size="19.5" text-anchor="middle">7.5</text>
<line x1="414.85" y1="2435" x2="414.85" y2="2438.8" stroke="#222" stroke-width="1.1"/>
<text x="414.85" y="2454.9" font-size="19.5" text-anchor="middle">10.0</text>
<line x1="484.24" y1="2435" x2="484.24" y2="2438.8" stroke="#222" stroke-width="1.1"/>
<text x="484.24" y="2454.9" font-size="19.5" text-anchor="middle">12.5</text>
<line x1="553.62" y1="2435" x2="553.62" y2="2438.8" stroke="#222" stroke-width="1.1"/>
<text x="553.62" y="2454.9" font-size="19.5" text-anchor="middle">15.0</text>
<line x1="623.01" y1="2435" x2="623.01" y2="2438.8" stroke="#222" stroke-width="1.1"/>
<text x="623.01" y="2454.9" font-size="19.5" text-anchor="middle">17.5</text>
<line x1="692.4" y1="2435" x2="692.4" y2="2438.8" stroke="#222" stroke-width="1.1"/>
<text x="692.4" y="2454.9" font-size="19.5" text-anchor="middle">20.0</text>
<line x1="96.7" y1="2104.41" x2="100.5" y2="2104.41" stroke="#222" stroke-width="1.1"/>
<text x="93" y="2111.39" font-size="19.5" text-anchor="end">15</text>
<line x1="96.7" y1="2153.07" x2="100.5" y2="2153.07" stroke="#222" stroke-width="1.1"/>
<text x="93" y="2160.05" font-size="19.5" text-anchor="end">10</text>
<line x1="96.7" y1="2201.74" x2="100.5" y2="2201.74" stroke="#222" stroke-width="1.1"/>
<text x="93" y="2208.72" font-size="19.5" text-anchor="end">5</text>
<line x1="96.7" y1="2250.4" x2="100.5" y2="2250.4" stroke="#222" stroke-width="1.1"/>
<text x="93" y="2257.38" font-size="19.5" text-anchor="end">0</text>
<line x1="96.7" y1="2299.07" x2="100.5" y2="2299.07" stroke="#222" stroke-width="1.1"/>
<text x="93" y="2306.05" font-size="19.5" text-anchor="end">−5</text>
<line x1="96.7" y1="2347.73" x2="100.5" y2="2347.73" stroke="#222" stroke-width="1.1"/>
<text x="93" y="2354.71" font-size="19.5" text-anchor="end">−10</text>
<line x1="96.7" y1="2396.39" x2="100.5" y2="2396.39" stroke="#222" stroke-width="1.1"/>
<text x="93" y="2403.38" font-size="19.5" text-anchor="end">−15</text>
<line x1="726.6" y1="2435" x2="726.6" y2="2438.8" stroke="#222" stroke-width="1.1"/>
<text x="726.6" y="2454.9" font-size="19.5" text-anchor="middle">0</text>
<line x1="766.5" y1="2435" x2="766.5" y2="2438.8" stroke="#222" stroke-width="1.1"/>
<text x="766.5" y="2454.9" font-size="19.5" text-anchor="middle">10</text>
<line x1="806.4" y1="2435" x2="806.4" y2="2438.8" stroke="#222" stroke-width="1.1"/>
<text x="806.4" y="2454.9" font-size="19.5" text-anchor="middle">20</text>
<line x1="846.3" y1="2435" x2="846.3" y2="2438.8" stroke="#222" stroke-width="1.1"/>
<text x="846.3" y="2454.9" font-size="19.5" text-anchor="middle">30</text>
<text x="28" y="2038.1" font-size="26" text-anchor="start">(i)</text>
<text x="295.3" y="2048.2" font-size="34.3" text-anchor="start" textLength="199.5" lengthAdjust="spacingAndGlyphs" style="stroke-width:0.75px">Frontal angle</text>
<text x="495.7" y="2048.2" font-size="11" text-anchor="start" textLength="16.4" lengthAdjust="spacingAndGlyphs">IC</text>
<text x="529.3" y="2048.2" font-size="34.3" text-anchor="start" textLength="130.2" lengthAdjust="spacingAndGlyphs" style="stroke-width:0.75px">(degree)</text>
<text x="203.2" y="2477.9" font-size="21" text-anchor="start" textLength="296.6" lengthAdjust="spacingAndGlyphs">Mean of methods: Frontal angle</text>
<text x="500.3" y="2477.9" font-size="8" text-anchor="start" textLength="9.3" lengthAdjust="spacingAndGlyphs">IC</text>
<text x="522.3" y="2477.9" font-size="21" text-anchor="start" textLength="79.4" lengthAdjust="spacingAndGlyphs">(degree)</text>
<text x="742.5" y="2477.9" font-size="21" text-anchor="start" textLength="97.5" lengthAdjust="spacingAndGlyphs">Frequency</text>
<text x="0" y="0" font-size="21" text-anchor="middle" transform="translate(45,2247) rotate(-90)" textLength="214" lengthAdjust="spacingAndGlyphs">Difference (MS − OMC)</text>
<line x1="1078.4" y1="2059.1" x2="1078.4" y2="2435.4" stroke="#cdcdcd" stroke-width="0.9" stroke-dasharray="4.4,3.0"/>
<line x1="1211.8" y1="2059.1" x2="1211.8" y2="2435.4" stroke="#cdcdcd" stroke-width="0.9" stroke-dasharray="4.4,3.0"/>
<line x1="1345.2" y1="2059.1" x2="1345.2" y2="2435.4" stroke="#cdcdcd" stroke-width="0.9" stroke-dasharray="4.4,3.0"/>
<line x1="1478.6" y1="2059.1" x2="1478.6" y2="2435.4" stroke="#cdcdcd" stroke-width="0.9" stroke-dasharray="4.4,3.0"/>
<line x1="994.2" y1="2069.4" x2="1595.6" y2="2069.4" stroke="#cdcdcd" stroke-width="0.9" stroke-dasharray="4.4,3.0"/>
<line x1="1611.6" y1="2069.4" x2="1749.6" y2="2069.4" stroke="#cdcdcd" stroke-width="0.9" stroke-dasharray="4.4,3.0"/>
<line x1="994.2" y1="2121.7" x2="1595.6" y2="2121.7" stroke="#cdcdcd" stroke-width="0.9" stroke-dasharray="4.4,3.0"/>
<line x1="1611.6" y1="2121.7" x2="1749.6" y2="2121.7" stroke="#cdcdcd" stroke-width="0.9" stroke-dasharray="4.4,3.0"/>
<line x1="994.2" y1="2174" x2="1595.6" y2="2174" stroke="#cdcdcd" stroke-width="0.9" stroke-dasharray="4.4,3.0"/>
<line x1="1611.6" y1="2174" x2="1749.6" y2="2174" stroke="#cdcdcd" stroke-width="0.9" stroke-dasharray="4.4,3.0"/>
<line x1="994.2" y1="2226.3" x2="1595.6" y2="2226.3" stroke="#cdcdcd" stroke-width="0.9" stroke-dasharray="4.4,3.0"/>
<line x1="1611.6" y1="2226.3" x2="1749.6" y2="2226.3" stroke="#cdcdcd" stroke-width="0.9" stroke-dasharray="4.4,3.0"/>
<line x1="994.2" y1="2278.6" x2="1595.6" y2="2278.6" stroke="#cdcdcd" stroke-width="0.9" stroke-dasharray="4.4,3.0"/>
<line x1="1611.6" y1="2278.6" x2="1749.6" y2="2278.6" stroke="#cdcdcd" stroke-width="0.9" stroke-dasharray="4.4,3.0"/>
<line x1="994.2" y1="2330.9" x2="1595.6" y2="2330.9" stroke="#cdcdcd" stroke-width="0.9" stroke-dasharray="4.4,3.0"/>
<line x1="1611.6" y1="2330.9" x2="1749.6" y2="2330.9" stroke="#cdcdcd" stroke-width="0.9" stroke-dasharray="4.4,3.0"/>
<line x1="994.2" y1="2383.2" x2="1595.6" y2="2383.2" stroke="#cdcdcd" stroke-width="0.9" stroke-dasharray="4.4,3.0"/>
<line x1="1611.6" y1="2383.2" x2="1749.6" y2="2383.2" stroke="#cdcdcd" stroke-width="0.9" stroke-dasharray="4.4,3.0"/>
<path d="M1611.6 2076h6.3V2090.1H1611.6ZM1611.6 2117.6h12.5V2131.7H1611.6ZM1611.6 2145.1h6.3V2171.6H1611.6ZM1611.6 2199.3h6.3V2213.2H1611.6ZM1611.6 2213.2h26.3V2226.8H1611.6ZM1611.6 2226.8h19.2V2240H1611.6ZM1611.6 2240h46.2V2268H1611.6ZM1611.6 2268h92.2V2282.1H1611.6ZM1611.6 2282.1h125.2V2295.7H1611.6ZM1611.6 2295.7h85.7V2309H1611.6ZM1611.6 2309h131.9V2322.8H1611.6ZM1611.6 2322.8h92.2V2336.2H1611.6ZM1611.6 2336.2h79V2349.7H1611.6ZM1611.6 2349.7h52.3V2363.6H1611.6ZM1611.6 2363.6h6.3V2405.1H1611.6ZM1611.6 2405.1h12.5V2418.8H1611.6Z" fill="#a6a6a6"/>
<line x1="994.2" y1="2278.6" x2="1595.6" y2="2278.6" stroke="#333" stroke-width="1"/>
<line x1="994.2" y1="2156.5" x2="1595.6" y2="2156.5" stroke="#000" stroke-width="1.7" stroke-dasharray="4.2,2.4"/>
<line x1="994.2" y1="2378.8" x2="1595.6" y2="2378.8" stroke="#000" stroke-width="1.7" stroke-dasharray="4.2,2.4"/>
<g><circle cx="1021.5" cy="2334.9" r="5.9" class="b"/><circle cx="1043.8" cy="2322.5" r="5.9" class="b"/><circle cx="1053" cy="2317.7" r="5.9" class="b"/><circle cx="1066" cy="2333" r="5.9" class="b"/><circle cx="1050.5" cy="2351.7" r="5.9" class="b"/><circle cx="1088.3" cy="2304.3" r="5.9" class="b"/><circle cx="1103.2" cy="2346.5" r="5.9" class="b"/><circle cx="1113.5" cy="2396.5" r="5.9" class="b"/><circle cx="1122.7" cy="2312.5" r="5.9" class="b"/><circle cx="1136" cy="2323" r="5.9" class="b"/><circle cx="1144.6" cy="2328.8" r="5.9" class="b"/><circle cx="1132.6" cy="2337.9" r="5.9" class="b"/><circle cx="1138.5" cy="2276.6" r="5.9" class="b"/><circle cx="1167.9" cy="2268.1" r="5.9" class="b"/><circle cx="1161.8" cy="2293.8" r="5.9" class="b"/><circle cx="1158.9" cy="2296.3" r="5.9" class="b"/><circle cx="1163.7" cy="2356" r="5.9" class="b"/><circle cx="1147.5" cy="2371.3" r="5.9" class="b"/><circle cx="1187.9" cy="2286.2" r="5.9" class="b"/><circle cx="1181.8" cy="2299.6" r="5.9" class="b"/><circle cx="1193.3" cy="2306.2" r="5.9" class="b"/><circle cx="1221.3" cy="2286.2" r="5.9" class="b"/><circle cx="1230.9" cy="2308.7" r="5.9" class="b"/><circle cx="1215.2" cy="2318.8" r="5.9" class="b"/><circle cx="1233" cy="2325.9" r="5.9" class="b"/><circle cx="1248.3" cy="2344" r="5.9" class="b"/><circle cx="1261.4" cy="2260" r="5.9" class="b"/><circle cx="1271" cy="2262.9" r="5.9" class="b"/><circle cx="1257.2" cy="2289.2" r="5.9" class="b"/><circle cx="1255.7" cy="2295.4" r="5.9" class="b"/><circle cx="1264.3" cy="2293.8" r="5.9" class="b"/><circle cx="1275.7" cy="2284.9" r="5.9" class="b"/><circle cx="1278.6" cy="2301.5" r="5.9" class="b"/><circle cx="1284" cy="2327.2" r="5.9" class="b"/><circle cx="1141" cy="2276.7" r="5.9" class="b"/><circle cx="1324.5" cy="2276.5" r="5.9" class="b"/><circle cx="1386.6" cy="2265.6" r="5.9" class="b"/><circle cx="1441.7" cy="2272.1" r="5.9" class="b"/><circle cx="1373.7" cy="2293.6" r="5.9" class="b"/><circle cx="1408.2" cy="2285.3" r="5.9" class="b"/><circle cx="1415.1" cy="2289.3" r="5.9" class="b"/><circle cx="1406.3" cy="2302.7" r="5.9" class="b"/><circle cx="1464.4" cy="2289.7" r="5.9" class="b"/><circle cx="1487" cy="2290.8" r="5.9" class="b"/><circle cx="1520.9" cy="2293.6" r="5.9" class="b"/><circle cx="1529.4" cy="2314.9" r="5.9" class="b"/><circle cx="1359" cy="2307.6" r="5.9" class="b"/><circle cx="1304.8" cy="2311.9" r="5.9" class="b"/><circle cx="1305.8" cy="2313.9" r="5.9" class="b"/><circle cx="1316.6" cy="2308" r="5.9" class="b"/><circle cx="1317.6" cy="2316.8" r="5.9" class="b"/><circle cx="1341.2" cy="2312.9" r="5.9" class="b"/><circle cx="1408.2" cy="2325.1" r="5.9" class="b"/><circle cx="1420" cy="2333.6" r="5.9" class="b"/><circle cx="1336.7" cy="2354.7" r="5.9" class="b"/><circle cx="1263" cy="2117.8" r="5.9" class="o"/><circle cx="1276.3" cy="2202.1" r="5.9" class="o"/><circle cx="1240.4" cy="2215.5" r="5.9" class="o"/><circle cx="1232.4" cy="2243.4" r="5.9" class="o"/><circle cx="1175.5" cy="2246" r="5.9" class="o"/><circle cx="1296.7" cy="2213.8" r="5.9" class="o"/><circle cx="1296.7" cy="2226.6" r="5.9" class="o"/><circle cx="1152.8" cy="2262.9" r="5.9" class="o"/><circle cx="1212.8" cy="2259.1" r="5.9" class="o"/><circle cx="1237.2" cy="2264.2" r="5.9" class="o"/><circle cx="1221.9" cy="2274.4" r="5.9" class="o"/><circle cx="1231.5" cy="2290" r="5.9" class="o"/><circle cx="1181.8" cy="2296.9" r="5.9" class="o"/><circle cx="1281.1" cy="2256.2" r="5.9" class="o"/><circle cx="1269.1" cy="2270" r="5.9" class="o"/><circle cx="1277.8" cy="2270.5" r="5.9" class="o"/><circle cx="1291.6" cy="2270" r="5.9" class="o"/><circle cx="1287.8" cy="2334.9" r="5.9" class="o"/><circle cx="1298.3" cy="2353.2" r="5.9" class="o"/><circle cx="1568.2" cy="2076.2" r="5.9" class="o"/><circle cx="1522.5" cy="2127.8" r="5.9" class="o"/><circle cx="1429.5" cy="2153.4" r="5.9" class="o"/><circle cx="1426" cy="2163.9" r="5.9" class="o"/><circle cx="1347.5" cy="2217.1" r="5.9" class="o"/><circle cx="1464.4" cy="2223" r="5.9" class="o"/><circle cx="1458.5" cy="2237.8" r="5.9" class="o"/><circle cx="1324.5" cy="2244.1" r="5.9" class="o"/><circle cx="1334.3" cy="2249.6" r="5.9" class="o"/><circle cx="1353.1" cy="2246.1" r="5.9" class="o"/><circle cx="1378.1" cy="2239.6" r="5.9" class="o"/><circle cx="1390.9" cy="2244.7" r="5.9" class="o"/><circle cx="1400.3" cy="2251" r="5.9" class="o"/><circle cx="1306.7" cy="2271.5" r="5.9" class="o"/><circle cx="1319.6" cy="2280" r="5.9" class="o"/><circle cx="1327.4" cy="2288.3" r="5.9" class="o"/><circle cx="1354" cy="2270" r="5.9" class="o"/><circle cx="1390.1" cy="2297.1" r="5.9" class="o"/><circle cx="1403.3" cy="2290.2" r="5.9" class="o"/><circle cx="1421" cy="2291.6" r="5.9" class="o"/><circle cx="1426" cy="2287.3" r="5.9" class="o"/><circle cx="1429.3" cy="2279.4" r="5.9" class="o"/><circle cx="1440.3" cy="2284.9" r="5.9" class="o"/><circle cx="1448.6" cy="2297.1" r="5.9" class="o"/><circle cx="1464.4" cy="2274.5" r="5.9" class="o"/><circle cx="1484.7" cy="2271.5" r="5.9" class="o"/><circle cx="1435.8" cy="2308.4" r="5.9" class="o"/><circle cx="1321.5" cy="2310" r="5.9" class="o"/><circle cx="1327.4" cy="2310.5" r="5.9" class="o"/><circle cx="1339.3" cy="2310.5" r="5.9" class="o"/><circle cx="1349.1" cy="2312.9" r="5.9" class="o"/><circle cx="1351.1" cy="2313.3" r="5.9" class="o"/><circle cx="1368.8" cy="2312.9" r="5.9" class="o"/><circle cx="1368.8" cy="2314.9" r="5.9" class="o"/><circle cx="1368.8" cy="2325.1" r="5.9" class="o"/><circle cx="1349.1" cy="2328.1" r="5.9" class="o"/><circle cx="1326.5" cy="2334" r="5.9" class="o"/><circle cx="1329.4" cy="2335.6" r="5.9" class="o"/><circle cx="1339.9" cy="2339.5" r="5.9" class="o"/><circle cx="1367.8" cy="2340.5" r="5.9" class="o"/><circle cx="1370.8" cy="2341.5" r="5.9" class="o"/><circle cx="1349.1" cy="2347.4" r="5.9" class="o"/><circle cx="1353.1" cy="2347.4" r="5.9" class="o"/><circle cx="1350.1" cy="2352.3" r="5.9" class="o"/><circle cx="1322.9" cy="2348.4" r="5.9" class="o"/><circle cx="1299.9" cy="2353.3" r="5.9" class="o"/><circle cx="1312.1" cy="2357.8" r="5.9" class="o"/><circle cx="1367.8" cy="2355.9" r="5.9" class="o"/><circle cx="1395.8" cy="2328.7" r="5.9" class="o"/><circle cx="1419.1" cy="2316.8" r="5.9" class="o"/><circle cx="1426" cy="2320.2" r="5.9" class="o"/><circle cx="1443.7" cy="2320.4" r="5.9" class="o"/><circle cx="1406.8" cy="2345.8" r="5.9" class="o"/><circle cx="1426" cy="2351.3" r="5.9" class="o"/><circle cx="1470.9" cy="2346.4" r="5.9" class="o"/><circle cx="1480.1" cy="2336.6" r="5.9" class="o"/><circle cx="1360" cy="2380.9" r="5.9" class="o"/><circle cx="1419.1" cy="2408.9" r="5.9" class="o"/><circle cx="1421" cy="2418.3" r="5.9" class="o"/></g>
<line x1="994.2" y1="2301.7" x2="1596.8" y2="2301.7" stroke="#000" stroke-width="3"/>
<rect x="1003.9" y="2069.1" width="106.4" height="59.2" rx="2.5" fill="#fff" stroke="#cccccc" stroke-width="1"/>
<circle cx="1030.5" cy="2085.3" r="6.0" class="b"/>
<text x="1065.4" y="2090.6" font-size="18.5" text-anchor="start" textLength="38" lengthAdjust="spacingAndGlyphs">walk</text>
<circle cx="1030.5" cy="2112.2" r="6.0" class="o"/>
<text x="1065.4" y="2117.3" font-size="18.5" text-anchor="start" textLength="25.8" lengthAdjust="spacingAndGlyphs">run</text>
<text x="1567.8" y="2152.9" font-size="19" text-anchor="end" textLength="182.6" lengthAdjust="spacingAndGlyphs">97.5-percentile: 11.60</text>
<text x="1572.2" y="2317.8" font-size="19" text-anchor="end" textLength="120.6" lengthAdjust="spacingAndGlyphs">median: −2.25</text>
<text x="1572.2" y="2374.6" font-size="19" text-anchor="end" textLength="173.8" lengthAdjust="spacingAndGlyphs">2.5-percentile: −9.57</text>
<line x1="994.2" y1="2059.1" x2="1595.6" y2="2059.1" stroke="#444" stroke-width="1" stroke-linecap="square"/>
<line x1="994.2" y1="2435.4" x2="1595.6" y2="2435.4" stroke="#444" stroke-width="1" stroke-linecap="square"/>
<line x1="994.2" y1="2059.1" x2="994.2" y2="2435.4" stroke="#444" stroke-width="1" stroke-linecap="square"/>
<line x1="1595.6" y1="2059.1" x2="1595.6" y2="2435.4" stroke="#444" stroke-width="1" stroke-linecap="square"/>
<line x1="1611.6" y1="2059.1" x2="1749.6" y2="2059.1" stroke="#444" stroke-width="1" stroke-linecap="square"/>
<line x1="1611.6" y1="2435.4" x2="1749.6" y2="2435.4" stroke="#d9d9d9" stroke-width="1" stroke-linecap="square"/>
<line x1="1611.6" y1="2059.1" x2="1611.6" y2="2435.4" stroke="#444" stroke-width="1" stroke-linecap="square"/>
<line x1="1749.6" y1="2059.1" x2="1749.6" y2="2435.4" stroke="#444" stroke-width="1" stroke-linecap="square"/>
<line x1="1078.4" y1="2435.4" x2="1078.4" y2="2439.2" stroke="#222" stroke-width="1.1"/>
<text x="1078.4" y="2454.6" font-size="19.5" text-anchor="middle">−80</text>
<line x1="1211.8" y1="2435.4" x2="1211.8" y2="2439.2" stroke="#222" stroke-width="1.1"/>
<text x="1211.8" y="2454.6" font-size="19.5" text-anchor="middle">−70</text>
<line x1="1345.2" y1="2435.4" x2="1345.2" y2="2439.2" stroke="#222" stroke-width="1.1"/>
<text x="1345.2" y="2454.6" font-size="19.5" text-anchor="middle">−60</text>
<line x1="1478.6" y1="2435.4" x2="1478.6" y2="2439.2" stroke="#222" stroke-width="1.1"/>
<text x="1478.6" y="2454.6" font-size="19.5" text-anchor="middle">−50</text>
<line x1="990.4" y1="2069.4" x2="994.2" y2="2069.4" stroke="#222" stroke-width="1.1"/>
<text x="986.5" y="2076.38" font-size="19.5" text-anchor="end">20</text>
<line x1="990.4" y1="2121.7" x2="994.2" y2="2121.7" stroke="#222" stroke-width="1.1"/>
<text x="986.5" y="2128.68" font-size="19.5" text-anchor="end">15</text>
<line x1="990.4" y1="2174" x2="994.2" y2="2174" stroke="#222" stroke-width="1.1"/>
<text x="986.5" y="2180.98" font-size="19.5" text-anchor="end">10</text>
<line x1="990.4" y1="2226.3" x2="994.2" y2="2226.3" stroke="#222" stroke-width="1.1"/>
<text x="986.5" y="2233.28" font-size="19.5" text-anchor="end">5</text>
<line x1="990.4" y1="2278.6" x2="994.2" y2="2278.6" stroke="#222" stroke-width="1.1"/>
<text x="986.5" y="2285.58" font-size="19.5" text-anchor="end">0</text>
<line x1="990.4" y1="2330.9" x2="994.2" y2="2330.9" stroke="#222" stroke-width="1.1"/>
<text x="986.5" y="2337.88" font-size="19.5" text-anchor="end">−5</text>
<line x1="990.4" y1="2383.2" x2="994.2" y2="2383.2" stroke="#222" stroke-width="1.1"/>
<text x="986.5" y="2390.18" font-size="19.5" text-anchor="end">−10</text>
<line x1="990.4" y1="2435.5" x2="994.2" y2="2435.5" stroke="#222" stroke-width="1.1"/>
<text x="986.5" y="2442.48" font-size="19.5" text-anchor="end">−15</text>
<line x1="1611.6" y1="2435.4" x2="1611.6" y2="2439.2" stroke="#222" stroke-width="1.1"/>
<text x="1611.6" y="2454.6" font-size="19.5" text-anchor="middle">0</text>
<line x1="1677.4" y1="2435.4" x2="1677.4" y2="2439.2" stroke="#222" stroke-width="1.1"/>
<text x="1677.4" y="2454.6" font-size="19.5" text-anchor="middle">10</text>
<line x1="1743.2" y1="2435.4" x2="1743.2" y2="2439.2" stroke="#222" stroke-width="1.1"/>
<text x="1743.2" y="2454.6" font-size="19.5" text-anchor="middle">20</text>
<text x="922.4" y="2038.1" font-size="26" text-anchor="start">(j)</text>
<text x="1182.3" y="2048.2" font-size="34.3" text-anchor="start" textLength="209.1" lengthAdjust="spacingAndGlyphs" style="stroke-width:0.75px">Sagittal angle</text>
<text x="1391.8" y="2048.2" font-size="11" text-anchor="start" textLength="19" lengthAdjust="spacingAndGlyphs">TO</text>
<text x="1426.7" y="2048.2" font-size="34.3" text-anchor="start" textLength="129.3" lengthAdjust="spacingAndGlyphs" style="stroke-width:0.75px">(degree)</text>
<text x="1090.8" y="2478" font-size="21" text-anchor="start" textLength="300.8" lengthAdjust="spacingAndGlyphs">Mean of methods: Sagittal angle</text>
<text x="1392.5" y="2478" font-size="8" text-anchor="start" textLength="11.2" lengthAdjust="spacingAndGlyphs">TO</text>
<text x="1422.2" y="2478" font-size="21" text-anchor="start" textLength="78.6" lengthAdjust="spacingAndGlyphs">(degree)</text>
<text x="1631.6" y="2478" font-size="21" text-anchor="start" textLength="97.9" lengthAdjust="spacingAndGlyphs">Frequency</text>
<text x="0" y="0" font-size="21" text-anchor="middle" transform="translate(939,2247.2) rotate(-90)" textLength="214" lengthAdjust="spacingAndGlyphs">Difference (MS − OMC)</text>
</svg></body></html>
